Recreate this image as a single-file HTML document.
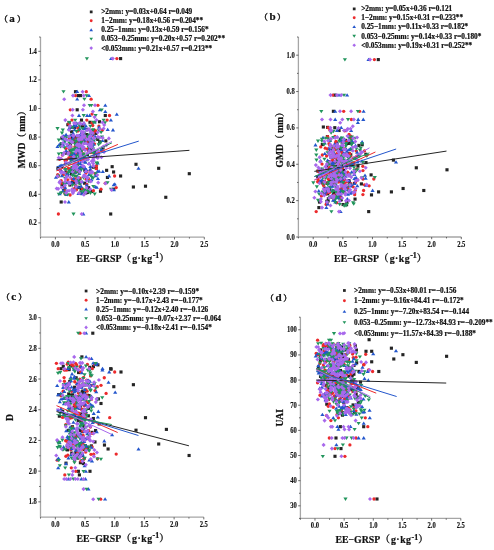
<!DOCTYPE html><html><head><meta charset="utf-8"><style>
html,body{margin:0;padding:0;background:#fff;}
svg{display:block;filter:blur(0.4px);}
text{font-family:'Liberation Serif', 'Noto Serif CJK SC', serif;font-weight:bold;fill:#111;stroke:#111;stroke-width:0.22px;}
.tl{font-size:6.6px;stroke-width:0.12px;}
.lg{font-size:6.4px;}
.pl{font-size:11px;}
.pp{font-size:8.4px;stroke-width:0.35px;}
.xl{font-size:9.8px;}
.sup{font-size:8px;}
.yl{font-size:9.6px;}
</style></head><body><svg width="494" height="550" viewBox="0 0 494 550">
<rect width="494" height="550" fill="#fff"/>
<path d="M40.50 37.00V237.20H204.30" fill="none" stroke="#a6a6a6" stroke-width="1.3"/>
<line x1="40.50" y1="237.20" x2="40.50" y2="238.60" stroke="#444" stroke-width="0.8"/>
<line x1="55.39" y1="237.20" x2="55.39" y2="239.40" stroke="#444" stroke-width="0.8"/>
<text transform="translate(55.39 247.00) scale(1 1.2)" class="tl" text-anchor="middle">0.0</text>
<line x1="70.28" y1="237.20" x2="70.28" y2="238.60" stroke="#444" stroke-width="0.8"/>
<line x1="85.17" y1="237.20" x2="85.17" y2="239.40" stroke="#444" stroke-width="0.8"/>
<text transform="translate(85.17 247.00) scale(1 1.2)" class="tl" text-anchor="middle">0.5</text>
<line x1="100.06" y1="237.20" x2="100.06" y2="238.60" stroke="#444" stroke-width="0.8"/>
<line x1="114.95" y1="237.20" x2="114.95" y2="239.40" stroke="#444" stroke-width="0.8"/>
<text transform="translate(114.95 247.00) scale(1 1.2)" class="tl" text-anchor="middle">1.0</text>
<line x1="129.85" y1="237.20" x2="129.85" y2="238.60" stroke="#444" stroke-width="0.8"/>
<line x1="144.74" y1="237.20" x2="144.74" y2="239.40" stroke="#444" stroke-width="0.8"/>
<text transform="translate(144.74 247.00) scale(1 1.2)" class="tl" text-anchor="middle">1.5</text>
<line x1="159.63" y1="237.20" x2="159.63" y2="238.60" stroke="#444" stroke-width="0.8"/>
<line x1="174.52" y1="237.20" x2="174.52" y2="239.40" stroke="#444" stroke-width="0.8"/>
<text transform="translate(174.52 247.00) scale(1 1.2)" class="tl" text-anchor="middle">2.0</text>
<line x1="189.41" y1="237.20" x2="189.41" y2="238.60" stroke="#444" stroke-width="0.8"/>
<line x1="204.30" y1="237.20" x2="204.30" y2="239.40" stroke="#444" stroke-width="0.8"/>
<text transform="translate(204.30 247.00) scale(1 1.2)" class="tl" text-anchor="middle">2.5</text>
<line x1="38.30" y1="222.90" x2="40.50" y2="222.90" stroke="#444" stroke-width="0.8"/>
<text transform="translate(36.90 225.45) scale(1 1.2)" class="tl" text-anchor="end">0.2</text>
<line x1="38.30" y1="194.30" x2="40.50" y2="194.30" stroke="#444" stroke-width="0.8"/>
<text transform="translate(36.90 196.85) scale(1 1.2)" class="tl" text-anchor="end">0.4</text>
<line x1="38.30" y1="165.70" x2="40.50" y2="165.70" stroke="#444" stroke-width="0.8"/>
<text transform="translate(36.90 168.25) scale(1 1.2)" class="tl" text-anchor="end">0.6</text>
<line x1="38.30" y1="137.10" x2="40.50" y2="137.10" stroke="#444" stroke-width="0.8"/>
<text transform="translate(36.90 139.65) scale(1 1.2)" class="tl" text-anchor="end">0.8</text>
<line x1="38.30" y1="108.50" x2="40.50" y2="108.50" stroke="#444" stroke-width="0.8"/>
<text transform="translate(36.90 111.05) scale(1 1.2)" class="tl" text-anchor="end">1.0</text>
<line x1="38.30" y1="79.90" x2="40.50" y2="79.90" stroke="#444" stroke-width="0.8"/>
<text transform="translate(36.90 82.45) scale(1 1.2)" class="tl" text-anchor="end">1.2</text>
<line x1="38.30" y1="51.30" x2="40.50" y2="51.30" stroke="#444" stroke-width="0.8"/>
<text transform="translate(36.90 53.85) scale(1 1.2)" class="tl" text-anchor="end">1.4</text>
<line x1="39.10" y1="208.60" x2="40.50" y2="208.60" stroke="#444" stroke-width="0.8"/>
<line x1="39.10" y1="180.00" x2="40.50" y2="180.00" stroke="#444" stroke-width="0.8"/>
<line x1="39.10" y1="151.40" x2="40.50" y2="151.40" stroke="#444" stroke-width="0.8"/>
<line x1="39.10" y1="122.80" x2="40.50" y2="122.80" stroke="#444" stroke-width="0.8"/>
<line x1="39.10" y1="94.20" x2="40.50" y2="94.20" stroke="#444" stroke-width="0.8"/>
<line x1="39.10" y1="65.60" x2="40.50" y2="65.60" stroke="#444" stroke-width="0.8"/>
<line x1="39.10" y1="37.00" x2="40.50" y2="37.00" stroke="#444" stroke-width="0.8"/>
<rect x="67.49" y="120.90" width="3.13" height="3.13" fill="#242424"/>
<rect x="94.26" y="131.82" width="3.13" height="3.13" fill="#242424"/>
<rect x="81.37" y="125.27" width="3.13" height="3.13" fill="#242424"/>
<rect x="85.25" y="133.01" width="3.13" height="3.13" fill="#242424"/>
<rect x="70.06" y="130.22" width="3.13" height="3.13" fill="#242424"/>
<rect x="92.13" y="128.60" width="3.13" height="3.13" fill="#242424"/>
<rect x="66.27" y="123.20" width="3.13" height="3.13" fill="#242424"/>
<rect x="73.16" y="125.78" width="3.13" height="3.13" fill="#242424"/>
<rect x="88.36" y="120.70" width="3.13" height="3.13" fill="#242424"/>
<rect x="85.64" y="128.11" width="3.13" height="3.13" fill="#242424"/>
<rect x="68.74" y="149.96" width="3.13" height="3.13" fill="#242424"/>
<rect x="64.86" y="151.62" width="3.13" height="3.13" fill="#242424"/>
<rect x="70.96" y="135.73" width="3.13" height="3.13" fill="#242424"/>
<rect x="96.20" y="137.85" width="3.13" height="3.13" fill="#242424"/>
<rect x="76.59" y="145.27" width="3.13" height="3.13" fill="#242424"/>
<rect x="80.05" y="157.92" width="3.13" height="3.13" fill="#242424"/>
<rect x="75.35" y="141.32" width="3.13" height="3.13" fill="#242424"/>
<rect x="104.27" y="139.35" width="3.13" height="3.13" fill="#242424"/>
<rect x="81.81" y="157.57" width="3.13" height="3.13" fill="#242424"/>
<rect x="76.18" y="151.63" width="3.13" height="3.13" fill="#242424"/>
<rect x="90.25" y="147.50" width="3.13" height="3.13" fill="#242424"/>
<rect x="59.56" y="143.18" width="3.13" height="3.13" fill="#242424"/>
<rect x="78.30" y="151.54" width="3.13" height="3.13" fill="#242424"/>
<rect x="85.82" y="153.11" width="3.13" height="3.13" fill="#242424"/>
<rect x="78.06" y="147.18" width="3.13" height="3.13" fill="#242424"/>
<rect x="98.14" y="140.29" width="3.13" height="3.13" fill="#242424"/>
<rect x="84.86" y="138.92" width="3.13" height="3.13" fill="#242424"/>
<rect x="80.23" y="136.55" width="3.13" height="3.13" fill="#242424"/>
<rect x="101.42" y="146.48" width="3.13" height="3.13" fill="#242424"/>
<rect x="87.20" y="141.71" width="3.13" height="3.13" fill="#242424"/>
<rect x="73.71" y="135.75" width="3.13" height="3.13" fill="#242424"/>
<rect x="66.11" y="150.86" width="3.13" height="3.13" fill="#242424"/>
<rect x="74.89" y="146.46" width="3.13" height="3.13" fill="#242424"/>
<rect x="85.55" y="134.31" width="3.13" height="3.13" fill="#242424"/>
<rect x="86.38" y="138.49" width="3.13" height="3.13" fill="#242424"/>
<rect x="70.61" y="134.20" width="3.13" height="3.13" fill="#242424"/>
<rect x="72.82" y="139.56" width="3.13" height="3.13" fill="#242424"/>
<rect x="60.28" y="136.59" width="3.13" height="3.13" fill="#242424"/>
<rect x="80.64" y="137.33" width="3.13" height="3.13" fill="#242424"/>
<rect x="79.83" y="134.58" width="3.13" height="3.13" fill="#242424"/>
<rect x="89.33" y="146.21" width="3.13" height="3.13" fill="#242424"/>
<rect x="71.66" y="137.23" width="3.13" height="3.13" fill="#242424"/>
<rect x="93.29" y="150.89" width="3.13" height="3.13" fill="#242424"/>
<rect x="74.73" y="144.15" width="3.13" height="3.13" fill="#242424"/>
<rect x="72.34" y="139.75" width="3.13" height="3.13" fill="#242424"/>
<rect x="68.77" y="153.61" width="3.13" height="3.13" fill="#242424"/>
<rect x="79.63" y="153.46" width="3.13" height="3.13" fill="#242424"/>
<rect x="68.95" y="142.74" width="3.13" height="3.13" fill="#242424"/>
<rect x="95.61" y="155.18" width="3.13" height="3.13" fill="#242424"/>
<rect x="82.75" y="155.27" width="3.13" height="3.13" fill="#242424"/>
<rect x="68.40" y="183.48" width="3.13" height="3.13" fill="#242424"/>
<rect x="65.70" y="173.84" width="3.13" height="3.13" fill="#242424"/>
<rect x="79.57" y="187.50" width="3.13" height="3.13" fill="#242424"/>
<rect x="77.24" y="185.95" width="3.13" height="3.13" fill="#242424"/>
<rect x="63.12" y="189.43" width="3.13" height="3.13" fill="#242424"/>
<rect x="105.87" y="175.88" width="3.13" height="3.13" fill="#242424"/>
<rect x="60.46" y="183.35" width="3.13" height="3.13" fill="#242424"/>
<rect x="56.48" y="166.72" width="3.13" height="3.13" fill="#242424"/>
<rect x="78.38" y="177.10" width="3.13" height="3.13" fill="#242424"/>
<rect x="87.05" y="186.12" width="3.13" height="3.13" fill="#242424"/>
<rect x="82.98" y="181.62" width="3.13" height="3.13" fill="#242424"/>
<rect x="74.10" y="185.45" width="3.13" height="3.13" fill="#242424"/>
<rect x="78.30" y="181.42" width="3.13" height="3.13" fill="#242424"/>
<rect x="98.92" y="189.64" width="3.13" height="3.13" fill="#242424"/>
<rect x="79.22" y="191.47" width="3.13" height="3.13" fill="#242424"/>
<rect x="78.33" y="168.11" width="3.13" height="3.13" fill="#242424"/>
<rect x="70.91" y="168.85" width="3.13" height="3.13" fill="#242424"/>
<rect x="69.88" y="172.48" width="3.13" height="3.13" fill="#242424"/>
<rect x="110.60" y="165.11" width="3.13" height="3.13" fill="#242424"/>
<rect x="85.10" y="189.50" width="3.13" height="3.13" fill="#242424"/>
<rect x="94.68" y="166.48" width="3.13" height="3.13" fill="#242424"/>
<rect x="73.13" y="181.43" width="3.13" height="3.13" fill="#242424"/>
<rect x="70.69" y="180.87" width="3.13" height="3.13" fill="#242424"/>
<rect x="60.26" y="165.20" width="3.13" height="3.13" fill="#242424"/>
<rect x="90.22" y="189.96" width="3.13" height="3.13" fill="#242424"/>
<rect x="56.67" y="167.83" width="3.13" height="3.13" fill="#242424"/>
<rect x="74.67" y="178.95" width="3.13" height="3.13" fill="#242424"/>
<rect x="81.87" y="165.62" width="3.13" height="3.13" fill="#242424"/>
<rect x="91.53" y="165.61" width="3.13" height="3.13" fill="#242424"/>
<rect x="62.14" y="188.81" width="3.13" height="3.13" fill="#242424"/>
<rect x="64.15" y="170.42" width="3.13" height="3.13" fill="#242424"/>
<rect x="105.07" y="168.76" width="3.13" height="3.13" fill="#242424"/>
<rect x="85.81" y="190.92" width="3.13" height="3.13" fill="#242424"/>
<rect x="84.24" y="191.41" width="3.13" height="3.13" fill="#242424"/>
<rect x="83.22" y="168.62" width="3.13" height="3.13" fill="#242424"/>
<rect x="97.97" y="120.19" width="3.13" height="3.13" fill="#242424"/>
<rect x="119.03" y="57.03" width="3.13" height="3.13" fill="#242424"/>
<rect x="73.93" y="90.13" width="3.13" height="3.13" fill="#242424"/>
<rect x="76.73" y="94.03" width="3.13" height="3.13" fill="#242424"/>
<rect x="78.93" y="94.03" width="3.13" height="3.13" fill="#242424"/>
<rect x="75.63" y="108.23" width="3.13" height="3.13" fill="#242424"/>
<rect x="103.73" y="113.93" width="3.13" height="3.13" fill="#242424"/>
<rect x="79.93" y="118.53" width="3.13" height="3.13" fill="#242424"/>
<rect x="80.53" y="124.53" width="3.13" height="3.13" fill="#242424"/>
<rect x="59.63" y="200.43" width="3.13" height="3.13" fill="#242424"/>
<rect x="109.13" y="212.43" width="3.13" height="3.13" fill="#242424"/>
<rect x="134.43" y="162.73" width="3.13" height="3.13" fill="#242424"/>
<rect x="157.13" y="166.73" width="3.13" height="3.13" fill="#242424"/>
<rect x="187.73" y="172.13" width="3.13" height="3.13" fill="#242424"/>
<rect x="112.03" y="170.43" width="3.13" height="3.13" fill="#242424"/>
<rect x="119.03" y="174.43" width="3.13" height="3.13" fill="#242424"/>
<rect x="131.83" y="185.43" width="3.13" height="3.13" fill="#242424"/>
<rect x="143.93" y="184.63" width="3.13" height="3.13" fill="#242424"/>
<rect x="164.23" y="195.73" width="3.13" height="3.13" fill="#242424"/>
<rect x="112.23" y="187.63" width="3.13" height="3.13" fill="#242424"/>
<circle cx="68.82" cy="124.08" r="1.65" fill="#ec2a2c"/>
<circle cx="77.74" cy="131.00" r="1.65" fill="#ec2a2c"/>
<circle cx="92.73" cy="125.48" r="1.65" fill="#ec2a2c"/>
<circle cx="77.90" cy="127.72" r="1.65" fill="#ec2a2c"/>
<circle cx="95.60" cy="130.73" r="1.65" fill="#ec2a2c"/>
<circle cx="71.40" cy="127.45" r="1.65" fill="#ec2a2c"/>
<circle cx="70.55" cy="126.72" r="1.65" fill="#ec2a2c"/>
<circle cx="93.63" cy="132.48" r="1.65" fill="#ec2a2c"/>
<circle cx="83.24" cy="124.44" r="1.65" fill="#ec2a2c"/>
<circle cx="83.15" cy="135.67" r="1.65" fill="#ec2a2c"/>
<circle cx="84.74" cy="149.09" r="1.65" fill="#ec2a2c"/>
<circle cx="80.09" cy="151.56" r="1.65" fill="#ec2a2c"/>
<circle cx="73.39" cy="141.19" r="1.65" fill="#ec2a2c"/>
<circle cx="80.41" cy="137.03" r="1.65" fill="#ec2a2c"/>
<circle cx="87.08" cy="142.66" r="1.65" fill="#ec2a2c"/>
<circle cx="69.15" cy="148.40" r="1.65" fill="#ec2a2c"/>
<circle cx="83.37" cy="153.99" r="1.65" fill="#ec2a2c"/>
<circle cx="83.36" cy="147.90" r="1.65" fill="#ec2a2c"/>
<circle cx="59.59" cy="159.25" r="1.65" fill="#ec2a2c"/>
<circle cx="75.79" cy="153.91" r="1.65" fill="#ec2a2c"/>
<circle cx="87.58" cy="148.79" r="1.65" fill="#ec2a2c"/>
<circle cx="72.12" cy="142.32" r="1.65" fill="#ec2a2c"/>
<circle cx="80.66" cy="157.11" r="1.65" fill="#ec2a2c"/>
<circle cx="69.87" cy="145.51" r="1.65" fill="#ec2a2c"/>
<circle cx="86.79" cy="142.91" r="1.65" fill="#ec2a2c"/>
<circle cx="80.57" cy="159.05" r="1.65" fill="#ec2a2c"/>
<circle cx="69.52" cy="138.42" r="1.65" fill="#ec2a2c"/>
<circle cx="82.66" cy="139.34" r="1.65" fill="#ec2a2c"/>
<circle cx="74.92" cy="146.86" r="1.65" fill="#ec2a2c"/>
<circle cx="84.12" cy="158.10" r="1.65" fill="#ec2a2c"/>
<circle cx="80.38" cy="142.60" r="1.65" fill="#ec2a2c"/>
<circle cx="62.33" cy="154.99" r="1.65" fill="#ec2a2c"/>
<circle cx="71.49" cy="141.69" r="1.65" fill="#ec2a2c"/>
<circle cx="90.87" cy="152.56" r="1.65" fill="#ec2a2c"/>
<circle cx="70.93" cy="146.73" r="1.65" fill="#ec2a2c"/>
<circle cx="78.36" cy="136.58" r="1.65" fill="#ec2a2c"/>
<circle cx="71.60" cy="153.47" r="1.65" fill="#ec2a2c"/>
<circle cx="88.43" cy="149.31" r="1.65" fill="#ec2a2c"/>
<circle cx="94.39" cy="143.84" r="1.65" fill="#ec2a2c"/>
<circle cx="77.55" cy="142.11" r="1.65" fill="#ec2a2c"/>
<circle cx="74.26" cy="138.25" r="1.65" fill="#ec2a2c"/>
<circle cx="80.38" cy="145.11" r="1.65" fill="#ec2a2c"/>
<circle cx="80.23" cy="145.95" r="1.65" fill="#ec2a2c"/>
<circle cx="84.93" cy="136.53" r="1.65" fill="#ec2a2c"/>
<circle cx="85.31" cy="140.84" r="1.65" fill="#ec2a2c"/>
<circle cx="80.01" cy="150.90" r="1.65" fill="#ec2a2c"/>
<circle cx="69.92" cy="152.66" r="1.65" fill="#ec2a2c"/>
<circle cx="80.67" cy="159.79" r="1.65" fill="#ec2a2c"/>
<circle cx="98.03" cy="152.81" r="1.65" fill="#ec2a2c"/>
<circle cx="73.60" cy="158.48" r="1.65" fill="#ec2a2c"/>
<circle cx="81.33" cy="151.42" r="1.65" fill="#ec2a2c"/>
<circle cx="88.18" cy="150.58" r="1.65" fill="#ec2a2c"/>
<circle cx="70.98" cy="156.73" r="1.65" fill="#ec2a2c"/>
<circle cx="92.64" cy="135.33" r="1.65" fill="#ec2a2c"/>
<circle cx="79.23" cy="139.72" r="1.65" fill="#ec2a2c"/>
<circle cx="84.00" cy="137.16" r="1.65" fill="#ec2a2c"/>
<circle cx="65.91" cy="148.55" r="1.65" fill="#ec2a2c"/>
<circle cx="68.80" cy="157.98" r="1.65" fill="#ec2a2c"/>
<circle cx="78.03" cy="154.45" r="1.65" fill="#ec2a2c"/>
<circle cx="83.43" cy="148.73" r="1.65" fill="#ec2a2c"/>
<circle cx="86.68" cy="171.37" r="1.65" fill="#ec2a2c"/>
<circle cx="74.65" cy="172.67" r="1.65" fill="#ec2a2c"/>
<circle cx="72.15" cy="179.46" r="1.65" fill="#ec2a2c"/>
<circle cx="66.49" cy="160.02" r="1.65" fill="#ec2a2c"/>
<circle cx="95.07" cy="173.45" r="1.65" fill="#ec2a2c"/>
<circle cx="70.10" cy="194.98" r="1.65" fill="#ec2a2c"/>
<circle cx="68.22" cy="168.47" r="1.65" fill="#ec2a2c"/>
<circle cx="65.00" cy="193.79" r="1.65" fill="#ec2a2c"/>
<circle cx="74.26" cy="180.30" r="1.65" fill="#ec2a2c"/>
<circle cx="82.41" cy="188.76" r="1.65" fill="#ec2a2c"/>
<circle cx="60.24" cy="170.23" r="1.65" fill="#ec2a2c"/>
<circle cx="61.97" cy="183.09" r="1.65" fill="#ec2a2c"/>
<circle cx="73.32" cy="188.81" r="1.65" fill="#ec2a2c"/>
<circle cx="76.42" cy="170.76" r="1.65" fill="#ec2a2c"/>
<circle cx="65.33" cy="163.72" r="1.65" fill="#ec2a2c"/>
<circle cx="86.16" cy="179.37" r="1.65" fill="#ec2a2c"/>
<circle cx="69.47" cy="163.56" r="1.65" fill="#ec2a2c"/>
<circle cx="64.55" cy="187.32" r="1.65" fill="#ec2a2c"/>
<circle cx="96.49" cy="168.68" r="1.65" fill="#ec2a2c"/>
<circle cx="57.72" cy="174.75" r="1.65" fill="#ec2a2c"/>
<circle cx="60.71" cy="170.81" r="1.65" fill="#ec2a2c"/>
<circle cx="76.55" cy="189.79" r="1.65" fill="#ec2a2c"/>
<circle cx="75.10" cy="178.98" r="1.65" fill="#ec2a2c"/>
<circle cx="96.53" cy="165.75" r="1.65" fill="#ec2a2c"/>
<circle cx="85.94" cy="173.04" r="1.65" fill="#ec2a2c"/>
<circle cx="93.43" cy="190.63" r="1.65" fill="#ec2a2c"/>
<circle cx="86.79" cy="184.47" r="1.65" fill="#ec2a2c"/>
<circle cx="77.98" cy="164.20" r="1.65" fill="#ec2a2c"/>
<circle cx="67.28" cy="172.73" r="1.65" fill="#ec2a2c"/>
<circle cx="65.10" cy="160.43" r="1.65" fill="#ec2a2c"/>
<circle cx="88.47" cy="178.81" r="1.65" fill="#ec2a2c"/>
<circle cx="63.40" cy="174.63" r="1.65" fill="#ec2a2c"/>
<circle cx="105.29" cy="183.16" r="1.65" fill="#ec2a2c"/>
<circle cx="79.46" cy="178.01" r="1.65" fill="#ec2a2c"/>
<circle cx="64.90" cy="190.86" r="1.65" fill="#ec2a2c"/>
<circle cx="70.30" cy="168.69" r="1.65" fill="#ec2a2c"/>
<circle cx="67.85" cy="179.84" r="1.65" fill="#ec2a2c"/>
<circle cx="58.56" cy="176.03" r="1.65" fill="#ec2a2c"/>
<circle cx="61.18" cy="180.73" r="1.65" fill="#ec2a2c"/>
<circle cx="78.82" cy="170.22" r="1.65" fill="#ec2a2c"/>
<circle cx="100.98" cy="189.13" r="1.65" fill="#ec2a2c"/>
<circle cx="77.83" cy="171.60" r="1.65" fill="#ec2a2c"/>
<circle cx="90.27" cy="172.61" r="1.65" fill="#ec2a2c"/>
<circle cx="76.75" cy="176.36" r="1.65" fill="#ec2a2c"/>
<circle cx="90.22" cy="170.61" r="1.65" fill="#ec2a2c"/>
<circle cx="75.89" cy="186.10" r="1.65" fill="#ec2a2c"/>
<circle cx="99.58" cy="129.11" r="1.65" fill="#ec2a2c"/>
<circle cx="102.58" cy="130.01" r="1.65" fill="#ec2a2c"/>
<circle cx="91.99" cy="114.05" r="1.65" fill="#ec2a2c"/>
<circle cx="116.90" cy="58.60" r="1.65" fill="#ec2a2c"/>
<circle cx="86.30" cy="91.70" r="1.65" fill="#ec2a2c"/>
<circle cx="75.50" cy="95.60" r="1.65" fill="#ec2a2c"/>
<circle cx="91.10" cy="99.20" r="1.65" fill="#ec2a2c"/>
<circle cx="97.90" cy="105.30" r="1.65" fill="#ec2a2c"/>
<circle cx="70.30" cy="109.80" r="1.65" fill="#ec2a2c"/>
<circle cx="109.50" cy="115.50" r="1.65" fill="#ec2a2c"/>
<circle cx="72.00" cy="120.10" r="1.65" fill="#ec2a2c"/>
<circle cx="86.80" cy="120.10" r="1.65" fill="#ec2a2c"/>
<circle cx="107.10" cy="120.10" r="1.65" fill="#ec2a2c"/>
<circle cx="92.00" cy="123.00" r="1.65" fill="#ec2a2c"/>
<circle cx="98.90" cy="126.10" r="1.65" fill="#ec2a2c"/>
<circle cx="58.40" cy="214.00" r="1.65" fill="#ec2a2c"/>
<circle cx="116.20" cy="187.60" r="1.65" fill="#ec2a2c"/>
<circle cx="114.60" cy="176.00" r="1.65" fill="#ec2a2c"/>
<path d="M73.20 131.46L75.29 134.78L71.12 134.78Z" fill="#2356cc"/>
<path d="M76.17 123.72L78.26 127.04L74.09 127.04Z" fill="#2356cc"/>
<path d="M84.16 126.66L86.25 129.98L82.07 129.98Z" fill="#2356cc"/>
<path d="M80.94 132.03L83.03 135.35L78.86 135.35Z" fill="#2356cc"/>
<path d="M94.67 120.15L96.76 123.47L92.58 123.47Z" fill="#2356cc"/>
<path d="M83.82 122.06L85.91 125.38L81.73 125.38Z" fill="#2356cc"/>
<path d="M90.51 132.83L92.60 136.15L88.42 136.15Z" fill="#2356cc"/>
<path d="M76.63 121.36L78.71 124.68L74.54 124.68Z" fill="#2356cc"/>
<path d="M70.75 125.44L72.83 128.77L68.66 128.77Z" fill="#2356cc"/>
<path d="M79.65 126.91L81.74 130.23L77.56 130.23Z" fill="#2356cc"/>
<path d="M107.69 127.78L109.78 131.10L105.61 131.10Z" fill="#2356cc"/>
<path d="M85.26 126.85L87.35 130.17L83.17 130.17Z" fill="#2356cc"/>
<path d="M92.31 132.43L94.40 135.75L90.23 135.75Z" fill="#2356cc"/>
<path d="M73.70 123.63L75.79 126.95L71.61 126.95Z" fill="#2356cc"/>
<path d="M66.09 132.85L68.18 136.17L64.01 136.17Z" fill="#2356cc"/>
<path d="M82.44 132.10L84.52 135.42L80.35 135.42Z" fill="#2356cc"/>
<path d="M68.95 126.86L71.03 130.18L66.86 130.18Z" fill="#2356cc"/>
<path d="M99.03 125.28L101.12 128.60L96.94 128.60Z" fill="#2356cc"/>
<path d="M74.61 127.83L76.70 131.15L72.52 131.15Z" fill="#2356cc"/>
<path d="M80.71 132.60L82.79 135.92L78.62 135.92Z" fill="#2356cc"/>
<path d="M70.40 124.24L72.49 127.56L68.32 127.56Z" fill="#2356cc"/>
<path d="M90.77 139.42L92.85 142.74L88.68 142.74Z" fill="#2356cc"/>
<path d="M93.70 142.40L95.79 145.72L91.61 145.72Z" fill="#2356cc"/>
<path d="M73.46 135.14L75.54 138.46L71.37 138.46Z" fill="#2356cc"/>
<path d="M80.36 133.94L82.44 137.26L78.27 137.26Z" fill="#2356cc"/>
<path d="M74.38 151.86L76.47 155.18L72.30 155.18Z" fill="#2356cc"/>
<path d="M84.51 140.91L86.60 144.23L82.42 144.23Z" fill="#2356cc"/>
<path d="M95.08 134.52L97.16 137.84L92.99 137.84Z" fill="#2356cc"/>
<path d="M102.47 138.78L104.56 142.10L100.39 142.10Z" fill="#2356cc"/>
<path d="M67.65 143.48L69.74 146.80L65.57 146.80Z" fill="#2356cc"/>
<path d="M78.50 147.06L80.59 150.38L76.41 150.38Z" fill="#2356cc"/>
<path d="M72.69 158.08L74.78 161.40L70.60 161.40Z" fill="#2356cc"/>
<path d="M63.21 142.39L65.30 145.71L61.12 145.71Z" fill="#2356cc"/>
<path d="M77.10 142.44L79.18 145.76L75.01 145.76Z" fill="#2356cc"/>
<path d="M76.67 149.03L78.76 152.35L74.58 152.35Z" fill="#2356cc"/>
<path d="M79.97 146.22L82.06 149.54L77.88 149.54Z" fill="#2356cc"/>
<path d="M79.49 139.51L81.58 142.83L77.41 142.83Z" fill="#2356cc"/>
<path d="M74.32 152.40L76.40 155.72L72.23 155.72Z" fill="#2356cc"/>
<path d="M81.74 145.33L83.83 148.65L79.65 148.65Z" fill="#2356cc"/>
<path d="M77.76 149.10L79.85 152.42L75.67 152.42Z" fill="#2356cc"/>
<path d="M83.59 137.18L85.68 140.50L81.50 140.50Z" fill="#2356cc"/>
<path d="M62.69 143.54L64.78 146.86L60.60 146.86Z" fill="#2356cc"/>
<path d="M63.87 133.91L65.95 137.23L61.78 137.23Z" fill="#2356cc"/>
<path d="M73.36 154.39L75.45 157.71L71.27 157.71Z" fill="#2356cc"/>
<path d="M82.21 135.04L84.30 138.36L80.13 138.36Z" fill="#2356cc"/>
<path d="M80.56 154.66L82.65 157.98L78.47 157.98Z" fill="#2356cc"/>
<path d="M95.78 151.23L97.86 154.55L93.69 154.55Z" fill="#2356cc"/>
<path d="M70.37 133.76L72.45 137.08L68.28 137.08Z" fill="#2356cc"/>
<path d="M64.25 140.30L66.34 143.62L62.17 143.62Z" fill="#2356cc"/>
<path d="M83.35 153.22L85.44 156.54L81.26 156.54Z" fill="#2356cc"/>
<path d="M72.66 136.94L74.75 140.26L70.57 140.26Z" fill="#2356cc"/>
<path d="M63.45 137.25L65.54 140.57L61.36 140.57Z" fill="#2356cc"/>
<path d="M76.97 146.64L79.06 149.97L74.88 149.97Z" fill="#2356cc"/>
<path d="M85.77 137.91L87.86 141.24L83.69 141.24Z" fill="#2356cc"/>
<path d="M77.37 146.20L79.46 149.52L75.28 149.52Z" fill="#2356cc"/>
<path d="M71.17 152.64L73.25 155.96L69.08 155.96Z" fill="#2356cc"/>
<path d="M101.30 147.77L103.39 151.09L99.21 151.09Z" fill="#2356cc"/>
<path d="M82.01 155.28L84.10 158.60L79.92 158.60Z" fill="#2356cc"/>
<path d="M69.07 151.50L71.16 154.82L66.98 154.82Z" fill="#2356cc"/>
<path d="M91.10 136.40L93.19 139.72L89.01 139.72Z" fill="#2356cc"/>
<path d="M89.26 147.20L91.34 150.52L87.17 150.52Z" fill="#2356cc"/>
<path d="M78.80 156.67L80.89 159.99L76.72 159.99Z" fill="#2356cc"/>
<path d="M70.89 156.61L72.97 159.93L68.80 159.93Z" fill="#2356cc"/>
<path d="M73.90 152.02L75.99 155.34L71.82 155.34Z" fill="#2356cc"/>
<path d="M59.25 142.76L61.34 146.08L57.16 146.08Z" fill="#2356cc"/>
<path d="M79.19 152.12L81.28 155.44L77.10 155.44Z" fill="#2356cc"/>
<path d="M66.05 149.01L68.14 152.33L63.97 152.33Z" fill="#2356cc"/>
<path d="M73.95 147.55L76.03 150.87L71.86 150.87Z" fill="#2356cc"/>
<path d="M80.58 148.34L82.66 151.66L78.49 151.66Z" fill="#2356cc"/>
<path d="M93.75 138.22L95.84 141.55L91.66 141.55Z" fill="#2356cc"/>
<path d="M84.59 133.80L86.68 137.12L82.50 137.12Z" fill="#2356cc"/>
<path d="M89.94 141.43L92.03 144.75L87.85 144.75Z" fill="#2356cc"/>
<path d="M78.35 137.53L80.44 140.85L76.26 140.85Z" fill="#2356cc"/>
<path d="M81.75 156.88L83.84 160.21L79.67 160.21Z" fill="#2356cc"/>
<path d="M77.05 157.48L79.14 160.80L74.97 160.80Z" fill="#2356cc"/>
<path d="M94.22 154.59L96.31 157.91L92.13 157.91Z" fill="#2356cc"/>
<path d="M101.41 148.17L103.50 151.49L99.33 151.49Z" fill="#2356cc"/>
<path d="M89.10 141.86L91.19 145.18L87.01 145.18Z" fill="#2356cc"/>
<path d="M92.31 143.83L94.40 147.15L90.22 147.15Z" fill="#2356cc"/>
<path d="M76.37 155.71L78.46 159.03L74.29 159.03Z" fill="#2356cc"/>
<path d="M76.80 145.73L78.88 149.05L74.71 149.05Z" fill="#2356cc"/>
<path d="M80.34 154.70L82.43 158.02L78.25 158.02Z" fill="#2356cc"/>
<path d="M77.74 152.59L79.82 155.91L75.65 155.91Z" fill="#2356cc"/>
<path d="M101.55 148.16L103.64 151.48L99.46 151.48Z" fill="#2356cc"/>
<path d="M81.00 136.79L83.09 140.11L78.91 140.11Z" fill="#2356cc"/>
<path d="M62.90 188.91L64.99 192.23L60.82 192.23Z" fill="#2356cc"/>
<path d="M66.84 172.39L68.93 175.71L64.75 175.71Z" fill="#2356cc"/>
<path d="M59.61 191.83L61.70 195.15L57.52 195.15Z" fill="#2356cc"/>
<path d="M65.94 180.51L68.02 183.83L63.85 183.83Z" fill="#2356cc"/>
<path d="M66.32 192.73L68.41 196.06L64.24 196.06Z" fill="#2356cc"/>
<path d="M89.01 161.57L91.10 164.89L86.92 164.89Z" fill="#2356cc"/>
<path d="M69.49 169.56L71.57 172.88L67.40 172.88Z" fill="#2356cc"/>
<path d="M84.88 159.86L86.96 163.18L82.79 163.18Z" fill="#2356cc"/>
<path d="M89.05 172.56L91.13 175.88L86.96 175.88Z" fill="#2356cc"/>
<path d="M79.58 168.37L81.67 171.69L77.50 171.69Z" fill="#2356cc"/>
<path d="M67.83 180.86L69.92 184.18L65.75 184.18Z" fill="#2356cc"/>
<path d="M113.72 182.88L115.80 186.20L111.63 186.20Z" fill="#2356cc"/>
<path d="M97.69 161.18L99.78 164.50L95.60 164.50Z" fill="#2356cc"/>
<path d="M97.92 176.67L100.01 179.99L95.83 179.99Z" fill="#2356cc"/>
<path d="M91.39 177.80L93.48 181.12L89.30 181.12Z" fill="#2356cc"/>
<path d="M79.37 165.80L81.46 169.12L77.28 169.12Z" fill="#2356cc"/>
<path d="M80.35 161.78L82.44 165.10L78.26 165.10Z" fill="#2356cc"/>
<path d="M55.95 175.42L58.04 178.74L53.87 178.74Z" fill="#2356cc"/>
<path d="M86.32 167.74L88.41 171.06L84.24 171.06Z" fill="#2356cc"/>
<path d="M82.30 179.93L84.39 183.25L80.22 183.25Z" fill="#2356cc"/>
<path d="M68.17 171.93L70.25 175.26L66.08 175.26Z" fill="#2356cc"/>
<path d="M80.97 164.70L83.06 168.02L78.88 168.02Z" fill="#2356cc"/>
<path d="M85.09 166.31L87.18 169.63L83.00 169.63Z" fill="#2356cc"/>
<path d="M61.90 163.54L63.99 166.86L59.81 166.86Z" fill="#2356cc"/>
<path d="M113.78 187.91L115.86 191.23L111.69 191.23Z" fill="#2356cc"/>
<path d="M75.58 170.47L77.67 173.79L73.50 173.79Z" fill="#2356cc"/>
<path d="M95.91 172.35L98.00 175.67L93.82 175.67Z" fill="#2356cc"/>
<path d="M71.26 158.51L73.34 161.83L69.17 161.83Z" fill="#2356cc"/>
<path d="M72.46 166.30L74.54 169.62L70.37 169.62Z" fill="#2356cc"/>
<path d="M79.20 171.79L81.28 175.11L77.11 175.11Z" fill="#2356cc"/>
<path d="M65.21 180.27L67.29 183.59L63.12 183.59Z" fill="#2356cc"/>
<path d="M90.37 164.78L92.45 168.10L88.28 168.10Z" fill="#2356cc"/>
<path d="M65.21 185.95L67.30 189.27L63.13 189.27Z" fill="#2356cc"/>
<path d="M99.07 169.36L101.16 172.68L96.99 172.68Z" fill="#2356cc"/>
<path d="M90.26 167.34L92.34 170.66L88.17 170.66Z" fill="#2356cc"/>
<path d="M95.29 184.95L97.38 188.27L93.20 188.27Z" fill="#2356cc"/>
<path d="M78.53 191.57L80.62 194.89L76.45 194.89Z" fill="#2356cc"/>
<path d="M97.56 169.41L99.65 172.73L95.47 172.73Z" fill="#2356cc"/>
<path d="M102.82 169.69L104.90 173.01L100.73 173.01Z" fill="#2356cc"/>
<path d="M61.88 173.81L63.97 177.13L59.79 177.13Z" fill="#2356cc"/>
<path d="M85.57 169.74L87.66 173.06L83.49 173.06Z" fill="#2356cc"/>
<path d="M74.01 164.13L76.10 167.45L71.92 167.45Z" fill="#2356cc"/>
<path d="M70.17 181.03L72.26 184.35L68.09 184.35Z" fill="#2356cc"/>
<path d="M81.29 159.45L83.38 162.78L79.20 162.78Z" fill="#2356cc"/>
<path d="M95.82 173.83L97.90 177.15L93.73 177.15Z" fill="#2356cc"/>
<path d="M71.97 180.84L74.05 184.16L69.88 184.16Z" fill="#2356cc"/>
<path d="M96.80 185.45L98.89 188.77L94.72 188.77Z" fill="#2356cc"/>
<path d="M87.18 175.16L89.27 178.48L85.09 178.48Z" fill="#2356cc"/>
<path d="M60.23 163.73L62.32 167.05L58.15 167.05Z" fill="#2356cc"/>
<path d="M71.63 166.51L73.72 169.83L69.55 169.83Z" fill="#2356cc"/>
<path d="M65.03 166.47L67.12 169.79L62.94 169.79Z" fill="#2356cc"/>
<path d="M90.69 178.97L92.77 182.29L88.60 182.29Z" fill="#2356cc"/>
<path d="M85.45 160.31L87.53 163.63L83.36 163.63Z" fill="#2356cc"/>
<path d="M75.66 165.22L77.75 168.54L73.57 168.54Z" fill="#2356cc"/>
<path d="M78.17 160.76L80.26 164.08L76.09 164.08Z" fill="#2356cc"/>
<path d="M82.29 191.88L84.38 195.20L80.20 195.20Z" fill="#2356cc"/>
<path d="M86.78 183.29L88.87 186.61L84.69 186.61Z" fill="#2356cc"/>
<path d="M81.12 184.35L83.21 187.67L79.03 187.67Z" fill="#2356cc"/>
<path d="M73.64 176.71L75.73 180.04L71.56 180.04Z" fill="#2356cc"/>
<path d="M64.29 183.06L66.38 186.38L62.20 186.38Z" fill="#2356cc"/>
<path d="M61.62 169.79L63.71 173.11L59.53 173.11Z" fill="#2356cc"/>
<path d="M77.14 178.98L79.23 182.30L75.06 182.30Z" fill="#2356cc"/>
<path d="M78.61 185.26L80.70 188.58L76.52 188.58Z" fill="#2356cc"/>
<path d="M81.44 190.17L83.52 193.49L79.35 193.49Z" fill="#2356cc"/>
<path d="M116.79 112.51L118.88 115.83L114.71 115.83Z" fill="#2356cc"/>
<path d="M111.10 56.70L113.19 60.02L109.01 60.02Z" fill="#2356cc"/>
<path d="M77.20 89.80L79.29 93.12L75.11 93.12Z" fill="#2356cc"/>
<path d="M89.00 93.70L91.09 97.02L86.91 97.02Z" fill="#2356cc"/>
<path d="M77.20 97.30L79.29 100.62L75.11 100.62Z" fill="#2356cc"/>
<path d="M105.30 103.40L107.39 106.72L103.21 106.72Z" fill="#2356cc"/>
<path d="M99.90 107.90L101.99 111.22L97.81 111.22Z" fill="#2356cc"/>
<path d="M105.30 109.70L107.39 113.02L103.21 113.02Z" fill="#2356cc"/>
<path d="M79.00 113.60L81.09 116.92L76.91 116.92Z" fill="#2356cc"/>
<path d="M87.10 113.60L89.19 116.92L85.01 116.92Z" fill="#2356cc"/>
<path d="M89.70 113.60L91.79 116.92L87.61 116.92Z" fill="#2356cc"/>
<path d="M110.90 118.20L112.99 121.52L108.81 121.52Z" fill="#2356cc"/>
<path d="M84.00 121.10L86.09 124.42L81.91 124.42Z" fill="#2356cc"/>
<path d="M74.80 124.20L76.89 127.52L72.71 127.52Z" fill="#2356cc"/>
<path d="M86.00 124.20L88.09 127.52L83.91 127.52Z" fill="#2356cc"/>
<path d="M113.00 128.10L115.09 131.42L110.91 131.42Z" fill="#2356cc"/>
<path d="M68.80 200.10L70.89 203.42L66.71 203.42Z" fill="#2356cc"/>
<path d="M83.30 212.10L85.39 215.42L81.21 215.42Z" fill="#2356cc"/>
<path d="M138.50 166.40L140.59 169.72L136.41 169.72Z" fill="#2356cc"/>
<path d="M114.80 182.20L116.89 185.52L112.71 185.52Z" fill="#2356cc"/>
<path d="M109.10 174.10L111.19 177.42L107.01 177.42Z" fill="#2356cc"/>
<path d="M57.50 144.70L59.59 148.02L55.41 148.02Z" fill="#2356cc"/>
<path d="M82.47 130.36L84.55 127.04L80.38 127.04Z" fill="#22955c"/>
<path d="M84.22 134.91L86.30 131.59L82.13 131.59Z" fill="#22955c"/>
<path d="M92.45 135.22L94.54 131.90L90.37 131.90Z" fill="#22955c"/>
<path d="M105.00 124.67L107.09 121.35L102.92 121.35Z" fill="#22955c"/>
<path d="M98.82 132.19L100.91 128.87L96.74 128.87Z" fill="#22955c"/>
<path d="M79.40 125.79L81.49 122.47L77.31 122.47Z" fill="#22955c"/>
<path d="M90.35 128.09L92.44 124.76L88.26 124.76Z" fill="#22955c"/>
<path d="M76.50 133.33L78.59 130.01L74.41 130.01Z" fill="#22955c"/>
<path d="M82.28 135.55L84.36 132.23L80.19 132.23Z" fill="#22955c"/>
<path d="M72.27 129.44L74.36 126.12L70.19 126.12Z" fill="#22955c"/>
<path d="M79.41 132.08L81.49 128.76L77.32 128.76Z" fill="#22955c"/>
<path d="M91.08 132.16L93.17 128.83L89.00 128.83Z" fill="#22955c"/>
<path d="M82.63 135.80L84.72 132.48L80.54 132.48Z" fill="#22955c"/>
<path d="M93.44 124.17L95.53 120.85L91.36 120.85Z" fill="#22955c"/>
<path d="M93.14 131.84L95.22 128.52L91.05 128.52Z" fill="#22955c"/>
<path d="M69.29 124.41L71.37 121.09L67.20 121.09Z" fill="#22955c"/>
<path d="M69.83 156.83L71.92 153.51L67.75 153.51Z" fill="#22955c"/>
<path d="M71.53 152.87L73.62 149.55L69.45 149.55Z" fill="#22955c"/>
<path d="M65.05 139.42L67.14 136.10L62.96 136.10Z" fill="#22955c"/>
<path d="M81.52 144.39L83.61 141.07L79.43 141.07Z" fill="#22955c"/>
<path d="M86.62 141.58L88.71 138.26L84.53 138.26Z" fill="#22955c"/>
<path d="M83.75 155.83L85.84 152.51L81.67 152.51Z" fill="#22955c"/>
<path d="M98.63 146.59L100.72 143.26L96.54 143.26Z" fill="#22955c"/>
<path d="M78.41 157.53L80.50 154.21L76.32 154.21Z" fill="#22955c"/>
<path d="M66.11 139.98L68.20 136.66L64.03 136.66Z" fill="#22955c"/>
<path d="M75.45 143.54L77.54 140.22L73.37 140.22Z" fill="#22955c"/>
<path d="M80.56 146.79L82.65 143.47L78.47 143.47Z" fill="#22955c"/>
<path d="M88.77 149.33L90.86 146.01L86.68 146.01Z" fill="#22955c"/>
<path d="M93.23 155.29L95.32 151.97L91.15 151.97Z" fill="#22955c"/>
<path d="M76.85 152.99L78.94 149.67L74.76 149.67Z" fill="#22955c"/>
<path d="M75.95 150.67L78.04 147.35L73.86 147.35Z" fill="#22955c"/>
<path d="M71.90 142.45L73.99 139.13L69.81 139.13Z" fill="#22955c"/>
<path d="M93.16 150.84L95.25 147.52L91.08 147.52Z" fill="#22955c"/>
<path d="M72.82 151.49L74.91 148.17L70.74 148.17Z" fill="#22955c"/>
<path d="M101.99 138.73L104.08 135.41L99.90 135.41Z" fill="#22955c"/>
<path d="M76.58 143.05L78.67 139.73L74.49 139.73Z" fill="#22955c"/>
<path d="M70.57 152.42L72.66 149.10L68.49 149.10Z" fill="#22955c"/>
<path d="M78.15 138.13L80.23 134.81L76.06 134.81Z" fill="#22955c"/>
<path d="M83.27 156.20L85.36 152.88L81.19 152.88Z" fill="#22955c"/>
<path d="M74.02 151.15L76.10 147.83L71.93 147.83Z" fill="#22955c"/>
<path d="M83.98 145.29L86.07 141.97L81.89 141.97Z" fill="#22955c"/>
<path d="M84.98 158.23L87.07 154.91L82.90 154.91Z" fill="#22955c"/>
<path d="M84.32 144.72L86.41 141.40L82.23 141.40Z" fill="#22955c"/>
<path d="M89.65 142.02L91.74 138.70L87.56 138.70Z" fill="#22955c"/>
<path d="M76.17 158.53L78.26 155.21L74.08 155.21Z" fill="#22955c"/>
<path d="M87.81 160.74L89.90 157.42L85.72 157.42Z" fill="#22955c"/>
<path d="M71.21 144.99L73.30 141.67L69.12 141.67Z" fill="#22955c"/>
<path d="M77.12 141.85L79.21 138.53L75.04 138.53Z" fill="#22955c"/>
<path d="M88.38 139.57L90.47 136.25L86.30 136.25Z" fill="#22955c"/>
<path d="M64.39 149.59L66.47 146.27L62.30 146.27Z" fill="#22955c"/>
<path d="M98.09 140.12L100.18 136.80L96.01 136.80Z" fill="#22955c"/>
<path d="M87.67 138.57L89.76 135.25L85.58 135.25Z" fill="#22955c"/>
<path d="M86.94 161.83L89.02 158.51L84.85 158.51Z" fill="#22955c"/>
<path d="M81.42 153.69L83.51 150.37L79.33 150.37Z" fill="#22955c"/>
<path d="M75.77 161.66L77.86 158.34L73.68 158.34Z" fill="#22955c"/>
<path d="M61.49 145.30L63.57 141.97L59.40 141.97Z" fill="#22955c"/>
<path d="M82.69 139.41L84.78 136.09L80.61 136.09Z" fill="#22955c"/>
<path d="M79.78 160.70L81.87 157.38L77.69 157.38Z" fill="#22955c"/>
<path d="M76.19 149.87L78.28 146.55L74.10 146.55Z" fill="#22955c"/>
<path d="M80.77 157.20L82.86 153.88L78.68 153.88Z" fill="#22955c"/>
<path d="M89.14 137.10L91.23 133.78L87.05 133.78Z" fill="#22955c"/>
<path d="M94.11 142.15L96.20 138.83L92.02 138.83Z" fill="#22955c"/>
<path d="M75.10 146.43L77.19 143.11L73.02 143.11Z" fill="#22955c"/>
<path d="M80.71 149.93L82.79 146.61L78.62 146.61Z" fill="#22955c"/>
<path d="M92.25 144.16L94.34 140.84L90.17 140.84Z" fill="#22955c"/>
<path d="M71.92 144.14L74.01 140.81L69.83 140.81Z" fill="#22955c"/>
<path d="M100.55 144.63L102.63 141.31L98.46 141.31Z" fill="#22955c"/>
<path d="M81.54 139.26L83.63 135.94L79.46 135.94Z" fill="#22955c"/>
<path d="M69.27 144.86L71.36 141.53L67.19 141.53Z" fill="#22955c"/>
<path d="M83.14 139.75L85.23 136.43L81.05 136.43Z" fill="#22955c"/>
<path d="M72.29 154.87L74.37 151.55L70.20 151.55Z" fill="#22955c"/>
<path d="M92.05 147.13L94.14 143.81L89.96 143.81Z" fill="#22955c"/>
<path d="M68.70 138.74L70.79 135.42L66.62 135.42Z" fill="#22955c"/>
<path d="M89.25 141.53L91.34 138.21L87.16 138.21Z" fill="#22955c"/>
<path d="M61.37 194.50L63.46 191.18L59.28 191.18Z" fill="#22955c"/>
<path d="M83.56 179.82L85.65 176.50L81.47 176.50Z" fill="#22955c"/>
<path d="M75.34 172.04L77.43 168.72L73.26 168.72Z" fill="#22955c"/>
<path d="M79.08 182.45L81.17 179.13L77.00 179.13Z" fill="#22955c"/>
<path d="M76.48 178.38L78.57 175.06L74.39 175.06Z" fill="#22955c"/>
<path d="M83.97 193.90L86.06 190.58L81.89 190.58Z" fill="#22955c"/>
<path d="M65.88 193.99L67.97 190.67L63.80 190.67Z" fill="#22955c"/>
<path d="M85.33 192.10L87.42 188.78L83.24 188.78Z" fill="#22955c"/>
<path d="M87.73 180.16L89.81 176.84L85.64 176.84Z" fill="#22955c"/>
<path d="M72.61 187.05L74.70 183.73L70.53 183.73Z" fill="#22955c"/>
<path d="M94.70 195.94L96.79 192.61L92.62 192.61Z" fill="#22955c"/>
<path d="M88.85 183.40L90.93 180.08L86.76 180.08Z" fill="#22955c"/>
<path d="M95.78 175.63L97.86 172.31L93.69 172.31Z" fill="#22955c"/>
<path d="M76.32 185.75L78.41 182.43L74.23 182.43Z" fill="#22955c"/>
<path d="M69.19 173.15L71.28 169.83L67.11 169.83Z" fill="#22955c"/>
<path d="M90.78 177.54L92.87 174.22L88.69 174.22Z" fill="#22955c"/>
<path d="M84.61 194.16L86.70 190.84L82.53 190.84Z" fill="#22955c"/>
<path d="M79.28 175.18L81.37 171.86L77.19 171.86Z" fill="#22955c"/>
<path d="M65.21 185.64L67.30 182.32L63.12 182.32Z" fill="#22955c"/>
<path d="M76.25 173.99L78.34 170.67L74.16 170.67Z" fill="#22955c"/>
<path d="M72.75 177.42L74.84 174.10L70.66 174.10Z" fill="#22955c"/>
<path d="M110.97 190.95L113.06 187.63L108.89 187.63Z" fill="#22955c"/>
<path d="M93.04 180.00L95.13 176.68L90.96 176.68Z" fill="#22955c"/>
<path d="M65.15 196.34L67.24 193.02L63.06 193.02Z" fill="#22955c"/>
<path d="M97.21 165.14L99.30 161.82L95.12 161.82Z" fill="#22955c"/>
<path d="M67.69 196.57L69.78 193.25L65.60 193.25Z" fill="#22955c"/>
<path d="M58.54 177.90L60.63 174.58L56.45 174.58Z" fill="#22955c"/>
<path d="M107.54 184.50L109.63 181.18L105.45 181.18Z" fill="#22955c"/>
<path d="M74.43 177.71L76.52 174.39L72.35 174.39Z" fill="#22955c"/>
<path d="M96.37 164.72L98.45 161.40L94.28 161.40Z" fill="#22955c"/>
<path d="M84.30 191.93L86.38 188.61L82.21 188.61Z" fill="#22955c"/>
<path d="M77.65 167.53L79.74 164.21L75.56 164.21Z" fill="#22955c"/>
<path d="M77.32 179.30L79.41 175.98L75.23 175.98Z" fill="#22955c"/>
<path d="M93.28 188.22L95.37 184.90L91.20 184.90Z" fill="#22955c"/>
<path d="M73.03 170.52L75.12 167.20L70.94 167.20Z" fill="#22955c"/>
<path d="M65.59 171.43L67.68 168.11L63.50 168.11Z" fill="#22955c"/>
<path d="M65.14 180.02L67.23 176.70L63.06 176.70Z" fill="#22955c"/>
<path d="M63.92 185.50L66.01 182.18L61.83 182.18Z" fill="#22955c"/>
<path d="M81.41 171.65L83.50 168.33L79.33 168.33Z" fill="#22955c"/>
<path d="M68.39 174.85L70.48 171.53L66.30 171.53Z" fill="#22955c"/>
<path d="M70.59 172.64L72.68 169.32L68.50 169.32Z" fill="#22955c"/>
<path d="M91.96 179.06L94.04 175.74L89.87 175.74Z" fill="#22955c"/>
<path d="M90.39 194.98L92.48 191.66L88.30 191.66Z" fill="#22955c"/>
<path d="M58.83 196.10L60.91 192.78L56.74 192.78Z" fill="#22955c"/>
<path d="M72.31 169.39L74.40 166.07L70.22 166.07Z" fill="#22955c"/>
<path d="M66.39 165.77L68.48 162.45L64.30 162.45Z" fill="#22955c"/>
<path d="M68.84 166.30L70.92 162.98L66.75 162.98Z" fill="#22955c"/>
<path d="M71.37 163.64L73.46 160.32L69.29 160.32Z" fill="#22955c"/>
<path d="M80.99 193.75L83.08 190.43L78.91 190.43Z" fill="#22955c"/>
<path d="M86.31 193.31L88.40 189.98L84.23 189.98Z" fill="#22955c"/>
<path d="M80.03 185.95L82.12 182.63L77.94 182.63Z" fill="#22955c"/>
<path d="M72.88 175.49L74.96 172.16L70.79 172.16Z" fill="#22955c"/>
<path d="M89.15 193.57L91.24 190.25L87.06 190.25Z" fill="#22955c"/>
<path d="M87.56 192.70L89.65 189.38L85.47 189.38Z" fill="#22955c"/>
<path d="M95.11 124.32L97.20 121.00L93.03 121.00Z" fill="#22955c"/>
<path d="M91.10 136.28L93.19 132.96L89.02 132.96Z" fill="#22955c"/>
<path d="M101.10 134.34L103.19 131.02L99.01 131.02Z" fill="#22955c"/>
<path d="M86.90 60.50L88.99 57.18L84.81 57.18Z" fill="#22955c"/>
<path d="M63.50 93.60L65.59 90.28L61.41 90.28Z" fill="#22955c"/>
<path d="M86.60 97.50L88.69 94.18L84.51 94.18Z" fill="#22955c"/>
<path d="M84.40 101.10L86.49 97.78L82.31 97.78Z" fill="#22955c"/>
<path d="M89.70 107.20L91.79 103.88L87.61 103.88Z" fill="#22955c"/>
<path d="M91.30 107.20L93.39 103.88L89.21 103.88Z" fill="#22955c"/>
<path d="M101.70 111.70L103.79 108.38L99.61 108.38Z" fill="#22955c"/>
<path d="M83.70 117.40L85.79 114.08L81.61 114.08Z" fill="#22955c"/>
<path d="M95.60 117.40L97.69 114.08L93.51 114.08Z" fill="#22955c"/>
<path d="M75.20 122.00L77.29 118.68L73.11 118.68Z" fill="#22955c"/>
<path d="M103.60 122.00L105.69 118.68L101.51 118.68Z" fill="#22955c"/>
<path d="M79.70 128.00L81.79 124.68L77.61 124.68Z" fill="#22955c"/>
<path d="M62.80 131.90L64.89 128.58L60.71 128.58Z" fill="#22955c"/>
<path d="M73.50 215.90L75.59 212.58L71.41 212.58Z" fill="#22955c"/>
<path d="M62.00 134.90L64.09 131.58L59.91 131.58Z" fill="#22955c"/>
<path d="M58.80 141.90L60.89 138.58L56.71 138.58Z" fill="#22955c"/>
<path d="M65.00 142.90L67.09 139.58L62.91 139.58Z" fill="#22955c"/>
<path d="M60.50 148.50L62.59 145.18L58.41 145.18Z" fill="#22955c"/>
<path d="M58.80 155.90L60.89 152.58L56.71 152.58Z" fill="#22955c"/>
<path d="M62.00 155.40L64.09 152.08L59.91 152.08Z" fill="#22955c"/>
<path d="M57.50 130.40L59.59 127.08L55.41 127.08Z" fill="#22955c"/>
<path d="M83.01 130.02L85.08 132.08L83.01 134.15L80.95 132.08Z" fill="#a868ec"/>
<path d="M83.66 130.30L85.72 132.36L83.66 134.42L81.60 132.36Z" fill="#a868ec"/>
<path d="M90.65 130.24L92.71 132.30L90.65 134.37L88.59 132.30Z" fill="#a868ec"/>
<path d="M83.84 121.13L85.90 123.19L83.84 125.25L81.78 123.19Z" fill="#a868ec"/>
<path d="M90.12 128.55L92.18 130.61L90.12 132.67L88.05 130.61Z" fill="#a868ec"/>
<path d="M81.93 132.22L83.99 134.28L81.93 136.35L79.87 134.28Z" fill="#a868ec"/>
<path d="M99.76 127.12L101.82 129.18L99.76 131.24L97.70 129.18Z" fill="#a868ec"/>
<path d="M86.88 128.28L88.94 130.34L86.88 132.40L84.82 130.34Z" fill="#a868ec"/>
<path d="M80.73 121.90L82.80 123.96L80.73 126.03L78.67 123.96Z" fill="#a868ec"/>
<path d="M75.62 121.40L77.68 123.46L75.62 125.52L73.55 123.46Z" fill="#a868ec"/>
<path d="M81.43 129.43L83.49 131.49L81.43 133.55L79.37 131.49Z" fill="#a868ec"/>
<path d="M97.69 130.36L99.75 132.43L97.69 134.49L95.63 132.43Z" fill="#a868ec"/>
<path d="M88.96 126.94L91.02 129.00L88.96 131.06L86.90 129.00Z" fill="#a868ec"/>
<path d="M92.61 131.04L94.67 133.10L92.61 135.16L90.55 133.10Z" fill="#a868ec"/>
<path d="M62.92 152.87L64.98 154.93L62.92 156.99L60.86 154.93Z" fill="#a868ec"/>
<path d="M81.49 155.00L83.55 157.07L81.49 159.13L79.43 157.07Z" fill="#a868ec"/>
<path d="M80.32 153.03L82.39 155.09L80.32 157.15L78.26 155.09Z" fill="#a868ec"/>
<path d="M73.76 154.62L75.82 156.68L73.76 158.74L71.70 156.68Z" fill="#a868ec"/>
<path d="M93.44 136.21L95.50 138.28L93.44 140.34L91.37 138.28Z" fill="#a868ec"/>
<path d="M67.02 142.32L69.08 144.38L67.02 146.45L64.96 144.38Z" fill="#a868ec"/>
<path d="M75.90 149.79L77.96 151.86L75.90 153.92L73.84 151.86Z" fill="#a868ec"/>
<path d="M94.07 136.08L96.13 138.14L94.07 140.21L92.01 138.14Z" fill="#a868ec"/>
<path d="M97.82 149.05L99.88 151.11L97.82 153.18L95.76 151.11Z" fill="#a868ec"/>
<path d="M61.02 156.42L63.08 158.48L61.02 160.54L58.95 158.48Z" fill="#a868ec"/>
<path d="M91.09 142.81L93.15 144.88L91.09 146.94L89.02 144.88Z" fill="#a868ec"/>
<path d="M81.60 144.06L83.66 146.12L81.60 148.18L79.53 146.12Z" fill="#a868ec"/>
<path d="M77.19 142.47L79.25 144.54L77.19 146.60L75.13 144.54Z" fill="#a868ec"/>
<path d="M90.61 142.62L92.67 144.69L90.61 146.75L88.55 144.69Z" fill="#a868ec"/>
<path d="M78.57 157.76L80.63 159.82L78.57 161.89L76.51 159.82Z" fill="#a868ec"/>
<path d="M70.07 138.37L72.13 140.43L70.07 142.49L68.01 140.43Z" fill="#a868ec"/>
<path d="M97.77 155.85L99.83 157.91L97.77 159.97L95.71 157.91Z" fill="#a868ec"/>
<path d="M91.56 145.04L93.62 147.11L91.56 149.17L89.49 147.11Z" fill="#a868ec"/>
<path d="M86.54 137.42L88.60 139.48L86.54 141.55L84.48 139.48Z" fill="#a868ec"/>
<path d="M68.12 151.96L70.19 154.02L68.12 156.09L66.06 154.02Z" fill="#a868ec"/>
<path d="M68.33 150.63L70.40 152.69L68.33 154.76L66.27 152.69Z" fill="#a868ec"/>
<path d="M76.72 147.85L78.79 149.92L76.72 151.98L74.66 149.92Z" fill="#a868ec"/>
<path d="M65.12 136.82L67.18 138.88L65.12 140.94L63.05 138.88Z" fill="#a868ec"/>
<path d="M72.37 139.99L74.44 142.05L72.37 144.11L70.31 142.05Z" fill="#a868ec"/>
<path d="M86.10 141.31L88.16 143.38L86.10 145.44L84.04 143.38Z" fill="#a868ec"/>
<path d="M79.07 144.65L81.13 146.72L79.07 148.78L77.01 146.72Z" fill="#a868ec"/>
<path d="M82.80 146.02L84.86 148.08L82.80 150.14L80.74 148.08Z" fill="#a868ec"/>
<path d="M84.71 133.93L86.77 135.99L84.71 138.05L82.65 135.99Z" fill="#a868ec"/>
<path d="M66.82 137.88L68.88 139.95L66.82 142.01L64.75 139.95Z" fill="#a868ec"/>
<path d="M64.18 150.62L66.24 152.68L64.18 154.75L62.11 152.68Z" fill="#a868ec"/>
<path d="M70.25 144.58L72.31 146.65L70.25 148.71L68.19 146.65Z" fill="#a868ec"/>
<path d="M97.48 149.89L99.54 151.95L97.48 154.01L95.42 151.95Z" fill="#a868ec"/>
<path d="M79.30 142.45L81.36 144.51L79.30 146.57L77.23 144.51Z" fill="#a868ec"/>
<path d="M69.06 145.53L71.12 147.59L69.06 149.65L66.99 147.59Z" fill="#a868ec"/>
<path d="M91.54 142.46L93.61 144.52L91.54 146.59L89.48 144.52Z" fill="#a868ec"/>
<path d="M62.06 144.12L64.12 146.18L62.06 148.24L60.00 146.18Z" fill="#a868ec"/>
<path d="M101.47 155.16L103.54 157.23L101.47 159.29L99.41 157.23Z" fill="#a868ec"/>
<path d="M90.02 144.78L92.09 146.84L90.02 148.90L87.96 146.84Z" fill="#a868ec"/>
<path d="M69.14 134.36L71.21 136.42L69.14 138.48L67.08 136.42Z" fill="#a868ec"/>
<path d="M70.25 144.07L72.31 146.13L70.25 148.19L68.19 146.13Z" fill="#a868ec"/>
<path d="M83.75 145.14L85.81 147.20L83.75 149.26L81.69 147.20Z" fill="#a868ec"/>
<path d="M83.57 141.53L85.64 143.60L83.57 145.66L81.51 143.60Z" fill="#a868ec"/>
<path d="M76.89 133.58L78.95 135.64L76.89 137.71L74.83 135.64Z" fill="#a868ec"/>
<path d="M79.44 137.54L81.51 139.60L79.44 141.66L77.38 139.60Z" fill="#a868ec"/>
<path d="M93.86 155.09L95.93 157.15L93.86 159.22L91.80 157.15Z" fill="#a868ec"/>
<path d="M85.15 148.24L87.21 150.30L85.15 152.36L83.09 150.30Z" fill="#a868ec"/>
<path d="M92.78 139.90L94.84 141.96L92.78 144.02L90.72 141.96Z" fill="#a868ec"/>
<path d="M80.84 135.88L82.90 137.94L80.84 140.00L78.77 137.94Z" fill="#a868ec"/>
<path d="M79.25 148.83L81.31 150.89L79.25 152.95L77.19 150.89Z" fill="#a868ec"/>
<path d="M97.87 134.77L99.93 136.83L97.87 138.89L95.81 136.83Z" fill="#a868ec"/>
<path d="M82.29 144.68L84.35 146.74L82.29 148.80L80.22 146.74Z" fill="#a868ec"/>
<path d="M62.89 140.93L64.95 143.00L62.89 145.06L60.83 143.00Z" fill="#a868ec"/>
<path d="M93.45 147.67L95.51 149.73L93.45 151.79L91.39 149.73Z" fill="#a868ec"/>
<path d="M108.86 136.31L110.92 138.38L108.86 140.44L106.79 138.38Z" fill="#a868ec"/>
<path d="M88.83 143.01L90.89 145.08L88.83 147.14L86.77 145.08Z" fill="#a868ec"/>
<path d="M99.81 135.47L101.87 137.53L99.81 139.59L97.74 137.53Z" fill="#a868ec"/>
<path d="M58.70 155.69L60.76 157.76L58.70 159.82L56.64 157.76Z" fill="#a868ec"/>
<path d="M62.40 134.69L64.47 136.75L62.40 138.82L60.34 136.75Z" fill="#a868ec"/>
<path d="M102.78 135.85L104.84 137.91L102.78 139.97L100.72 137.91Z" fill="#a868ec"/>
<path d="M81.88 137.00L83.94 139.06L81.88 141.12L79.81 139.06Z" fill="#a868ec"/>
<path d="M88.79 136.59L90.85 138.65L88.79 140.71L86.73 138.65Z" fill="#a868ec"/>
<path d="M73.63 133.76L75.69 135.83L73.63 137.89L71.57 135.83Z" fill="#a868ec"/>
<path d="M76.93 143.21L78.99 145.28L76.93 147.34L74.87 145.28Z" fill="#a868ec"/>
<path d="M85.09 157.74L87.15 159.80L85.09 161.86L83.02 159.80Z" fill="#a868ec"/>
<path d="M89.63 138.00L91.69 140.06L89.63 142.12L87.57 140.06Z" fill="#a868ec"/>
<path d="M89.44 148.84L91.50 150.90L89.44 152.96L87.38 150.90Z" fill="#a868ec"/>
<path d="M104.06 149.85L106.12 151.91L104.06 153.97L102.00 151.91Z" fill="#a868ec"/>
<path d="M82.33 134.61L84.39 136.67L82.33 138.73L80.26 136.67Z" fill="#a868ec"/>
<path d="M83.01 157.38L85.07 159.44L83.01 161.50L80.95 159.44Z" fill="#a868ec"/>
<path d="M106.44 143.00L108.50 145.06L106.44 147.13L104.38 145.06Z" fill="#a868ec"/>
<path d="M80.46 155.35L82.52 157.42L80.46 159.48L78.40 157.42Z" fill="#a868ec"/>
<path d="M78.93 148.53L80.99 150.59L78.93 152.66L76.86 150.59Z" fill="#a868ec"/>
<path d="M93.25 156.94L95.31 159.00L93.25 161.06L91.18 159.00Z" fill="#a868ec"/>
<path d="M71.92 140.12L73.98 142.18L71.92 144.25L69.86 142.18Z" fill="#a868ec"/>
<path d="M87.97 157.46L90.03 159.52L87.97 161.58L85.91 159.52Z" fill="#a868ec"/>
<path d="M78.48 137.39L80.55 139.45L78.48 141.51L76.42 139.45Z" fill="#a868ec"/>
<path d="M78.52 133.67L80.58 135.73L78.52 137.79L76.46 135.73Z" fill="#a868ec"/>
<path d="M73.01 133.32L75.08 135.38L73.01 137.44L70.95 135.38Z" fill="#a868ec"/>
<path d="M98.50 153.05L100.56 155.11L98.50 157.17L96.44 155.11Z" fill="#a868ec"/>
<path d="M87.42 151.22L89.48 153.28L87.42 155.34L85.35 153.28Z" fill="#a868ec"/>
<path d="M80.52 150.94L82.58 153.00L80.52 155.06L78.46 153.00Z" fill="#a868ec"/>
<path d="M82.31 144.65L84.37 146.72L82.31 148.78L80.25 146.72Z" fill="#a868ec"/>
<path d="M90.73 133.69L92.79 135.75L90.73 137.81L88.67 135.75Z" fill="#a868ec"/>
<path d="M90.56 141.16L92.62 143.22L90.56 145.28L88.50 143.22Z" fill="#a868ec"/>
<path d="M83.99 135.01L86.05 137.07L83.99 139.13L81.92 137.07Z" fill="#a868ec"/>
<path d="M89.72 134.41L91.78 136.48L89.72 138.54L87.66 136.48Z" fill="#a868ec"/>
<path d="M103.44 144.43L105.50 146.49L103.44 148.56L101.38 146.49Z" fill="#a868ec"/>
<path d="M61.58 185.49L63.64 187.55L61.58 189.61L59.52 187.55Z" fill="#a868ec"/>
<path d="M90.73 179.27L92.79 181.33L90.73 183.39L88.67 181.33Z" fill="#a868ec"/>
<path d="M69.03 188.63L71.10 190.69L69.03 192.76L66.97 190.69Z" fill="#a868ec"/>
<path d="M82.69 163.57L84.75 165.64L82.69 167.70L80.62 165.64Z" fill="#a868ec"/>
<path d="M69.29 160.91L71.35 162.97L69.29 165.03L67.22 162.97Z" fill="#a868ec"/>
<path d="M72.61 189.21L74.67 191.28L72.61 193.34L70.55 191.28Z" fill="#a868ec"/>
<path d="M75.93 184.67L77.99 186.73L75.93 188.79L73.87 186.73Z" fill="#a868ec"/>
<path d="M76.73 164.44L78.80 166.50L76.73 168.57L74.67 166.50Z" fill="#a868ec"/>
<path d="M75.96 178.87L78.02 180.93L75.96 183.00L73.89 180.93Z" fill="#a868ec"/>
<path d="M82.23 159.43L84.29 161.49L82.23 163.56L80.17 161.49Z" fill="#a868ec"/>
<path d="M76.58 180.95L78.64 183.01L76.58 185.07L74.52 183.01Z" fill="#a868ec"/>
<path d="M93.38 163.94L95.45 166.00L93.38 168.07L91.32 166.00Z" fill="#a868ec"/>
<path d="M92.37 170.10L94.43 172.16L92.37 174.22L90.31 172.16Z" fill="#a868ec"/>
<path d="M75.30 164.10L77.36 166.16L75.30 168.23L73.23 166.16Z" fill="#a868ec"/>
<path d="M62.25 169.97L64.31 172.04L62.25 174.10L60.18 172.04Z" fill="#a868ec"/>
<path d="M60.97 170.51L63.03 172.57L60.97 174.63L58.91 172.57Z" fill="#a868ec"/>
<path d="M68.76 180.17L70.82 182.23L68.76 184.29L66.70 182.23Z" fill="#a868ec"/>
<path d="M57.69 174.18L59.75 176.24L57.69 178.31L55.63 176.24Z" fill="#a868ec"/>
<path d="M64.19 170.64L66.26 172.70L64.19 174.76L62.13 172.70Z" fill="#a868ec"/>
<path d="M60.00 179.34L62.06 181.40L60.00 183.47L57.94 181.40Z" fill="#a868ec"/>
<path d="M59.48 180.50L61.55 182.57L59.48 184.63L57.42 182.57Z" fill="#a868ec"/>
<path d="M83.95 164.56L86.01 166.62L83.95 168.68L81.89 166.62Z" fill="#a868ec"/>
<path d="M72.94 191.02L75.01 193.08L72.94 195.15L70.88 193.08Z" fill="#a868ec"/>
<path d="M74.69 160.94L76.76 163.01L74.69 165.07L72.63 163.01Z" fill="#a868ec"/>
<path d="M78.20 175.75L80.26 177.81L78.20 179.88L76.13 177.81Z" fill="#a868ec"/>
<path d="M72.62 169.67L74.68 171.73L72.62 173.79L70.56 171.73Z" fill="#a868ec"/>
<path d="M73.37 162.79L75.44 164.85L73.37 166.91L71.31 164.85Z" fill="#a868ec"/>
<path d="M98.22 180.58L100.29 182.65L98.22 184.71L96.16 182.65Z" fill="#a868ec"/>
<path d="M86.70 185.86L88.77 187.93L86.70 189.99L84.64 187.93Z" fill="#a868ec"/>
<path d="M111.46 187.79L113.52 189.85L111.46 191.92L109.40 189.85Z" fill="#a868ec"/>
<path d="M83.90 192.70L85.96 194.77L83.90 196.83L81.84 194.77Z" fill="#a868ec"/>
<path d="M86.80 178.76L88.86 180.82L86.80 182.88L84.73 180.82Z" fill="#a868ec"/>
<path d="M83.59 174.27L85.65 176.33L83.59 178.39L81.53 176.33Z" fill="#a868ec"/>
<path d="M93.64 158.69L95.70 160.75L93.64 162.81L91.57 160.75Z" fill="#a868ec"/>
<path d="M65.46 176.63L67.52 178.69L65.46 180.75L63.39 178.69Z" fill="#a868ec"/>
<path d="M58.14 186.78L60.20 188.84L58.14 190.90L56.08 188.84Z" fill="#a868ec"/>
<path d="M86.87 175.06L88.93 177.12L86.87 179.18L84.81 177.12Z" fill="#a868ec"/>
<path d="M64.89 183.48L66.95 185.54L64.89 187.60L62.82 185.54Z" fill="#a868ec"/>
<path d="M76.92 167.60L78.98 169.66L76.92 171.73L74.86 169.66Z" fill="#a868ec"/>
<path d="M81.32 179.95L83.39 182.02L81.32 184.08L79.26 182.02Z" fill="#a868ec"/>
<path d="M87.68 175.90L89.74 177.96L87.68 180.02L85.62 177.96Z" fill="#a868ec"/>
<path d="M105.44 181.35L107.51 183.42L105.44 185.48L103.38 183.42Z" fill="#a868ec"/>
<path d="M65.93 160.33L68.00 162.40L65.93 164.46L63.87 162.40Z" fill="#a868ec"/>
<path d="M69.68 181.57L71.74 183.63L69.68 185.70L67.62 183.63Z" fill="#a868ec"/>
<path d="M73.84 165.90L75.90 167.96L73.84 170.03L71.78 167.96Z" fill="#a868ec"/>
<path d="M74.03 164.81L76.10 166.88L74.03 168.94L71.97 166.88Z" fill="#a868ec"/>
<path d="M72.10 187.29L74.17 189.35L72.10 191.42L70.04 189.35Z" fill="#a868ec"/>
<path d="M84.34 172.99L86.40 175.05L84.34 177.11L82.27 175.05Z" fill="#a868ec"/>
<path d="M93.19 161.54L95.25 163.61L93.19 165.67L91.12 163.61Z" fill="#a868ec"/>
<path d="M79.14 191.01L81.20 193.07L79.14 195.14L77.08 193.07Z" fill="#a868ec"/>
<path d="M73.25 166.10L75.31 168.17L73.25 170.23L71.18 168.17Z" fill="#a868ec"/>
<path d="M86.00 169.36L88.06 171.43L86.00 173.49L83.94 171.43Z" fill="#a868ec"/>
<path d="M64.97 179.63L67.03 181.70L64.97 183.76L62.90 181.70Z" fill="#a868ec"/>
<path d="M66.21 190.94L68.27 193.00L66.21 195.06L64.15 193.00Z" fill="#a868ec"/>
<path d="M91.41 169.91L93.47 171.97L91.41 174.04L89.35 171.97Z" fill="#a868ec"/>
<path d="M67.18 189.00L69.24 191.06L67.18 193.12L65.11 191.06Z" fill="#a868ec"/>
<path d="M89.09 161.93L91.15 163.99L89.09 166.06L87.03 163.99Z" fill="#a868ec"/>
<path d="M90.33 187.25L92.39 189.31L90.33 191.37L88.27 189.31Z" fill="#a868ec"/>
<path d="M79.60 169.59L81.66 171.65L79.60 173.71L77.54 171.65Z" fill="#a868ec"/>
<path d="M90.11 170.44L92.17 172.51L90.11 174.57L88.04 172.51Z" fill="#a868ec"/>
<path d="M67.08 174.34L69.14 176.40L67.08 178.47L65.02 176.40Z" fill="#a868ec"/>
<path d="M91.67 159.25L93.73 161.31L91.67 163.37L89.61 161.31Z" fill="#a868ec"/>
<path d="M74.66 188.50L76.72 190.56L74.66 192.62L72.60 190.56Z" fill="#a868ec"/>
<path d="M97.29 172.88L99.35 174.94L97.29 177.01L95.22 174.94Z" fill="#a868ec"/>
<path d="M70.34 175.39L72.41 177.46L70.34 179.52L68.28 177.46Z" fill="#a868ec"/>
<path d="M56.67 186.48L58.73 188.55L56.67 190.61L54.61 188.55Z" fill="#a868ec"/>
<path d="M75.83 161.05L77.89 163.11L75.83 165.17L73.76 163.11Z" fill="#a868ec"/>
<path d="M72.98 190.03L75.04 192.09L72.98 194.15L70.92 192.09Z" fill="#a868ec"/>
<path d="M85.73 190.27L87.79 192.33L85.73 194.39L83.67 192.33Z" fill="#a868ec"/>
<path d="M84.85 174.16L86.91 176.23L84.85 178.29L82.78 176.23Z" fill="#a868ec"/>
<path d="M59.60 167.39L61.66 169.45L59.60 171.51L57.54 169.45Z" fill="#a868ec"/>
<path d="M103.60 126.47L105.66 128.54L103.60 130.60L101.54 128.54Z" fill="#a868ec"/>
<path d="M102.45 120.48L104.51 122.55L102.45 124.61L100.39 122.55Z" fill="#a868ec"/>
<path d="M94.52 115.05L96.59 117.11L94.52 119.17L92.46 117.11Z" fill="#a868ec"/>
<path d="M104.23 122.91L106.29 124.97L104.23 127.03L102.17 124.97Z" fill="#a868ec"/>
<path d="M112.80 56.54L114.86 58.60L112.80 60.66L110.74 58.60Z" fill="#a868ec"/>
<path d="M82.60 89.64L84.66 91.70L82.60 93.76L80.54 91.70Z" fill="#a868ec"/>
<path d="M73.00 93.54L75.06 95.60L73.00 97.66L70.94 95.60Z" fill="#a868ec"/>
<path d="M83.70 93.54L85.76 95.60L83.70 97.66L81.64 95.60Z" fill="#a868ec"/>
<path d="M64.20 97.14L66.26 99.20L64.20 101.26L62.14 99.20Z" fill="#a868ec"/>
<path d="M84.00 103.24L86.06 105.30L84.00 107.36L81.94 105.30Z" fill="#a868ec"/>
<path d="M95.00 103.24L97.06 105.30L95.00 107.36L92.94 105.30Z" fill="#a868ec"/>
<path d="M72.70 107.74L74.76 109.80L72.70 111.86L70.64 109.80Z" fill="#a868ec"/>
<path d="M82.90 107.74L84.96 109.80L82.90 111.86L80.84 109.80Z" fill="#a868ec"/>
<path d="M92.90 109.54L94.96 111.60L92.90 113.66L90.84 111.60Z" fill="#a868ec"/>
<path d="M72.40 113.44L74.46 115.50L72.40 117.56L70.34 115.50Z" fill="#a868ec"/>
<path d="M65.30 118.04L67.36 120.10L65.30 122.16L63.24 120.10Z" fill="#a868ec"/>
<path d="M96.50 118.04L98.56 120.10L96.50 122.16L94.44 120.10Z" fill="#a868ec"/>
<path d="M74.10 120.94L76.16 123.00L74.10 125.06L72.04 123.00Z" fill="#a868ec"/>
<path d="M79.50 120.94L81.56 123.00L79.50 125.06L77.44 123.00Z" fill="#a868ec"/>
<path d="M69.90 124.04L71.96 126.10L69.90 128.16L67.84 126.10Z" fill="#a868ec"/>
<path d="M69.10 127.94L71.16 130.00L69.10 132.06L67.04 130.00Z" fill="#a868ec"/>
<path d="M65.00 199.94L67.06 202.00L65.00 204.06L62.94 202.00Z" fill="#a868ec"/>
<path d="M81.70 211.94L83.76 214.00L81.70 216.06L79.64 214.00Z" fill="#a868ec"/>
<line x1="56.58" y1="159.89" x2="189.41" y2="150.33" stroke="#242424" stroke-width="1.0"/>
<line x1="56.58" y1="170.91" x2="117.93" y2="144.39" stroke="#ec2a2c" stroke-width="1.0"/>
<line x1="56.58" y1="166.76" x2="138.78" y2="141.10" stroke="#2356cc" stroke-width="1.0"/>
<line x1="56.58" y1="169.42" x2="111.98" y2="142.82" stroke="#22955c" stroke-width="1.0"/>
<line x1="56.58" y1="169.39" x2="111.98" y2="141.46" stroke="#a868ec" stroke-width="1.0"/>
<path d="M298.40 37.00V237.00H461.30" fill="none" stroke="#a6a6a6" stroke-width="1.3"/>
<line x1="298.40" y1="237.00" x2="298.40" y2="238.40" stroke="#444" stroke-width="0.8"/>
<line x1="313.21" y1="237.00" x2="313.21" y2="239.20" stroke="#444" stroke-width="0.8"/>
<text transform="translate(313.21 246.80) scale(1 1.2)" class="tl" text-anchor="middle">0.0</text>
<line x1="328.02" y1="237.00" x2="328.02" y2="238.40" stroke="#444" stroke-width="0.8"/>
<line x1="342.83" y1="237.00" x2="342.83" y2="239.20" stroke="#444" stroke-width="0.8"/>
<text transform="translate(342.83 246.80) scale(1 1.2)" class="tl" text-anchor="middle">0.5</text>
<line x1="357.64" y1="237.00" x2="357.64" y2="238.40" stroke="#444" stroke-width="0.8"/>
<line x1="372.45" y1="237.00" x2="372.45" y2="239.20" stroke="#444" stroke-width="0.8"/>
<text transform="translate(372.45 246.80) scale(1 1.2)" class="tl" text-anchor="middle">1.0</text>
<line x1="387.25" y1="237.00" x2="387.25" y2="238.40" stroke="#444" stroke-width="0.8"/>
<line x1="402.06" y1="237.00" x2="402.06" y2="239.20" stroke="#444" stroke-width="0.8"/>
<text transform="translate(402.06 246.80) scale(1 1.2)" class="tl" text-anchor="middle">1.5</text>
<line x1="416.87" y1="237.00" x2="416.87" y2="238.40" stroke="#444" stroke-width="0.8"/>
<line x1="431.68" y1="237.00" x2="431.68" y2="239.20" stroke="#444" stroke-width="0.8"/>
<text transform="translate(431.68 246.80) scale(1 1.2)" class="tl" text-anchor="middle">2.0</text>
<line x1="446.49" y1="237.00" x2="446.49" y2="238.40" stroke="#444" stroke-width="0.8"/>
<line x1="461.30" y1="237.00" x2="461.30" y2="239.20" stroke="#444" stroke-width="0.8"/>
<text transform="translate(461.30 246.80) scale(1 1.2)" class="tl" text-anchor="middle">2.5</text>
<line x1="296.20" y1="237.00" x2="298.40" y2="237.00" stroke="#444" stroke-width="0.8"/>
<text transform="translate(294.80 239.55) scale(1 1.2)" class="tl" text-anchor="end">0.0</text>
<line x1="296.20" y1="200.64" x2="298.40" y2="200.64" stroke="#444" stroke-width="0.8"/>
<text transform="translate(294.80 203.19) scale(1 1.2)" class="tl" text-anchor="end">0.2</text>
<line x1="296.20" y1="164.27" x2="298.40" y2="164.27" stroke="#444" stroke-width="0.8"/>
<text transform="translate(294.80 166.82) scale(1 1.2)" class="tl" text-anchor="end">0.4</text>
<line x1="296.20" y1="127.91" x2="298.40" y2="127.91" stroke="#444" stroke-width="0.8"/>
<text transform="translate(294.80 130.46) scale(1 1.2)" class="tl" text-anchor="end">0.6</text>
<line x1="296.20" y1="91.55" x2="298.40" y2="91.55" stroke="#444" stroke-width="0.8"/>
<text transform="translate(294.80 94.10) scale(1 1.2)" class="tl" text-anchor="end">0.8</text>
<line x1="296.20" y1="55.18" x2="298.40" y2="55.18" stroke="#444" stroke-width="0.8"/>
<text transform="translate(294.80 57.73) scale(1 1.2)" class="tl" text-anchor="end">1.0</text>
<line x1="297.00" y1="218.82" x2="298.40" y2="218.82" stroke="#444" stroke-width="0.8"/>
<line x1="297.00" y1="182.45" x2="298.40" y2="182.45" stroke="#444" stroke-width="0.8"/>
<line x1="297.00" y1="146.09" x2="298.40" y2="146.09" stroke="#444" stroke-width="0.8"/>
<line x1="297.00" y1="109.73" x2="298.40" y2="109.73" stroke="#444" stroke-width="0.8"/>
<line x1="297.00" y1="73.36" x2="298.40" y2="73.36" stroke="#444" stroke-width="0.8"/>
<line x1="297.00" y1="37.00" x2="298.40" y2="37.00" stroke="#444" stroke-width="0.8"/>
<rect x="326.06" y="125.82" width="3.13" height="3.13" fill="#242424"/>
<rect x="321.79" y="125.44" width="3.13" height="3.13" fill="#242424"/>
<rect x="349.20" y="153.16" width="3.13" height="3.13" fill="#242424"/>
<rect x="339.24" y="148.35" width="3.13" height="3.13" fill="#242424"/>
<rect x="349.95" y="137.00" width="3.13" height="3.13" fill="#242424"/>
<rect x="364.32" y="152.69" width="3.13" height="3.13" fill="#242424"/>
<rect x="357.36" y="143.85" width="3.13" height="3.13" fill="#242424"/>
<rect x="336.82" y="148.43" width="3.13" height="3.13" fill="#242424"/>
<rect x="320.75" y="142.96" width="3.13" height="3.13" fill="#242424"/>
<rect x="346.69" y="141.83" width="3.13" height="3.13" fill="#242424"/>
<rect x="333.21" y="155.53" width="3.13" height="3.13" fill="#242424"/>
<rect x="337.85" y="149.90" width="3.13" height="3.13" fill="#242424"/>
<rect x="328.93" y="148.76" width="3.13" height="3.13" fill="#242424"/>
<rect x="329.56" y="155.88" width="3.13" height="3.13" fill="#242424"/>
<rect x="340.40" y="147.98" width="3.13" height="3.13" fill="#242424"/>
<rect x="343.30" y="161.10" width="3.13" height="3.13" fill="#242424"/>
<rect x="347.26" y="155.18" width="3.13" height="3.13" fill="#242424"/>
<rect x="335.51" y="158.60" width="3.13" height="3.13" fill="#242424"/>
<rect x="336.41" y="157.11" width="3.13" height="3.13" fill="#242424"/>
<rect x="341.10" y="159.95" width="3.13" height="3.13" fill="#242424"/>
<rect x="338.72" y="137.70" width="3.13" height="3.13" fill="#242424"/>
<rect x="333.57" y="160.29" width="3.13" height="3.13" fill="#242424"/>
<rect x="348.89" y="141.58" width="3.13" height="3.13" fill="#242424"/>
<rect x="345.45" y="153.94" width="3.13" height="3.13" fill="#242424"/>
<rect x="331.76" y="145.57" width="3.13" height="3.13" fill="#242424"/>
<rect x="333.50" y="160.40" width="3.13" height="3.13" fill="#242424"/>
<rect x="335.31" y="141.57" width="3.13" height="3.13" fill="#242424"/>
<rect x="327.18" y="160.00" width="3.13" height="3.13" fill="#242424"/>
<rect x="347.43" y="151.73" width="3.13" height="3.13" fill="#242424"/>
<rect x="360.63" y="143.17" width="3.13" height="3.13" fill="#242424"/>
<rect x="343.97" y="161.46" width="3.13" height="3.13" fill="#242424"/>
<rect x="325.82" y="135.08" width="3.13" height="3.13" fill="#242424"/>
<rect x="344.05" y="138.80" width="3.13" height="3.13" fill="#242424"/>
<rect x="335.92" y="179.39" width="3.13" height="3.13" fill="#242424"/>
<rect x="316.36" y="169.54" width="3.13" height="3.13" fill="#242424"/>
<rect x="329.80" y="176.16" width="3.13" height="3.13" fill="#242424"/>
<rect x="333.67" y="171.65" width="3.13" height="3.13" fill="#242424"/>
<rect x="323.47" y="189.33" width="3.13" height="3.13" fill="#242424"/>
<rect x="337.91" y="187.94" width="3.13" height="3.13" fill="#242424"/>
<rect x="342.11" y="176.60" width="3.13" height="3.13" fill="#242424"/>
<rect x="334.28" y="179.04" width="3.13" height="3.13" fill="#242424"/>
<rect x="339.52" y="190.04" width="3.13" height="3.13" fill="#242424"/>
<rect x="320.92" y="181.33" width="3.13" height="3.13" fill="#242424"/>
<rect x="338.46" y="175.34" width="3.13" height="3.13" fill="#242424"/>
<rect x="316.20" y="174.99" width="3.13" height="3.13" fill="#242424"/>
<rect x="328.87" y="171.61" width="3.13" height="3.13" fill="#242424"/>
<rect x="342.15" y="168.98" width="3.13" height="3.13" fill="#242424"/>
<rect x="330.37" y="165.05" width="3.13" height="3.13" fill="#242424"/>
<rect x="341.53" y="181.23" width="3.13" height="3.13" fill="#242424"/>
<rect x="359.83" y="182.34" width="3.13" height="3.13" fill="#242424"/>
<rect x="340.65" y="173.90" width="3.13" height="3.13" fill="#242424"/>
<rect x="335.73" y="169.20" width="3.13" height="3.13" fill="#242424"/>
<rect x="332.40" y="192.41" width="3.13" height="3.13" fill="#242424"/>
<rect x="318.49" y="180.42" width="3.13" height="3.13" fill="#242424"/>
<rect x="328.13" y="167.39" width="3.13" height="3.13" fill="#242424"/>
<rect x="340.45" y="189.53" width="3.13" height="3.13" fill="#242424"/>
<rect x="344.26" y="163.80" width="3.13" height="3.13" fill="#242424"/>
<rect x="340.23" y="163.60" width="3.13" height="3.13" fill="#242424"/>
<rect x="322.87" y="186.59" width="3.13" height="3.13" fill="#242424"/>
<rect x="327.80" y="177.99" width="3.13" height="3.13" fill="#242424"/>
<rect x="347.80" y="180.68" width="3.13" height="3.13" fill="#242424"/>
<rect x="334.43" y="164.59" width="3.13" height="3.13" fill="#242424"/>
<rect x="347.42" y="179.14" width="3.13" height="3.13" fill="#242424"/>
<rect x="328.19" y="187.72" width="3.13" height="3.13" fill="#242424"/>
<rect x="334.26" y="166.19" width="3.13" height="3.13" fill="#242424"/>
<rect x="324.72" y="191.42" width="3.13" height="3.13" fill="#242424"/>
<rect x="336.36" y="175.24" width="3.13" height="3.13" fill="#242424"/>
<rect x="336.29" y="193.25" width="3.13" height="3.13" fill="#242424"/>
<rect x="331.09" y="179.49" width="3.13" height="3.13" fill="#242424"/>
<rect x="339.56" y="179.34" width="3.13" height="3.13" fill="#242424"/>
<rect x="334.26" y="189.42" width="3.13" height="3.13" fill="#242424"/>
<rect x="331.96" y="191.60" width="3.13" height="3.13" fill="#242424"/>
<rect x="336.10" y="191.41" width="3.13" height="3.13" fill="#242424"/>
<rect x="331.48" y="182.52" width="3.13" height="3.13" fill="#242424"/>
<rect x="352.95" y="181.85" width="3.13" height="3.13" fill="#242424"/>
<rect x="326.19" y="192.23" width="3.13" height="3.13" fill="#242424"/>
<rect x="334.99" y="178.53" width="3.13" height="3.13" fill="#242424"/>
<rect x="336.92" y="179.71" width="3.13" height="3.13" fill="#242424"/>
<rect x="325.30" y="165.38" width="3.13" height="3.13" fill="#242424"/>
<rect x="339.44" y="176.68" width="3.13" height="3.13" fill="#242424"/>
<rect x="332.14" y="165.16" width="3.13" height="3.13" fill="#242424"/>
<rect x="336.04" y="191.22" width="3.13" height="3.13" fill="#242424"/>
<rect x="325.46" y="181.85" width="3.13" height="3.13" fill="#242424"/>
<rect x="356.37" y="164.56" width="3.13" height="3.13" fill="#242424"/>
<rect x="341.55" y="202.99" width="3.13" height="3.13" fill="#242424"/>
<rect x="326.82" y="197.04" width="3.13" height="3.13" fill="#242424"/>
<rect x="326.54" y="199.36" width="3.13" height="3.13" fill="#242424"/>
<rect x="317.94" y="200.50" width="3.13" height="3.13" fill="#242424"/>
<rect x="330.75" y="195.43" width="3.13" height="3.13" fill="#242424"/>
<rect x="338.90" y="198.48" width="3.13" height="3.13" fill="#242424"/>
<rect x="339.17" y="195.60" width="3.13" height="3.13" fill="#242424"/>
<rect x="334.02" y="194.13" width="3.13" height="3.13" fill="#242424"/>
<rect x="325.30" y="199.78" width="3.13" height="3.13" fill="#242424"/>
<rect x="339.67" y="198.15" width="3.13" height="3.13" fill="#242424"/>
<rect x="345.02" y="203.16" width="3.13" height="3.13" fill="#242424"/>
<rect x="345.33" y="200.64" width="3.13" height="3.13" fill="#242424"/>
<rect x="353.47" y="197.53" width="3.13" height="3.13" fill="#242424"/>
<rect x="376.73" y="58.03" width="3.13" height="3.13" fill="#242424"/>
<rect x="333.23" y="93.53" width="3.13" height="3.13" fill="#242424"/>
<rect x="331.83" y="109.73" width="3.13" height="3.13" fill="#242424"/>
<rect x="333.23" y="126.13" width="3.13" height="3.13" fill="#242424"/>
<rect x="337.53" y="128.93" width="3.13" height="3.13" fill="#242424"/>
<rect x="317.33" y="206.03" width="3.13" height="3.13" fill="#242424"/>
<rect x="367.13" y="210.03" width="3.13" height="3.13" fill="#242424"/>
<rect x="391.83" y="158.53" width="3.13" height="3.13" fill="#242424"/>
<rect x="414.73" y="166.23" width="3.13" height="3.13" fill="#242424"/>
<rect x="445.43" y="168.23" width="3.13" height="3.13" fill="#242424"/>
<rect x="401.53" y="186.93" width="3.13" height="3.13" fill="#242424"/>
<rect x="422.23" y="188.93" width="3.13" height="3.13" fill="#242424"/>
<rect x="389.83" y="190.33" width="3.13" height="3.13" fill="#242424"/>
<rect x="377.03" y="190.33" width="3.13" height="3.13" fill="#242424"/>
<rect x="369.93" y="193.33" width="3.13" height="3.13" fill="#242424"/>
<rect x="369.53" y="173.33" width="3.13" height="3.13" fill="#242424"/>
<rect x="364.43" y="161.03" width="3.13" height="3.13" fill="#242424"/>
<circle cx="349.06" cy="134.46" r="1.65" fill="#ec2a2c"/>
<circle cx="344.81" cy="130.74" r="1.65" fill="#ec2a2c"/>
<circle cx="329.85" cy="129.93" r="1.65" fill="#ec2a2c"/>
<circle cx="335.61" cy="149.91" r="1.65" fill="#ec2a2c"/>
<circle cx="342.12" cy="142.06" r="1.65" fill="#ec2a2c"/>
<circle cx="336.01" cy="141.31" r="1.65" fill="#ec2a2c"/>
<circle cx="353.47" cy="158.22" r="1.65" fill="#ec2a2c"/>
<circle cx="350.41" cy="156.26" r="1.65" fill="#ec2a2c"/>
<circle cx="327.45" cy="149.00" r="1.65" fill="#ec2a2c"/>
<circle cx="346.29" cy="154.06" r="1.65" fill="#ec2a2c"/>
<circle cx="356.86" cy="156.18" r="1.65" fill="#ec2a2c"/>
<circle cx="335.43" cy="143.04" r="1.65" fill="#ec2a2c"/>
<circle cx="353.87" cy="163.26" r="1.65" fill="#ec2a2c"/>
<circle cx="331.68" cy="160.96" r="1.65" fill="#ec2a2c"/>
<circle cx="346.58" cy="141.33" r="1.65" fill="#ec2a2c"/>
<circle cx="338.67" cy="164.49" r="1.65" fill="#ec2a2c"/>
<circle cx="342.53" cy="160.66" r="1.65" fill="#ec2a2c"/>
<circle cx="347.46" cy="164.55" r="1.65" fill="#ec2a2c"/>
<circle cx="342.72" cy="153.89" r="1.65" fill="#ec2a2c"/>
<circle cx="333.34" cy="147.28" r="1.65" fill="#ec2a2c"/>
<circle cx="341.36" cy="161.33" r="1.65" fill="#ec2a2c"/>
<circle cx="336.15" cy="158.05" r="1.65" fill="#ec2a2c"/>
<circle cx="322.04" cy="164.06" r="1.65" fill="#ec2a2c"/>
<circle cx="350.56" cy="139.77" r="1.65" fill="#ec2a2c"/>
<circle cx="339.30" cy="160.95" r="1.65" fill="#ec2a2c"/>
<circle cx="327.65" cy="136.55" r="1.65" fill="#ec2a2c"/>
<circle cx="337.72" cy="153.29" r="1.65" fill="#ec2a2c"/>
<circle cx="343.14" cy="142.97" r="1.65" fill="#ec2a2c"/>
<circle cx="329.01" cy="143.73" r="1.65" fill="#ec2a2c"/>
<circle cx="337.05" cy="148.88" r="1.65" fill="#ec2a2c"/>
<circle cx="338.07" cy="147.87" r="1.65" fill="#ec2a2c"/>
<circle cx="332.79" cy="160.15" r="1.65" fill="#ec2a2c"/>
<circle cx="342.24" cy="153.60" r="1.65" fill="#ec2a2c"/>
<circle cx="342.79" cy="154.39" r="1.65" fill="#ec2a2c"/>
<circle cx="320.74" cy="146.91" r="1.65" fill="#ec2a2c"/>
<circle cx="345.18" cy="148.88" r="1.65" fill="#ec2a2c"/>
<circle cx="335.08" cy="156.73" r="1.65" fill="#ec2a2c"/>
<circle cx="336.28" cy="155.36" r="1.65" fill="#ec2a2c"/>
<circle cx="341.42" cy="160.18" r="1.65" fill="#ec2a2c"/>
<circle cx="329.29" cy="163.72" r="1.65" fill="#ec2a2c"/>
<circle cx="325.31" cy="148.20" r="1.65" fill="#ec2a2c"/>
<circle cx="364.49" cy="150.88" r="1.65" fill="#ec2a2c"/>
<circle cx="356.30" cy="151.04" r="1.65" fill="#ec2a2c"/>
<circle cx="349.84" cy="153.56" r="1.65" fill="#ec2a2c"/>
<circle cx="350.78" cy="136.07" r="1.65" fill="#ec2a2c"/>
<circle cx="344.61" cy="163.90" r="1.65" fill="#ec2a2c"/>
<circle cx="334.91" cy="136.48" r="1.65" fill="#ec2a2c"/>
<circle cx="341.35" cy="151.23" r="1.65" fill="#ec2a2c"/>
<circle cx="343.26" cy="148.51" r="1.65" fill="#ec2a2c"/>
<circle cx="326.59" cy="156.00" r="1.65" fill="#ec2a2c"/>
<circle cx="322.30" cy="154.99" r="1.65" fill="#ec2a2c"/>
<circle cx="330.06" cy="145.35" r="1.65" fill="#ec2a2c"/>
<circle cx="336.74" cy="153.69" r="1.65" fill="#ec2a2c"/>
<circle cx="339.68" cy="172.15" r="1.65" fill="#ec2a2c"/>
<circle cx="350.99" cy="183.69" r="1.65" fill="#ec2a2c"/>
<circle cx="328.01" cy="183.33" r="1.65" fill="#ec2a2c"/>
<circle cx="323.18" cy="183.69" r="1.65" fill="#ec2a2c"/>
<circle cx="324.85" cy="181.78" r="1.65" fill="#ec2a2c"/>
<circle cx="369.16" cy="185.85" r="1.65" fill="#ec2a2c"/>
<circle cx="328.23" cy="192.47" r="1.65" fill="#ec2a2c"/>
<circle cx="341.11" cy="177.51" r="1.65" fill="#ec2a2c"/>
<circle cx="357.59" cy="180.02" r="1.65" fill="#ec2a2c"/>
<circle cx="340.20" cy="189.43" r="1.65" fill="#ec2a2c"/>
<circle cx="328.48" cy="192.46" r="1.65" fill="#ec2a2c"/>
<circle cx="348.78" cy="174.80" r="1.65" fill="#ec2a2c"/>
<circle cx="348.33" cy="189.42" r="1.65" fill="#ec2a2c"/>
<circle cx="343.17" cy="178.04" r="1.65" fill="#ec2a2c"/>
<circle cx="329.70" cy="192.32" r="1.65" fill="#ec2a2c"/>
<circle cx="344.49" cy="179.38" r="1.65" fill="#ec2a2c"/>
<circle cx="318.11" cy="179.72" r="1.65" fill="#ec2a2c"/>
<circle cx="347.61" cy="187.72" r="1.65" fill="#ec2a2c"/>
<circle cx="339.05" cy="191.36" r="1.65" fill="#ec2a2c"/>
<circle cx="362.91" cy="194.58" r="1.65" fill="#ec2a2c"/>
<circle cx="344.62" cy="192.44" r="1.65" fill="#ec2a2c"/>
<circle cx="338.74" cy="182.10" r="1.65" fill="#ec2a2c"/>
<circle cx="338.67" cy="174.92" r="1.65" fill="#ec2a2c"/>
<circle cx="320.38" cy="172.31" r="1.65" fill="#ec2a2c"/>
<circle cx="362.97" cy="170.57" r="1.65" fill="#ec2a2c"/>
<circle cx="347.60" cy="172.25" r="1.65" fill="#ec2a2c"/>
<circle cx="337.73" cy="188.06" r="1.65" fill="#ec2a2c"/>
<circle cx="347.38" cy="181.64" r="1.65" fill="#ec2a2c"/>
<circle cx="325.17" cy="172.12" r="1.65" fill="#ec2a2c"/>
<circle cx="344.29" cy="180.29" r="1.65" fill="#ec2a2c"/>
<circle cx="328.47" cy="179.21" r="1.65" fill="#ec2a2c"/>
<circle cx="335.96" cy="177.01" r="1.65" fill="#ec2a2c"/>
<circle cx="338.35" cy="191.52" r="1.65" fill="#ec2a2c"/>
<circle cx="342.54" cy="167.77" r="1.65" fill="#ec2a2c"/>
<circle cx="355.15" cy="190.32" r="1.65" fill="#ec2a2c"/>
<circle cx="324.40" cy="181.18" r="1.65" fill="#ec2a2c"/>
<circle cx="324.26" cy="193.39" r="1.65" fill="#ec2a2c"/>
<circle cx="338.29" cy="192.37" r="1.65" fill="#ec2a2c"/>
<circle cx="362.82" cy="166.37" r="1.65" fill="#ec2a2c"/>
<circle cx="343.42" cy="185.65" r="1.65" fill="#ec2a2c"/>
<circle cx="336.80" cy="175.48" r="1.65" fill="#ec2a2c"/>
<circle cx="356.67" cy="169.12" r="1.65" fill="#ec2a2c"/>
<circle cx="344.95" cy="183.10" r="1.65" fill="#ec2a2c"/>
<circle cx="339.33" cy="194.57" r="1.65" fill="#ec2a2c"/>
<circle cx="325.95" cy="194.08" r="1.65" fill="#ec2a2c"/>
<circle cx="354.42" cy="193.26" r="1.65" fill="#ec2a2c"/>
<circle cx="354.68" cy="194.64" r="1.65" fill="#ec2a2c"/>
<circle cx="335.83" cy="177.22" r="1.65" fill="#ec2a2c"/>
<circle cx="330.41" cy="174.96" r="1.65" fill="#ec2a2c"/>
<circle cx="353.14" cy="186.80" r="1.65" fill="#ec2a2c"/>
<circle cx="341.66" cy="188.66" r="1.65" fill="#ec2a2c"/>
<circle cx="329.90" cy="167.34" r="1.65" fill="#ec2a2c"/>
<circle cx="335.45" cy="167.68" r="1.65" fill="#ec2a2c"/>
<circle cx="317.64" cy="181.78" r="1.65" fill="#ec2a2c"/>
<circle cx="337.92" cy="194.39" r="1.65" fill="#ec2a2c"/>
<circle cx="338.71" cy="169.15" r="1.65" fill="#ec2a2c"/>
<circle cx="345.46" cy="174.93" r="1.65" fill="#ec2a2c"/>
<circle cx="334.54" cy="182.36" r="1.65" fill="#ec2a2c"/>
<circle cx="326.71" cy="168.50" r="1.65" fill="#ec2a2c"/>
<circle cx="337.22" cy="170.88" r="1.65" fill="#ec2a2c"/>
<circle cx="318.07" cy="171.10" r="1.65" fill="#ec2a2c"/>
<circle cx="339.15" cy="179.84" r="1.65" fill="#ec2a2c"/>
<circle cx="322.29" cy="172.13" r="1.65" fill="#ec2a2c"/>
<circle cx="323.54" cy="185.46" r="1.65" fill="#ec2a2c"/>
<circle cx="355.41" cy="182.38" r="1.65" fill="#ec2a2c"/>
<circle cx="348.89" cy="173.76" r="1.65" fill="#ec2a2c"/>
<circle cx="333.81" cy="200.29" r="1.65" fill="#ec2a2c"/>
<circle cx="336.70" cy="202.73" r="1.65" fill="#ec2a2c"/>
<circle cx="330.00" cy="197.18" r="1.65" fill="#ec2a2c"/>
<circle cx="326.10" cy="204.41" r="1.65" fill="#ec2a2c"/>
<circle cx="334.12" cy="195.17" r="1.65" fill="#ec2a2c"/>
<circle cx="321.41" cy="196.12" r="1.65" fill="#ec2a2c"/>
<circle cx="327.10" cy="203.42" r="1.65" fill="#ec2a2c"/>
<circle cx="340.56" cy="197.73" r="1.65" fill="#ec2a2c"/>
<circle cx="374.40" cy="59.60" r="1.65" fill="#ec2a2c"/>
<circle cx="332.70" cy="95.10" r="1.65" fill="#ec2a2c"/>
<circle cx="343.70" cy="111.30" r="1.65" fill="#ec2a2c"/>
<circle cx="359.60" cy="111.30" r="1.65" fill="#ec2a2c"/>
<circle cx="351.40" cy="119.50" r="1.65" fill="#ec2a2c"/>
<circle cx="328.10" cy="127.70" r="1.65" fill="#ec2a2c"/>
<circle cx="316.20" cy="211.60" r="1.65" fill="#ec2a2c"/>
<circle cx="373.80" cy="179.00" r="1.65" fill="#ec2a2c"/>
<circle cx="363.00" cy="179.00" r="1.65" fill="#ec2a2c"/>
<circle cx="363.60" cy="190.50" r="1.65" fill="#ec2a2c"/>
<circle cx="364.50" cy="184.80" r="1.65" fill="#ec2a2c"/>
<path d="M362.13 140.12L364.22 143.44L360.05 143.44Z" fill="#2356cc"/>
<path d="M358.30 153.29L360.38 156.61L356.21 156.61Z" fill="#2356cc"/>
<path d="M361.96 159.13L364.05 162.45L359.87 162.45Z" fill="#2356cc"/>
<path d="M341.29 147.98L343.37 151.30L339.20 151.30Z" fill="#2356cc"/>
<path d="M352.62 162.96L354.70 166.28L350.53 166.28Z" fill="#2356cc"/>
<path d="M341.40 144.62L343.49 147.94L339.31 147.94Z" fill="#2356cc"/>
<path d="M333.13 160.87L335.22 164.19L331.04 164.19Z" fill="#2356cc"/>
<path d="M341.06 135.94L343.15 139.26L338.97 139.26Z" fill="#2356cc"/>
<path d="M324.75 141.29L326.84 144.61L322.66 144.61Z" fill="#2356cc"/>
<path d="M334.15 151.36L336.24 154.69L332.06 154.69Z" fill="#2356cc"/>
<path d="M327.12 162.24L329.21 165.57L325.04 165.57Z" fill="#2356cc"/>
<path d="M320.68 158.93L322.77 162.25L318.59 162.25Z" fill="#2356cc"/>
<path d="M355.52 143.63L357.61 146.95L353.44 146.95Z" fill="#2356cc"/>
<path d="M340.95 138.06L343.04 141.38L338.86 141.38Z" fill="#2356cc"/>
<path d="M343.74 138.05L345.83 141.37L341.65 141.37Z" fill="#2356cc"/>
<path d="M357.59 160.18L359.68 163.50L355.50 163.50Z" fill="#2356cc"/>
<path d="M355.65 156.61L357.74 159.93L353.56 159.93Z" fill="#2356cc"/>
<path d="M346.47 147.59L348.56 150.91L344.38 150.91Z" fill="#2356cc"/>
<path d="M352.53 139.93L354.61 143.25L350.44 143.25Z" fill="#2356cc"/>
<path d="M337.17 141.71L339.26 145.03L335.08 145.03Z" fill="#2356cc"/>
<path d="M357.19 150.53L359.27 153.85L355.10 153.85Z" fill="#2356cc"/>
<path d="M346.82 149.42L348.91 152.74L344.73 152.74Z" fill="#2356cc"/>
<path d="M352.84 140.55L354.92 143.87L350.75 143.87Z" fill="#2356cc"/>
<path d="M341.66 139.22L343.75 142.54L339.57 142.54Z" fill="#2356cc"/>
<path d="M348.10 157.81L350.19 161.13L346.01 161.13Z" fill="#2356cc"/>
<path d="M344.39 137.18L346.47 140.50L342.30 140.50Z" fill="#2356cc"/>
<path d="M352.23 139.67L354.31 142.99L350.14 142.99Z" fill="#2356cc"/>
<path d="M331.57 161.22L333.66 164.54L329.49 164.54Z" fill="#2356cc"/>
<path d="M332.88 161.59L334.96 164.91L330.79 164.91Z" fill="#2356cc"/>
<path d="M343.43 151.90L345.52 155.22L341.35 155.22Z" fill="#2356cc"/>
<path d="M351.01 161.55L353.10 164.88L348.92 164.88Z" fill="#2356cc"/>
<path d="M350.38 146.84L352.46 150.16L348.29 150.16Z" fill="#2356cc"/>
<path d="M329.89 144.84L331.98 148.16L327.80 148.16Z" fill="#2356cc"/>
<path d="M349.38 138.01L351.46 141.33L347.29 141.33Z" fill="#2356cc"/>
<path d="M343.84 151.08L345.93 154.41L341.75 154.41Z" fill="#2356cc"/>
<path d="M324.82 151.66L326.91 154.99L322.74 154.99Z" fill="#2356cc"/>
<path d="M349.10 147.71L351.18 151.03L347.01 151.03Z" fill="#2356cc"/>
<path d="M348.77 158.30L350.86 161.62L346.68 161.62Z" fill="#2356cc"/>
<path d="M334.57 142.14L336.66 145.46L332.48 145.46Z" fill="#2356cc"/>
<path d="M330.08 138.79L332.17 142.11L328.00 142.11Z" fill="#2356cc"/>
<path d="M341.75 143.79L343.84 147.11L339.67 147.11Z" fill="#2356cc"/>
<path d="M327.59 158.55L329.68 161.87L325.50 161.87Z" fill="#2356cc"/>
<path d="M323.02 135.76L325.11 139.08L320.93 139.08Z" fill="#2356cc"/>
<path d="M329.68 146.91L331.77 150.23L327.60 150.23Z" fill="#2356cc"/>
<path d="M334.36 175.31L336.45 178.63L332.28 178.63Z" fill="#2356cc"/>
<path d="M330.75 184.49L332.84 187.81L328.66 187.81Z" fill="#2356cc"/>
<path d="M335.80 182.92L337.88 186.24L333.71 186.24Z" fill="#2356cc"/>
<path d="M342.98 176.49L345.07 179.81L340.89 179.81Z" fill="#2356cc"/>
<path d="M340.09 192.97L342.17 196.29L338.00 196.29Z" fill="#2356cc"/>
<path d="M321.52 174.05L323.61 177.37L319.43 177.37Z" fill="#2356cc"/>
<path d="M332.54 184.41L334.63 187.73L330.46 187.73Z" fill="#2356cc"/>
<path d="M351.64 170.26L353.73 173.58L349.56 173.58Z" fill="#2356cc"/>
<path d="M327.03 186.20L329.12 189.52L324.94 189.52Z" fill="#2356cc"/>
<path d="M345.56 187.85L347.65 191.17L343.48 191.17Z" fill="#2356cc"/>
<path d="M341.82 179.20L343.90 182.52L339.73 182.52Z" fill="#2356cc"/>
<path d="M354.24 169.13L356.33 172.45L352.15 172.45Z" fill="#2356cc"/>
<path d="M346.71 187.54L348.80 190.86L344.62 190.86Z" fill="#2356cc"/>
<path d="M338.97 166.75L341.06 170.07L336.88 170.07Z" fill="#2356cc"/>
<path d="M330.50 166.44L332.59 169.76L328.42 169.76Z" fill="#2356cc"/>
<path d="M352.49 163.41L354.57 166.73L350.40 166.73Z" fill="#2356cc"/>
<path d="M345.72 174.44L347.81 177.76L343.64 177.76Z" fill="#2356cc"/>
<path d="M340.69 189.43L342.77 192.75L338.60 192.75Z" fill="#2356cc"/>
<path d="M350.22 184.16L352.30 187.48L348.13 187.48Z" fill="#2356cc"/>
<path d="M322.07 177.93L324.16 181.25L319.98 181.25Z" fill="#2356cc"/>
<path d="M332.65 188.19L334.74 191.51L330.57 191.51Z" fill="#2356cc"/>
<path d="M337.98 166.33L340.07 169.65L335.89 169.65Z" fill="#2356cc"/>
<path d="M320.40 179.36L322.48 182.68L318.31 182.68Z" fill="#2356cc"/>
<path d="M340.97 163.59L343.06 166.91L338.88 166.91Z" fill="#2356cc"/>
<path d="M338.09 193.01L340.18 196.33L336.01 196.33Z" fill="#2356cc"/>
<path d="M338.22 178.19L340.31 181.51L336.14 181.51Z" fill="#2356cc"/>
<path d="M321.38 167.27L323.46 170.59L319.29 170.59Z" fill="#2356cc"/>
<path d="M334.38 175.20L336.47 178.52L332.29 178.52Z" fill="#2356cc"/>
<path d="M339.50 176.32L341.59 179.64L337.42 179.64Z" fill="#2356cc"/>
<path d="M356.10 175.78L358.18 179.10L354.01 179.10Z" fill="#2356cc"/>
<path d="M351.99 190.34L354.08 193.66L349.91 193.66Z" fill="#2356cc"/>
<path d="M340.95 171.73L343.04 175.05L338.87 175.05Z" fill="#2356cc"/>
<path d="M340.23 191.44L342.32 194.77L338.15 194.77Z" fill="#2356cc"/>
<path d="M339.54 192.41L341.63 195.73L337.46 195.73Z" fill="#2356cc"/>
<path d="M331.53 168.13L333.62 171.45L329.44 171.45Z" fill="#2356cc"/>
<path d="M331.92 168.34L334.00 171.66L329.83 171.66Z" fill="#2356cc"/>
<path d="M329.80 181.89L331.89 185.21L327.72 185.21Z" fill="#2356cc"/>
<path d="M351.41 182.65L353.49 185.97L349.32 185.97Z" fill="#2356cc"/>
<path d="M325.49 190.21L327.58 193.53L323.40 193.53Z" fill="#2356cc"/>
<path d="M342.35 184.06L344.43 187.38L340.26 187.38Z" fill="#2356cc"/>
<path d="M325.00 187.32L327.08 190.64L322.91 190.64Z" fill="#2356cc"/>
<path d="M354.57 181.66L356.66 184.98L352.48 184.98Z" fill="#2356cc"/>
<path d="M329.27 185.43L331.35 188.75L327.18 188.75Z" fill="#2356cc"/>
<path d="M341.48 175.15L343.57 178.47L339.39 178.47Z" fill="#2356cc"/>
<path d="M341.87 170.60L343.96 173.92L339.79 173.92Z" fill="#2356cc"/>
<path d="M332.03 175.73L334.11 179.05L329.94 179.05Z" fill="#2356cc"/>
<path d="M341.18 188.01L343.27 191.33L339.09 191.33Z" fill="#2356cc"/>
<path d="M347.97 192.39L350.06 195.71L345.88 195.71Z" fill="#2356cc"/>
<path d="M332.53 179.37L334.62 182.69L330.44 182.69Z" fill="#2356cc"/>
<path d="M318.79 189.08L320.88 192.40L316.70 192.40Z" fill="#2356cc"/>
<path d="M337.62 186.10L339.71 189.42L335.53 189.42Z" fill="#2356cc"/>
<path d="M324.73 192.13L326.82 195.45L322.64 195.45Z" fill="#2356cc"/>
<path d="M338.48 168.45L340.57 171.77L336.39 171.77Z" fill="#2356cc"/>
<path d="M349.06 178.90L351.14 182.22L346.97 182.22Z" fill="#2356cc"/>
<path d="M365.65 176.32L367.73 179.64L363.56 179.64Z" fill="#2356cc"/>
<path d="M336.78 171.60L338.87 174.92L334.70 174.92Z" fill="#2356cc"/>
<path d="M344.36 171.86L346.45 175.18L342.27 175.18Z" fill="#2356cc"/>
<path d="M343.38 175.00L345.47 178.33L341.30 178.33Z" fill="#2356cc"/>
<path d="M332.88 171.68L334.97 175.00L330.79 175.00Z" fill="#2356cc"/>
<path d="M350.53 191.52L352.61 194.84L348.44 194.84Z" fill="#2356cc"/>
<path d="M343.16 172.44L345.25 175.76L341.07 175.76Z" fill="#2356cc"/>
<path d="M350.56 183.58L352.64 186.90L348.47 186.90Z" fill="#2356cc"/>
<path d="M354.42 176.69L356.51 180.02L352.33 180.02Z" fill="#2356cc"/>
<path d="M357.32 184.03L359.41 187.35L355.23 187.35Z" fill="#2356cc"/>
<path d="M346.10 184.52L348.19 187.84L344.02 187.84Z" fill="#2356cc"/>
<path d="M354.24 172.56L356.32 175.88L352.15 175.88Z" fill="#2356cc"/>
<path d="M319.97 168.47L322.06 171.79L317.88 171.79Z" fill="#2356cc"/>
<path d="M333.08 198.39L335.17 201.71L330.99 201.71Z" fill="#2356cc"/>
<path d="M335.25 200.30L337.34 203.62L333.17 203.62Z" fill="#2356cc"/>
<path d="M327.63 202.18L329.72 205.50L325.54 205.50Z" fill="#2356cc"/>
<path d="M334.94 198.79L337.03 202.11L332.85 202.11Z" fill="#2356cc"/>
<path d="M347.31 196.88L349.39 200.20L345.22 200.20Z" fill="#2356cc"/>
<path d="M331.08 194.89L333.16 198.22L328.99 198.22Z" fill="#2356cc"/>
<path d="M338.31 195.35L340.39 198.68L336.22 198.68Z" fill="#2356cc"/>
<path d="M331.47 193.98L333.56 197.31L329.38 197.31Z" fill="#2356cc"/>
<path d="M337.35 195.84L339.43 199.16L335.26 199.16Z" fill="#2356cc"/>
<path d="M368.50 57.70L370.59 61.02L366.41 61.02Z" fill="#2356cc"/>
<path d="M339.00 93.20L341.09 96.52L336.91 96.52Z" fill="#2356cc"/>
<path d="M347.10 93.20L349.19 96.52L345.01 96.52Z" fill="#2356cc"/>
<path d="M335.20 109.40L337.29 112.72L333.11 112.72Z" fill="#2356cc"/>
<path d="M363.60 109.40L365.69 112.72L361.51 112.72Z" fill="#2356cc"/>
<path d="M335.20 117.60L337.29 120.92L333.11 120.92Z" fill="#2356cc"/>
<path d="M358.20 117.60L360.29 120.92L356.11 120.92Z" fill="#2356cc"/>
<path d="M363.30 117.60L365.39 120.92L361.21 120.92Z" fill="#2356cc"/>
<path d="M357.90 120.80L359.99 124.12L355.81 124.12Z" fill="#2356cc"/>
<path d="M341.20 125.80L343.29 129.12L339.11 129.12Z" fill="#2356cc"/>
<path d="M337.00 128.60L339.09 131.92L334.91 131.92Z" fill="#2356cc"/>
<path d="M351.10 128.60L353.19 131.92L349.01 131.92Z" fill="#2356cc"/>
<path d="M326.40 205.70L328.49 209.02L324.31 209.02Z" fill="#2356cc"/>
<path d="M340.60 209.70L342.69 213.02L338.51 213.02Z" fill="#2356cc"/>
<path d="M396.00 160.20L398.09 163.52L393.91 163.52Z" fill="#2356cc"/>
<path d="M365.00 173.40L367.09 176.72L362.91 176.72Z" fill="#2356cc"/>
<path d="M372.60 188.60L374.69 191.92L370.51 191.92Z" fill="#2356cc"/>
<path d="M366.00 183.50L368.09 186.82L363.91 186.82Z" fill="#2356cc"/>
<path d="M315.50 143.10L317.59 146.42L313.41 146.42Z" fill="#2356cc"/>
<path d="M333.52 133.16L335.61 129.84L331.44 129.84Z" fill="#22955c"/>
<path d="M331.12 134.87L333.21 131.55L329.03 131.55Z" fill="#22955c"/>
<path d="M332.75 153.77L334.83 150.45L330.66 150.45Z" fill="#22955c"/>
<path d="M329.97 157.46L332.05 154.14L327.88 154.14Z" fill="#22955c"/>
<path d="M345.79 148.24L347.88 144.92L343.71 144.92Z" fill="#22955c"/>
<path d="M348.18 138.45L350.26 135.13L346.09 135.13Z" fill="#22955c"/>
<path d="M341.01 159.18L343.10 155.86L338.92 155.86Z" fill="#22955c"/>
<path d="M349.09 159.41L351.17 156.09L347.00 156.09Z" fill="#22955c"/>
<path d="M342.01 164.97L344.10 161.65L339.92 161.65Z" fill="#22955c"/>
<path d="M341.05 157.89L343.14 154.57L338.97 154.57Z" fill="#22955c"/>
<path d="M329.11 166.20L331.19 162.88L327.02 162.88Z" fill="#22955c"/>
<path d="M342.11 139.81L344.19 136.49L340.02 136.49Z" fill="#22955c"/>
<path d="M327.58 154.60L329.67 151.28L325.49 151.28Z" fill="#22955c"/>
<path d="M339.74 148.75L341.83 145.43L337.66 145.43Z" fill="#22955c"/>
<path d="M337.61 151.96L339.70 148.64L335.52 148.64Z" fill="#22955c"/>
<path d="M346.18 145.43L348.27 142.11L344.09 142.11Z" fill="#22955c"/>
<path d="M331.84 159.25L333.93 155.93L329.75 155.93Z" fill="#22955c"/>
<path d="M348.43 159.16L350.52 155.84L346.34 155.84Z" fill="#22955c"/>
<path d="M348.13 162.27L350.22 158.95L346.04 158.95Z" fill="#22955c"/>
<path d="M336.38 148.54L338.46 145.22L334.29 145.22Z" fill="#22955c"/>
<path d="M345.88 146.01L347.97 142.69L343.79 142.69Z" fill="#22955c"/>
<path d="M359.65 158.09L361.73 154.77L357.56 154.77Z" fill="#22955c"/>
<path d="M349.75 158.42L351.83 155.10L347.66 155.10Z" fill="#22955c"/>
<path d="M366.69 157.69L368.78 154.37L364.60 154.37Z" fill="#22955c"/>
<path d="M321.94 141.10L324.03 137.78L319.85 137.78Z" fill="#22955c"/>
<path d="M350.81 166.64L352.90 163.32L348.72 163.32Z" fill="#22955c"/>
<path d="M339.82 159.50L341.90 156.18L337.73 156.18Z" fill="#22955c"/>
<path d="M354.94 139.99L357.03 136.67L352.85 136.67Z" fill="#22955c"/>
<path d="M333.32 139.23L335.41 135.91L331.24 135.91Z" fill="#22955c"/>
<path d="M343.83 161.71L345.91 158.39L341.74 158.39Z" fill="#22955c"/>
<path d="M339.28 142.95L341.37 139.63L337.19 139.63Z" fill="#22955c"/>
<path d="M324.07 146.61L326.16 143.29L321.98 143.29Z" fill="#22955c"/>
<path d="M354.35 160.52L356.43 157.20L352.26 157.20Z" fill="#22955c"/>
<path d="M349.31 162.45L351.40 159.13L347.23 159.13Z" fill="#22955c"/>
<path d="M331.76 148.80L333.85 145.48L329.67 145.48Z" fill="#22955c"/>
<path d="M343.40 159.59L345.48 156.27L341.31 156.27Z" fill="#22955c"/>
<path d="M338.60 162.27L340.69 158.95L336.51 158.95Z" fill="#22955c"/>
<path d="M341.81 140.81L343.90 137.49L339.72 137.49Z" fill="#22955c"/>
<path d="M349.14 163.78L351.23 160.46L347.05 160.46Z" fill="#22955c"/>
<path d="M330.42 142.54L332.51 139.22L328.33 139.22Z" fill="#22955c"/>
<path d="M324.44 161.02L326.53 157.70L322.35 157.70Z" fill="#22955c"/>
<path d="M338.60 162.59L340.69 159.27L336.52 159.27Z" fill="#22955c"/>
<path d="M327.46 164.63L329.55 161.31L325.37 161.31Z" fill="#22955c"/>
<path d="M360.69 150.05L362.78 146.73L358.60 146.73Z" fill="#22955c"/>
<path d="M351.83 138.80L353.91 135.48L349.74 135.48Z" fill="#22955c"/>
<path d="M333.18 157.15L335.26 153.83L331.09 153.83Z" fill="#22955c"/>
<path d="M340.01 161.22L342.10 157.90L337.93 157.90Z" fill="#22955c"/>
<path d="M341.17 150.35L343.26 147.03L339.08 147.03Z" fill="#22955c"/>
<path d="M352.22 145.44L354.31 142.12L350.14 142.12Z" fill="#22955c"/>
<path d="M342.18 163.33L344.27 160.01L340.10 160.01Z" fill="#22955c"/>
<path d="M362.00 145.57L364.09 142.25L359.91 142.25Z" fill="#22955c"/>
<path d="M321.91 143.08L324.00 139.76L319.82 139.76Z" fill="#22955c"/>
<path d="M352.05 164.62L354.14 161.30L349.97 161.30Z" fill="#22955c"/>
<path d="M336.00 148.89L338.09 145.57L333.92 145.57Z" fill="#22955c"/>
<path d="M337.91 165.05L340.00 161.73L335.82 161.73Z" fill="#22955c"/>
<path d="M351.57 151.65L353.65 148.33L349.48 148.33Z" fill="#22955c"/>
<path d="M351.03 142.30L353.11 138.98L348.94 138.98Z" fill="#22955c"/>
<path d="M325.92 139.95L328.01 136.63L323.83 136.63Z" fill="#22955c"/>
<path d="M349.06 140.10L351.15 136.78L346.97 136.78Z" fill="#22955c"/>
<path d="M367.09 157.41L369.18 154.09L365.00 154.09Z" fill="#22955c"/>
<path d="M356.39 150.81L358.47 147.49L354.30 147.49Z" fill="#22955c"/>
<path d="M362.87 163.99L364.96 160.67L360.78 160.67Z" fill="#22955c"/>
<path d="M349.92 162.33L352.01 159.01L347.83 159.01Z" fill="#22955c"/>
<path d="M351.44 146.71L353.53 143.39L349.36 143.39Z" fill="#22955c"/>
<path d="M332.53 154.20L334.61 150.88L330.44 150.88Z" fill="#22955c"/>
<path d="M360.02 152.15L362.11 148.83L357.93 148.83Z" fill="#22955c"/>
<path d="M328.26 140.85L330.34 137.53L326.17 137.53Z" fill="#22955c"/>
<path d="M342.31 146.33L344.40 143.01L340.22 143.01Z" fill="#22955c"/>
<path d="M333.95 180.14L336.04 176.82L331.87 176.82Z" fill="#22955c"/>
<path d="M328.33 184.35L330.41 181.03L326.24 181.03Z" fill="#22955c"/>
<path d="M322.88 193.80L324.97 190.47L320.79 190.47Z" fill="#22955c"/>
<path d="M350.61 168.44L352.70 165.12L348.52 165.12Z" fill="#22955c"/>
<path d="M343.43 184.35L345.52 181.03L341.34 181.03Z" fill="#22955c"/>
<path d="M334.34 168.90L336.43 165.58L332.25 165.58Z" fill="#22955c"/>
<path d="M327.70 186.50L329.78 183.18L325.61 183.18Z" fill="#22955c"/>
<path d="M341.66 180.14L343.75 176.81L339.58 176.81Z" fill="#22955c"/>
<path d="M316.85 188.65L318.93 185.33L314.76 185.33Z" fill="#22955c"/>
<path d="M338.71 180.20L340.79 176.87L336.62 176.87Z" fill="#22955c"/>
<path d="M334.01 187.08L336.10 183.76L331.92 183.76Z" fill="#22955c"/>
<path d="M333.39 192.28L335.47 188.96L331.30 188.96Z" fill="#22955c"/>
<path d="M344.16 177.22L346.25 173.90L342.07 173.90Z" fill="#22955c"/>
<path d="M348.98 187.64L351.06 184.32L346.89 184.32Z" fill="#22955c"/>
<path d="M322.74 194.20L324.83 190.88L320.66 190.88Z" fill="#22955c"/>
<path d="M322.93 179.92L325.02 176.60L320.84 176.60Z" fill="#22955c"/>
<path d="M343.43 194.36L345.52 191.04L341.34 191.04Z" fill="#22955c"/>
<path d="M346.80 168.27L348.89 164.95L344.72 164.95Z" fill="#22955c"/>
<path d="M325.53 180.05L327.62 176.73L323.44 176.73Z" fill="#22955c"/>
<path d="M336.08 185.53L338.17 182.21L334.00 182.21Z" fill="#22955c"/>
<path d="M342.96 174.20L345.05 170.88L340.87 170.88Z" fill="#22955c"/>
<path d="M342.36 193.49L344.45 190.17L340.28 190.17Z" fill="#22955c"/>
<path d="M348.42 192.22L350.51 188.90L346.33 188.90Z" fill="#22955c"/>
<path d="M340.60 180.88L342.68 177.55L338.51 177.55Z" fill="#22955c"/>
<path d="M337.25 175.77L339.34 172.45L335.17 172.45Z" fill="#22955c"/>
<path d="M325.58 176.10L327.66 172.78L323.49 172.78Z" fill="#22955c"/>
<path d="M322.29 170.86L324.38 167.54L320.20 167.54Z" fill="#22955c"/>
<path d="M329.48 189.57L331.56 186.25L327.39 186.25Z" fill="#22955c"/>
<path d="M354.45 172.37L356.54 169.05L352.36 169.05Z" fill="#22955c"/>
<path d="M332.20 194.10L334.29 190.78L330.12 190.78Z" fill="#22955c"/>
<path d="M323.60 185.78L325.69 182.46L321.51 182.46Z" fill="#22955c"/>
<path d="M327.38 177.79L329.47 174.47L325.29 174.47Z" fill="#22955c"/>
<path d="M337.00 182.29L339.09 178.97L334.91 178.97Z" fill="#22955c"/>
<path d="M335.74 193.29L337.83 189.97L333.65 189.97Z" fill="#22955c"/>
<path d="M335.78 189.33L337.86 186.01L333.69 186.01Z" fill="#22955c"/>
<path d="M341.89 185.61L343.98 182.28L339.81 182.28Z" fill="#22955c"/>
<path d="M340.88 177.48L342.96 174.16L338.79 174.16Z" fill="#22955c"/>
<path d="M313.33 184.68L315.41 181.35L311.24 181.35Z" fill="#22955c"/>
<path d="M355.28 174.07L357.37 170.75L353.20 170.75Z" fill="#22955c"/>
<path d="M331.53 184.70L333.62 181.38L329.44 181.38Z" fill="#22955c"/>
<path d="M340.78 170.67L342.87 167.35L338.70 167.35Z" fill="#22955c"/>
<path d="M357.56 171.58L359.64 168.26L355.47 168.26Z" fill="#22955c"/>
<path d="M349.84 176.70L351.92 173.38L347.75 173.38Z" fill="#22955c"/>
<path d="M338.97 196.30L341.06 192.98L336.89 192.98Z" fill="#22955c"/>
<path d="M342.49 193.93L344.58 190.61L340.41 190.61Z" fill="#22955c"/>
<path d="M374.80 179.24L376.89 175.92L372.72 175.92Z" fill="#22955c"/>
<path d="M319.21 196.11L321.29 192.79L317.12 192.79Z" fill="#22955c"/>
<path d="M349.96 186.74L352.04 183.42L347.87 183.42Z" fill="#22955c"/>
<path d="M354.01 169.53L356.10 166.21L351.92 166.21Z" fill="#22955c"/>
<path d="M333.62 179.38L335.71 176.05L331.54 176.05Z" fill="#22955c"/>
<path d="M362.15 179.57L364.24 176.25L360.06 176.25Z" fill="#22955c"/>
<path d="M336.27 194.16L338.36 190.84L334.19 190.84Z" fill="#22955c"/>
<path d="M338.14 172.13L340.23 168.81L336.05 168.81Z" fill="#22955c"/>
<path d="M325.99 179.61L328.07 176.29L323.90 176.29Z" fill="#22955c"/>
<path d="M339.88 202.07L341.97 198.75L337.80 198.75Z" fill="#22955c"/>
<path d="M346.67 205.99L348.76 202.67L344.59 202.67Z" fill="#22955c"/>
<path d="M335.46 201.19L337.54 197.87L333.37 197.87Z" fill="#22955c"/>
<path d="M335.78 199.21L337.87 195.89L333.69 195.89Z" fill="#22955c"/>
<path d="M346.00 207.49L348.09 204.17L343.91 204.17Z" fill="#22955c"/>
<path d="M337.38 198.21L339.47 194.89L335.30 194.89Z" fill="#22955c"/>
<path d="M339.68 206.29L341.77 202.96L337.59 202.96Z" fill="#22955c"/>
<path d="M337.49 197.61L339.57 194.29L335.40 194.29Z" fill="#22955c"/>
<path d="M353.13 204.64L355.22 201.32L351.04 201.32Z" fill="#22955c"/>
<path d="M329.17 200.53L331.26 197.21L327.08 197.21Z" fill="#22955c"/>
<path d="M353.73 205.79L355.82 202.47L351.64 202.47Z" fill="#22955c"/>
<path d="M318.05 202.15L320.13 198.83L315.96 198.83Z" fill="#22955c"/>
<path d="M335.46 204.20L337.55 200.88L333.37 200.88Z" fill="#22955c"/>
<path d="M344.20 207.72L346.28 204.40L342.11 204.40Z" fill="#22955c"/>
<path d="M327.25 204.31L329.34 200.99L325.17 200.99Z" fill="#22955c"/>
<path d="M329.86 199.10L331.94 195.78L327.77 195.78Z" fill="#22955c"/>
<path d="M344.90 61.50L346.99 58.18L342.81 58.18Z" fill="#22955c"/>
<path d="M344.00 97.00L346.09 93.68L341.91 93.68Z" fill="#22955c"/>
<path d="M321.30 113.20L323.39 109.88L319.21 109.88Z" fill="#22955c"/>
<path d="M357.90 113.20L359.99 109.88L355.81 109.88Z" fill="#22955c"/>
<path d="M348.00 121.40L350.09 118.08L345.91 118.08Z" fill="#22955c"/>
<path d="M331.40 213.50L333.49 210.18L329.31 210.18Z" fill="#22955c"/>
<path d="M316.30 151.90L318.39 148.58L314.21 148.58Z" fill="#22955c"/>
<path d="M316.30 156.90L318.39 153.58L314.21 153.58Z" fill="#22955c"/>
<path d="M316.50 161.90L318.59 158.58L314.41 158.58Z" fill="#22955c"/>
<path d="M318.00 142.90L320.09 139.58L315.91 139.58Z" fill="#22955c"/>
<path d="M338.49 126.06L340.55 128.12L338.49 130.19L336.43 128.12Z" fill="#a868ec"/>
<path d="M347.74 126.77L349.81 128.83L347.74 130.90L345.68 128.83Z" fill="#a868ec"/>
<path d="M352.80 124.16L354.87 126.22L352.80 128.28L350.74 126.22Z" fill="#a868ec"/>
<path d="M330.40 128.58L332.46 130.64L330.40 132.70L328.34 130.64Z" fill="#a868ec"/>
<path d="M350.57 126.76L352.63 128.82L350.57 130.89L348.51 128.82Z" fill="#a868ec"/>
<path d="M343.49 137.49L345.56 139.55L343.49 141.61L341.43 139.55Z" fill="#a868ec"/>
<path d="M341.98 143.01L344.04 145.08L341.98 147.14L339.91 145.08Z" fill="#a868ec"/>
<path d="M337.34 135.07L339.41 137.13L337.34 139.19L335.28 137.13Z" fill="#a868ec"/>
<path d="M332.11 150.15L334.17 152.22L332.11 154.28L330.05 152.22Z" fill="#a868ec"/>
<path d="M347.52 134.03L349.58 136.09L347.52 138.16L345.46 136.09Z" fill="#a868ec"/>
<path d="M329.83 153.46L331.89 155.52L329.83 157.58L327.77 155.52Z" fill="#a868ec"/>
<path d="M343.35 140.03L345.42 142.09L343.35 144.16L341.29 142.09Z" fill="#a868ec"/>
<path d="M344.86 162.67L346.93 164.73L344.86 166.79L342.80 164.73Z" fill="#a868ec"/>
<path d="M357.69 157.86L359.75 159.92L357.69 161.98L355.63 159.92Z" fill="#a868ec"/>
<path d="M338.45 156.51L340.51 158.58L338.45 160.64L336.39 158.58Z" fill="#a868ec"/>
<path d="M346.18 153.99L348.25 156.06L346.18 158.12L344.12 156.06Z" fill="#a868ec"/>
<path d="M330.89 155.47L332.95 157.54L330.89 159.60L328.83 157.54Z" fill="#a868ec"/>
<path d="M337.36 143.51L339.42 145.58L337.36 147.64L335.30 145.58Z" fill="#a868ec"/>
<path d="M335.30 154.73L337.36 156.79L335.30 158.85L333.24 156.79Z" fill="#a868ec"/>
<path d="M352.71 145.12L354.77 147.19L352.71 149.25L350.65 147.19Z" fill="#a868ec"/>
<path d="M333.35 153.05L335.41 155.11L333.35 157.18L331.28 155.11Z" fill="#a868ec"/>
<path d="M348.64 138.25L350.70 140.32L348.64 142.38L346.57 140.32Z" fill="#a868ec"/>
<path d="M338.49 144.52L340.55 146.58L338.49 148.65L336.43 146.58Z" fill="#a868ec"/>
<path d="M328.08 138.59L330.14 140.66L328.08 142.72L326.02 140.66Z" fill="#a868ec"/>
<path d="M345.94 158.60L348.00 160.66L345.94 162.72L343.88 160.66Z" fill="#a868ec"/>
<path d="M343.72 147.01L345.78 149.08L343.72 151.14L341.66 149.08Z" fill="#a868ec"/>
<path d="M338.34 148.77L340.40 150.83L338.34 152.89L336.28 150.83Z" fill="#a868ec"/>
<path d="M343.51 152.65L345.57 154.71L343.51 156.77L341.45 154.71Z" fill="#a868ec"/>
<path d="M335.20 135.85L337.27 137.92L335.20 139.98L333.14 137.92Z" fill="#a868ec"/>
<path d="M332.96 151.68L335.02 153.74L332.96 155.80L330.90 153.74Z" fill="#a868ec"/>
<path d="M333.80 143.82L335.86 145.88L333.80 147.94L331.74 145.88Z" fill="#a868ec"/>
<path d="M362.02 150.18L364.08 152.24L362.02 154.30L359.95 152.24Z" fill="#a868ec"/>
<path d="M336.72 153.72L338.79 155.78L336.72 157.84L334.66 155.78Z" fill="#a868ec"/>
<path d="M355.53 144.96L357.59 147.02L355.53 149.08L353.47 147.02Z" fill="#a868ec"/>
<path d="M330.49 142.39L332.55 144.45L330.49 146.51L328.42 144.45Z" fill="#a868ec"/>
<path d="M352.86 148.65L354.92 150.72L352.86 152.78L350.80 150.72Z" fill="#a868ec"/>
<path d="M348.49 160.82L350.56 162.89L348.49 164.95L346.43 162.89Z" fill="#a868ec"/>
<path d="M338.82 159.95L340.88 162.01L338.82 164.07L336.76 162.01Z" fill="#a868ec"/>
<path d="M339.67 156.88L341.73 158.94L339.67 161.00L337.61 158.94Z" fill="#a868ec"/>
<path d="M337.01 142.51L339.07 144.58L337.01 146.64L334.94 144.58Z" fill="#a868ec"/>
<path d="M335.07 159.11L337.13 161.17L335.07 163.24L333.01 161.17Z" fill="#a868ec"/>
<path d="M350.68 158.63L352.74 160.69L350.68 162.75L348.62 160.69Z" fill="#a868ec"/>
<path d="M330.35 144.59L332.41 146.65L330.35 148.71L328.29 146.65Z" fill="#a868ec"/>
<path d="M344.05 159.49L346.12 161.56L344.05 163.62L341.99 161.56Z" fill="#a868ec"/>
<path d="M330.13 159.77L332.20 161.84L330.13 163.90L328.07 161.84Z" fill="#a868ec"/>
<path d="M338.42 154.07L340.48 156.13L338.42 158.19L336.35 156.13Z" fill="#a868ec"/>
<path d="M333.31 147.83L335.37 149.90L333.31 151.96L331.24 149.90Z" fill="#a868ec"/>
<path d="M338.46 153.26L340.52 155.32L338.46 157.39L336.40 155.32Z" fill="#a868ec"/>
<path d="M324.24 139.19L326.31 141.25L324.24 143.32L322.18 141.25Z" fill="#a868ec"/>
<path d="M341.96 158.87L344.02 160.93L341.96 162.99L339.90 160.93Z" fill="#a868ec"/>
<path d="M328.94 151.17L331.00 153.23L328.94 155.30L326.88 153.23Z" fill="#a868ec"/>
<path d="M346.78 152.25L348.84 154.31L346.78 156.37L344.71 154.31Z" fill="#a868ec"/>
<path d="M333.16 152.16L335.22 154.22L333.16 156.28L331.10 154.22Z" fill="#a868ec"/>
<path d="M320.25 159.58L322.31 161.64L320.25 163.71L318.19 161.64Z" fill="#a868ec"/>
<path d="M360.17 151.90L362.23 153.96L360.17 156.03L358.11 153.96Z" fill="#a868ec"/>
<path d="M319.59 155.24L321.65 157.30L319.59 159.36L317.53 157.30Z" fill="#a868ec"/>
<path d="M361.32 149.93L363.38 151.99L361.32 154.05L359.25 151.99Z" fill="#a868ec"/>
<path d="M341.17 156.05L343.23 158.11L341.17 160.17L339.10 158.11Z" fill="#a868ec"/>
<path d="M336.58 145.44L338.65 147.50L336.58 149.56L334.52 147.50Z" fill="#a868ec"/>
<path d="M357.10 135.41L359.17 137.47L357.10 139.54L355.04 137.47Z" fill="#a868ec"/>
<path d="M345.34 147.75L347.41 149.81L345.34 151.88L343.28 149.81Z" fill="#a868ec"/>
<path d="M343.23 143.46L345.29 145.52L343.23 147.59L341.17 145.52Z" fill="#a868ec"/>
<path d="M339.41 157.60L341.47 159.66L339.41 161.73L337.35 159.66Z" fill="#a868ec"/>
<path d="M326.81 161.99L328.87 164.05L326.81 166.11L324.75 164.05Z" fill="#a868ec"/>
<path d="M346.64 153.16L348.70 155.22L346.64 157.29L344.57 155.22Z" fill="#a868ec"/>
<path d="M353.18 136.30L355.24 138.36L353.18 140.43L351.11 138.36Z" fill="#a868ec"/>
<path d="M355.27 139.52L357.33 141.58L355.27 143.65L353.20 141.58Z" fill="#a868ec"/>
<path d="M344.76 152.99L346.82 155.05L344.76 157.12L342.70 155.05Z" fill="#a868ec"/>
<path d="M348.45 154.02L350.52 156.08L348.45 158.14L346.39 156.08Z" fill="#a868ec"/>
<path d="M332.75 154.69L334.82 156.75L332.75 158.81L330.69 156.75Z" fill="#a868ec"/>
<path d="M330.99 136.76L333.06 138.83L330.99 140.89L328.93 138.83Z" fill="#a868ec"/>
<path d="M338.85 150.40L340.91 152.47L338.85 154.53L336.79 152.47Z" fill="#a868ec"/>
<path d="M330.61 149.55L332.68 151.61L330.61 153.67L328.55 151.61Z" fill="#a868ec"/>
<path d="M337.69 161.99L339.76 164.05L337.69 166.11L335.63 164.05Z" fill="#a868ec"/>
<path d="M318.37 165.38L320.43 167.44L318.37 169.51L316.31 167.44Z" fill="#a868ec"/>
<path d="M333.71 173.13L335.77 175.19L333.71 177.25L331.64 175.19Z" fill="#a868ec"/>
<path d="M327.13 170.76L329.19 172.82L327.13 174.88L325.07 172.82Z" fill="#a868ec"/>
<path d="M337.61 184.23L339.68 186.29L337.61 188.35L335.55 186.29Z" fill="#a868ec"/>
<path d="M345.44 191.34L347.51 193.40L345.44 195.46L343.38 193.40Z" fill="#a868ec"/>
<path d="M349.98 166.08L352.04 168.14L349.98 170.20L347.91 168.14Z" fill="#a868ec"/>
<path d="M322.02 171.77L324.08 173.83L322.02 175.89L319.96 173.83Z" fill="#a868ec"/>
<path d="M348.87 172.50L350.93 174.56L348.87 176.63L346.80 174.56Z" fill="#a868ec"/>
<path d="M336.30 179.73L338.37 181.79L336.30 183.85L334.24 181.79Z" fill="#a868ec"/>
<path d="M325.46 164.48L327.52 166.54L325.46 168.60L323.40 166.54Z" fill="#a868ec"/>
<path d="M331.88 165.19L333.94 167.25L331.88 169.31L329.82 167.25Z" fill="#a868ec"/>
<path d="M354.73 190.00L356.79 192.06L354.73 194.12L352.66 192.06Z" fill="#a868ec"/>
<path d="M341.30 182.49L343.37 184.55L341.30 186.62L339.24 184.55Z" fill="#a868ec"/>
<path d="M345.97 183.27L348.03 185.33L345.97 187.39L343.91 185.33Z" fill="#a868ec"/>
<path d="M355.63 178.92L357.69 180.99L355.63 183.05L353.57 180.99Z" fill="#a868ec"/>
<path d="M345.25 192.68L347.32 194.74L345.25 196.80L343.19 194.74Z" fill="#a868ec"/>
<path d="M348.95 189.72L351.02 191.79L348.95 193.85L346.89 191.79Z" fill="#a868ec"/>
<path d="M343.94 184.08L346.00 186.14L343.94 188.21L341.87 186.14Z" fill="#a868ec"/>
<path d="M353.41 190.67L355.47 192.74L353.41 194.80L351.34 192.74Z" fill="#a868ec"/>
<path d="M351.24 175.03L353.30 177.10L351.24 179.16L349.17 177.10Z" fill="#a868ec"/>
<path d="M331.47 180.80L333.53 182.86L331.47 184.92L329.40 182.86Z" fill="#a868ec"/>
<path d="M361.52 175.76L363.58 177.82L361.52 179.88L359.46 177.82Z" fill="#a868ec"/>
<path d="M319.54 181.15L321.61 183.21L319.54 185.28L317.48 183.21Z" fill="#a868ec"/>
<path d="M324.35 174.94L326.41 177.00L324.35 179.07L322.28 177.00Z" fill="#a868ec"/>
<path d="M333.38 179.71L335.44 181.77L333.38 183.83L331.32 181.77Z" fill="#a868ec"/>
<path d="M331.56 173.51L333.62 175.58L331.56 177.64L329.50 175.58Z" fill="#a868ec"/>
<path d="M336.77 177.48L338.83 179.54L336.77 181.60L334.71 179.54Z" fill="#a868ec"/>
<path d="M329.03 174.44L331.09 176.50L329.03 178.56L326.97 176.50Z" fill="#a868ec"/>
<path d="M348.94 173.99L351.00 176.05L348.94 178.12L346.88 176.05Z" fill="#a868ec"/>
<path d="M335.14 169.05L337.20 171.11L335.14 173.17L333.08 171.11Z" fill="#a868ec"/>
<path d="M339.14 172.84L341.20 174.90L339.14 176.96L337.08 174.90Z" fill="#a868ec"/>
<path d="M359.87 169.13L361.93 171.19L359.87 173.26L357.81 171.19Z" fill="#a868ec"/>
<path d="M345.34 169.71L347.40 171.77L345.34 173.83L343.27 171.77Z" fill="#a868ec"/>
<path d="M350.21 187.74L352.27 189.80L350.21 191.86L348.15 189.80Z" fill="#a868ec"/>
<path d="M328.29 186.77L330.35 188.83L328.29 190.89L326.23 188.83Z" fill="#a868ec"/>
<path d="M323.71 187.04L325.77 189.10L323.71 191.16L321.64 189.10Z" fill="#a868ec"/>
<path d="M366.72 182.50L368.78 184.57L366.72 186.63L364.65 184.57Z" fill="#a868ec"/>
<path d="M325.61 186.94L327.68 189.01L325.61 191.07L323.55 189.01Z" fill="#a868ec"/>
<path d="M335.86 187.09L337.93 189.15L335.86 191.21L333.80 189.15Z" fill="#a868ec"/>
<path d="M340.87 167.94L342.94 170.00L340.87 172.06L338.81 170.00Z" fill="#a868ec"/>
<path d="M331.23 176.68L333.29 178.74L331.23 180.80L329.17 178.74Z" fill="#a868ec"/>
<path d="M334.56 183.13L336.63 185.19L334.56 187.25L332.50 185.19Z" fill="#a868ec"/>
<path d="M320.03 171.73L322.09 173.79L320.03 175.85L317.97 173.79Z" fill="#a868ec"/>
<path d="M335.92 168.30L337.99 170.36L335.92 172.42L333.86 170.36Z" fill="#a868ec"/>
<path d="M319.62 174.45L321.68 176.51L319.62 178.57L317.55 176.51Z" fill="#a868ec"/>
<path d="M326.34 168.98L328.40 171.05L326.34 173.11L324.27 171.05Z" fill="#a868ec"/>
<path d="M326.25 165.85L328.31 167.91L326.25 169.97L324.19 167.91Z" fill="#a868ec"/>
<path d="M346.55 172.95L348.61 175.02L346.55 177.08L344.49 175.02Z" fill="#a868ec"/>
<path d="M319.59 166.99L321.66 169.05L319.59 171.11L317.53 169.05Z" fill="#a868ec"/>
<path d="M336.07 179.95L338.14 182.01L336.07 184.07L334.01 182.01Z" fill="#a868ec"/>
<path d="M354.06 169.12L356.12 171.18L354.06 173.25L351.99 171.18Z" fill="#a868ec"/>
<path d="M355.65 186.68L357.71 188.74L355.65 190.81L353.59 188.74Z" fill="#a868ec"/>
<path d="M323.68 169.92L325.74 171.98L323.68 174.04L321.61 171.98Z" fill="#a868ec"/>
<path d="M324.59 189.11L326.65 191.17L324.59 193.23L322.53 191.17Z" fill="#a868ec"/>
<path d="M328.61 187.95L330.67 190.01L328.61 192.07L326.55 190.01Z" fill="#a868ec"/>
<path d="M357.79 177.98L359.85 180.04L357.79 182.10L355.72 180.04Z" fill="#a868ec"/>
<path d="M337.50 191.98L339.56 194.04L337.50 196.10L335.43 194.04Z" fill="#a868ec"/>
<path d="M349.05 189.56L351.11 191.62L349.05 193.69L346.99 191.62Z" fill="#a868ec"/>
<path d="M336.38 168.39L338.45 170.45L336.38 172.51L334.32 170.45Z" fill="#a868ec"/>
<path d="M315.87 163.00L317.93 165.07L315.87 167.13L313.81 165.07Z" fill="#a868ec"/>
<path d="M337.97 186.00L340.04 188.06L337.97 190.12L335.91 188.06Z" fill="#a868ec"/>
<path d="M335.39 174.81L337.45 176.87L335.39 178.94L333.33 176.87Z" fill="#a868ec"/>
<path d="M338.17 188.32L340.23 190.38L338.17 192.44L336.11 190.38Z" fill="#a868ec"/>
<path d="M334.19 171.11L336.25 173.17L334.19 175.23L332.13 173.17Z" fill="#a868ec"/>
<path d="M344.31 185.90L346.38 187.96L344.31 190.02L342.25 187.96Z" fill="#a868ec"/>
<path d="M330.57 171.73L332.63 173.79L330.57 175.85L328.51 173.79Z" fill="#a868ec"/>
<path d="M341.34 192.02L343.40 194.09L341.34 196.15L339.27 194.09Z" fill="#a868ec"/>
<path d="M336.48 167.91L338.54 169.97L336.48 172.03L334.42 169.97Z" fill="#a868ec"/>
<path d="M325.76 171.95L327.83 174.01L325.76 176.08L323.70 174.01Z" fill="#a868ec"/>
<path d="M320.67 170.85L322.74 172.92L320.67 174.98L318.61 172.92Z" fill="#a868ec"/>
<path d="M335.87 173.56L337.93 175.62L335.87 177.69L333.80 175.62Z" fill="#a868ec"/>
<path d="M321.55 191.39L323.62 193.45L321.55 195.51L319.49 193.45Z" fill="#a868ec"/>
<path d="M315.37 189.38L317.43 191.44L315.37 193.50L313.31 191.44Z" fill="#a868ec"/>
<path d="M341.15 183.58L343.22 185.65L341.15 187.71L339.09 185.65Z" fill="#a868ec"/>
<path d="M340.46 164.83L342.52 166.89L340.46 168.96L338.40 166.89Z" fill="#a868ec"/>
<path d="M322.91 168.02L324.97 170.08L322.91 172.14L320.84 170.08Z" fill="#a868ec"/>
<path d="M345.44 187.34L347.50 189.40L345.44 191.47L343.38 189.40Z" fill="#a868ec"/>
<path d="M324.53 180.03L326.59 182.09L324.53 184.16L322.46 182.09Z" fill="#a868ec"/>
<path d="M328.70 189.40L330.77 191.46L328.70 193.52L326.64 191.46Z" fill="#a868ec"/>
<path d="M338.97 191.82L341.03 193.89L338.97 195.95L336.90 193.89Z" fill="#a868ec"/>
<path d="M333.28 173.78L335.34 175.84L333.28 177.90L331.22 175.84Z" fill="#a868ec"/>
<path d="M354.22 171.96L356.28 174.02L354.22 176.08L352.16 174.02Z" fill="#a868ec"/>
<path d="M331.12 182.40L333.18 184.47L331.12 186.53L329.06 184.47Z" fill="#a868ec"/>
<path d="M346.26 166.06L348.33 168.13L346.26 170.19L344.20 168.13Z" fill="#a868ec"/>
<path d="M347.16 178.46L349.22 180.52L347.16 182.58L345.10 180.52Z" fill="#a868ec"/>
<path d="M344.61 175.86L346.67 177.92L344.61 179.99L342.54 177.92Z" fill="#a868ec"/>
<path d="M320.31 175.30L322.37 177.36L320.31 179.42L318.24 177.36Z" fill="#a868ec"/>
<path d="M334.15 167.70L336.21 169.77L334.15 171.83L332.09 169.77Z" fill="#a868ec"/>
<path d="M341.59 173.34L343.65 175.40L341.59 177.46L339.52 175.40Z" fill="#a868ec"/>
<path d="M349.93 182.93L351.99 184.99L349.93 187.06L347.86 184.99Z" fill="#a868ec"/>
<path d="M340.73 176.95L342.79 179.01L340.73 181.07L338.67 179.01Z" fill="#a868ec"/>
<path d="M337.23 177.77L339.29 179.83L337.23 181.90L335.16 179.83Z" fill="#a868ec"/>
<path d="M314.34 195.65L316.40 197.71L314.34 199.77L312.28 197.71Z" fill="#a868ec"/>
<path d="M339.75 199.15L341.81 201.22L339.75 203.28L337.69 201.22Z" fill="#a868ec"/>
<path d="M346.04 198.76L348.11 200.82L346.04 202.89L343.98 200.82Z" fill="#a868ec"/>
<path d="M324.21 193.50L326.28 195.56L324.21 197.62L322.15 195.56Z" fill="#a868ec"/>
<path d="M333.50 195.72L335.56 197.78L333.50 199.84L331.44 197.78Z" fill="#a868ec"/>
<path d="M320.85 199.70L322.92 201.76L320.85 203.82L318.79 201.76Z" fill="#a868ec"/>
<path d="M348.94 198.44L351.01 200.50L348.94 202.57L346.88 200.50Z" fill="#a868ec"/>
<path d="M331.70 193.87L333.76 195.93L331.70 197.99L329.64 195.93Z" fill="#a868ec"/>
<path d="M342.21 195.98L344.27 198.04L342.21 200.11L340.14 198.04Z" fill="#a868ec"/>
<path d="M329.32 195.91L331.39 197.98L329.32 200.04L327.26 197.98Z" fill="#a868ec"/>
<path d="M326.91 200.04L328.98 202.10L326.91 204.16L324.85 202.10Z" fill="#a868ec"/>
<path d="M333.97 193.89L336.03 195.95L333.97 198.01L331.91 195.95Z" fill="#a868ec"/>
<path d="M320.90 197.02L322.96 199.08L320.90 201.14L318.84 199.08Z" fill="#a868ec"/>
<path d="M330.44 203.44L332.50 205.50L330.44 207.56L328.38 205.50Z" fill="#a868ec"/>
<path d="M370.00 57.54L372.06 59.60L370.00 61.66L367.94 59.60Z" fill="#a868ec"/>
<path d="M330.50 93.04L332.56 95.10L330.50 97.16L328.44 95.10Z" fill="#a868ec"/>
<path d="M336.90 93.04L338.96 95.10L336.90 97.16L334.84 95.10Z" fill="#a868ec"/>
<path d="M341.20 93.04L343.26 95.10L341.20 97.16L339.14 95.10Z" fill="#a868ec"/>
<path d="M340.00 109.24L342.06 111.30L340.00 113.36L337.94 111.30Z" fill="#a868ec"/>
<path d="M351.10 109.24L353.16 111.30L351.10 113.36L349.04 111.30Z" fill="#a868ec"/>
<path d="M322.00 117.44L324.06 119.50L322.00 121.56L319.94 119.50Z" fill="#a868ec"/>
<path d="M330.50 117.44L332.56 119.50L330.50 121.56L328.44 119.50Z" fill="#a868ec"/>
<path d="M342.30 117.44L344.36 119.50L342.30 121.56L340.24 119.50Z" fill="#a868ec"/>
<path d="M353.90 117.44L355.96 119.50L353.90 121.56L351.84 119.50Z" fill="#a868ec"/>
<path d="M340.20 120.64L342.26 122.70L340.20 124.76L338.14 122.70Z" fill="#a868ec"/>
<path d="M330.50 125.64L332.56 127.70L330.50 129.76L328.44 127.70Z" fill="#a868ec"/>
<path d="M331.30 128.44L333.36 130.50L331.30 132.56L329.24 130.50Z" fill="#a868ec"/>
<path d="M344.00 128.44L346.06 130.50L344.00 132.56L341.94 130.50Z" fill="#a868ec"/>
<path d="M346.60 128.44L348.66 130.50L346.60 132.56L344.54 130.50Z" fill="#a868ec"/>
<path d="M322.00 205.54L324.06 207.60L322.00 209.66L319.94 207.60Z" fill="#a868ec"/>
<path d="M339.00 209.54L341.06 211.60L339.00 213.66L336.94 211.60Z" fill="#a868ec"/>
<path d="M365.70 165.74L367.76 167.80L365.70 169.86L363.64 167.80Z" fill="#a868ec"/>
<line x1="314.39" y1="171.36" x2="446.49" y2="151.09" stroke="#242424" stroke-width="1.0"/>
<line x1="314.39" y1="180.09" x2="375.41" y2="152.00" stroke="#ec2a2c" stroke-width="1.0"/>
<line x1="314.39" y1="176.60" x2="396.14" y2="149.00" stroke="#2356cc" stroke-width="1.0"/>
<line x1="314.39" y1="176.49" x2="369.48" y2="152.82" stroke="#22955c" stroke-width="1.0"/>
<line x1="314.39" y1="179.95" x2="369.48" y2="147.82" stroke="#a868ec" stroke-width="1.0"/>
<path d="M40.50 317.60V517.20H203.80" fill="none" stroke="#a6a6a6" stroke-width="1.3"/>
<line x1="40.50" y1="517.20" x2="40.50" y2="518.60" stroke="#444" stroke-width="0.8"/>
<line x1="55.35" y1="517.20" x2="55.35" y2="519.40" stroke="#444" stroke-width="0.8"/>
<text transform="translate(55.35 527.00) scale(1 1.2)" class="tl" text-anchor="middle">0.0</text>
<line x1="70.19" y1="517.20" x2="70.19" y2="518.60" stroke="#444" stroke-width="0.8"/>
<line x1="85.04" y1="517.20" x2="85.04" y2="519.40" stroke="#444" stroke-width="0.8"/>
<text transform="translate(85.04 527.00) scale(1 1.2)" class="tl" text-anchor="middle">0.5</text>
<line x1="99.88" y1="517.20" x2="99.88" y2="518.60" stroke="#444" stroke-width="0.8"/>
<line x1="114.73" y1="517.20" x2="114.73" y2="519.40" stroke="#444" stroke-width="0.8"/>
<text transform="translate(114.73 527.00) scale(1 1.2)" class="tl" text-anchor="middle">1.0</text>
<line x1="129.57" y1="517.20" x2="129.57" y2="518.60" stroke="#444" stroke-width="0.8"/>
<line x1="144.42" y1="517.20" x2="144.42" y2="519.40" stroke="#444" stroke-width="0.8"/>
<text transform="translate(144.42 527.00) scale(1 1.2)" class="tl" text-anchor="middle">1.5</text>
<line x1="159.26" y1="517.20" x2="159.26" y2="518.60" stroke="#444" stroke-width="0.8"/>
<line x1="174.11" y1="517.20" x2="174.11" y2="519.40" stroke="#444" stroke-width="0.8"/>
<text transform="translate(174.11 527.00) scale(1 1.2)" class="tl" text-anchor="middle">2.0</text>
<line x1="188.95" y1="517.20" x2="188.95" y2="518.60" stroke="#444" stroke-width="0.8"/>
<line x1="203.80" y1="517.20" x2="203.80" y2="519.40" stroke="#444" stroke-width="0.8"/>
<text transform="translate(203.80 527.00) scale(1 1.2)" class="tl" text-anchor="middle">2.5</text>
<line x1="38.30" y1="501.85" x2="40.50" y2="501.85" stroke="#444" stroke-width="0.8"/>
<text transform="translate(36.90 504.40) scale(1 1.2)" class="tl" text-anchor="end">1.8</text>
<line x1="38.30" y1="471.14" x2="40.50" y2="471.14" stroke="#444" stroke-width="0.8"/>
<text transform="translate(36.90 473.69) scale(1 1.2)" class="tl" text-anchor="end">2.0</text>
<line x1="38.30" y1="440.43" x2="40.50" y2="440.43" stroke="#444" stroke-width="0.8"/>
<text transform="translate(36.90 442.98) scale(1 1.2)" class="tl" text-anchor="end">2.2</text>
<line x1="38.30" y1="409.72" x2="40.50" y2="409.72" stroke="#444" stroke-width="0.8"/>
<text transform="translate(36.90 412.27) scale(1 1.2)" class="tl" text-anchor="end">2.4</text>
<line x1="38.30" y1="379.02" x2="40.50" y2="379.02" stroke="#444" stroke-width="0.8"/>
<text transform="translate(36.90 381.57) scale(1 1.2)" class="tl" text-anchor="end">2.6</text>
<line x1="38.30" y1="348.31" x2="40.50" y2="348.31" stroke="#444" stroke-width="0.8"/>
<text transform="translate(36.90 350.86) scale(1 1.2)" class="tl" text-anchor="end">2.8</text>
<line x1="38.30" y1="317.60" x2="40.50" y2="317.60" stroke="#444" stroke-width="0.8"/>
<text transform="translate(36.90 320.15) scale(1 1.2)" class="tl" text-anchor="end">3.0</text>
<line x1="39.10" y1="486.49" x2="40.50" y2="486.49" stroke="#444" stroke-width="0.8"/>
<line x1="39.10" y1="455.78" x2="40.50" y2="455.78" stroke="#444" stroke-width="0.8"/>
<line x1="39.10" y1="425.08" x2="40.50" y2="425.08" stroke="#444" stroke-width="0.8"/>
<line x1="39.10" y1="394.37" x2="40.50" y2="394.37" stroke="#444" stroke-width="0.8"/>
<line x1="39.10" y1="363.66" x2="40.50" y2="363.66" stroke="#444" stroke-width="0.8"/>
<line x1="39.10" y1="332.95" x2="40.50" y2="332.95" stroke="#444" stroke-width="0.8"/>
<rect x="68.98" y="364.40" width="3.13" height="3.13" fill="#242424"/>
<rect x="74.59" y="376.24" width="3.13" height="3.13" fill="#242424"/>
<rect x="91.90" y="365.04" width="3.13" height="3.13" fill="#242424"/>
<rect x="96.37" y="363.32" width="3.13" height="3.13" fill="#242424"/>
<rect x="77.01" y="370.99" width="3.13" height="3.13" fill="#242424"/>
<rect x="67.54" y="368.07" width="3.13" height="3.13" fill="#242424"/>
<rect x="67.15" y="367.17" width="3.13" height="3.13" fill="#242424"/>
<rect x="88.25" y="365.76" width="3.13" height="3.13" fill="#242424"/>
<rect x="73.78" y="366.20" width="3.13" height="3.13" fill="#242424"/>
<rect x="61.70" y="364.74" width="3.13" height="3.13" fill="#242424"/>
<rect x="85.07" y="395.28" width="3.13" height="3.13" fill="#242424"/>
<rect x="96.86" y="397.39" width="3.13" height="3.13" fill="#242424"/>
<rect x="82.16" y="382.55" width="3.13" height="3.13" fill="#242424"/>
<rect x="57.04" y="393.08" width="3.13" height="3.13" fill="#242424"/>
<rect x="73.06" y="385.64" width="3.13" height="3.13" fill="#242424"/>
<rect x="73.06" y="387.92" width="3.13" height="3.13" fill="#242424"/>
<rect x="80.79" y="397.33" width="3.13" height="3.13" fill="#242424"/>
<rect x="76.56" y="382.64" width="3.13" height="3.13" fill="#242424"/>
<rect x="72.24" y="395.31" width="3.13" height="3.13" fill="#242424"/>
<rect x="67.14" y="392.37" width="3.13" height="3.13" fill="#242424"/>
<rect x="71.13" y="393.22" width="3.13" height="3.13" fill="#242424"/>
<rect x="69.61" y="394.05" width="3.13" height="3.13" fill="#242424"/>
<rect x="81.94" y="383.54" width="3.13" height="3.13" fill="#242424"/>
<rect x="80.55" y="390.39" width="3.13" height="3.13" fill="#242424"/>
<rect x="79.86" y="379.10" width="3.13" height="3.13" fill="#242424"/>
<rect x="83.05" y="391.37" width="3.13" height="3.13" fill="#242424"/>
<rect x="76.62" y="395.99" width="3.13" height="3.13" fill="#242424"/>
<rect x="67.32" y="382.20" width="3.13" height="3.13" fill="#242424"/>
<rect x="68.17" y="379.82" width="3.13" height="3.13" fill="#242424"/>
<rect x="81.27" y="389.47" width="3.13" height="3.13" fill="#242424"/>
<rect x="78.84" y="397.94" width="3.13" height="3.13" fill="#242424"/>
<rect x="80.31" y="392.28" width="3.13" height="3.13" fill="#242424"/>
<rect x="78.89" y="406.25" width="3.13" height="3.13" fill="#242424"/>
<rect x="68.56" y="407.09" width="3.13" height="3.13" fill="#242424"/>
<rect x="61.10" y="409.76" width="3.13" height="3.13" fill="#242424"/>
<rect x="76.65" y="418.94" width="3.13" height="3.13" fill="#242424"/>
<rect x="82.89" y="447.96" width="3.13" height="3.13" fill="#242424"/>
<rect x="76.38" y="396.70" width="3.13" height="3.13" fill="#242424"/>
<rect x="80.92" y="396.08" width="3.13" height="3.13" fill="#242424"/>
<rect x="66.94" y="400.86" width="3.13" height="3.13" fill="#242424"/>
<rect x="78.97" y="429.07" width="3.13" height="3.13" fill="#242424"/>
<rect x="69.10" y="399.34" width="3.13" height="3.13" fill="#242424"/>
<rect x="69.68" y="408.16" width="3.13" height="3.13" fill="#242424"/>
<rect x="79.58" y="412.40" width="3.13" height="3.13" fill="#242424"/>
<rect x="78.32" y="415.87" width="3.13" height="3.13" fill="#242424"/>
<rect x="87.09" y="406.82" width="3.13" height="3.13" fill="#242424"/>
<rect x="75.00" y="395.24" width="3.13" height="3.13" fill="#242424"/>
<rect x="86.77" y="414.27" width="3.13" height="3.13" fill="#242424"/>
<rect x="66.88" y="428.81" width="3.13" height="3.13" fill="#242424"/>
<rect x="90.54" y="430.81" width="3.13" height="3.13" fill="#242424"/>
<rect x="87.49" y="394.03" width="3.13" height="3.13" fill="#242424"/>
<rect x="67.96" y="438.71" width="3.13" height="3.13" fill="#242424"/>
<rect x="91.79" y="416.94" width="3.13" height="3.13" fill="#242424"/>
<rect x="86.77" y="406.58" width="3.13" height="3.13" fill="#242424"/>
<rect x="89.83" y="444.33" width="3.13" height="3.13" fill="#242424"/>
<rect x="85.87" y="393.73" width="3.13" height="3.13" fill="#242424"/>
<rect x="79.69" y="419.53" width="3.13" height="3.13" fill="#242424"/>
<rect x="69.70" y="394.48" width="3.13" height="3.13" fill="#242424"/>
<rect x="72.43" y="405.62" width="3.13" height="3.13" fill="#242424"/>
<rect x="77.22" y="396.78" width="3.13" height="3.13" fill="#242424"/>
<rect x="81.48" y="413.08" width="3.13" height="3.13" fill="#242424"/>
<rect x="83.85" y="444.48" width="3.13" height="3.13" fill="#242424"/>
<rect x="75.46" y="433.49" width="3.13" height="3.13" fill="#242424"/>
<rect x="74.44" y="406.10" width="3.13" height="3.13" fill="#242424"/>
<rect x="65.87" y="416.38" width="3.13" height="3.13" fill="#242424"/>
<rect x="68.27" y="393.50" width="3.13" height="3.13" fill="#242424"/>
<rect x="70.87" y="425.20" width="3.13" height="3.13" fill="#242424"/>
<rect x="97.59" y="422.38" width="3.13" height="3.13" fill="#242424"/>
<rect x="83.13" y="412.07" width="3.13" height="3.13" fill="#242424"/>
<rect x="64.02" y="401.87" width="3.13" height="3.13" fill="#242424"/>
<rect x="81.10" y="437.05" width="3.13" height="3.13" fill="#242424"/>
<rect x="81.23" y="429.97" width="3.13" height="3.13" fill="#242424"/>
<rect x="94.02" y="428.97" width="3.13" height="3.13" fill="#242424"/>
<rect x="66.45" y="395.12" width="3.13" height="3.13" fill="#242424"/>
<rect x="72.91" y="413.78" width="3.13" height="3.13" fill="#242424"/>
<rect x="68.57" y="408.93" width="3.13" height="3.13" fill="#242424"/>
<rect x="81.53" y="423.22" width="3.13" height="3.13" fill="#242424"/>
<rect x="83.06" y="402.02" width="3.13" height="3.13" fill="#242424"/>
<rect x="83.82" y="447.96" width="3.13" height="3.13" fill="#242424"/>
<rect x="93.40" y="440.42" width="3.13" height="3.13" fill="#242424"/>
<rect x="78.69" y="406.62" width="3.13" height="3.13" fill="#242424"/>
<rect x="57.80" y="414.60" width="3.13" height="3.13" fill="#242424"/>
<rect x="82.04" y="425.93" width="3.13" height="3.13" fill="#242424"/>
<rect x="81.87" y="461.99" width="3.13" height="3.13" fill="#242424"/>
<rect x="65.93" y="448.30" width="3.13" height="3.13" fill="#242424"/>
<rect x="78.84" y="461.14" width="3.13" height="3.13" fill="#242424"/>
<rect x="86.05" y="445.72" width="3.13" height="3.13" fill="#242424"/>
<rect x="76.26" y="456.50" width="3.13" height="3.13" fill="#242424"/>
<rect x="102.91" y="443.48" width="3.13" height="3.13" fill="#242424"/>
<rect x="70.21" y="451.55" width="3.13" height="3.13" fill="#242424"/>
<rect x="73.02" y="458.27" width="3.13" height="3.13" fill="#242424"/>
<rect x="76.64" y="454.02" width="3.13" height="3.13" fill="#242424"/>
<rect x="74.31" y="450.91" width="3.13" height="3.13" fill="#242424"/>
<rect x="64.43" y="461.60" width="3.13" height="3.13" fill="#242424"/>
<rect x="80.67" y="454.05" width="3.13" height="3.13" fill="#242424"/>
<rect x="83.84" y="444.51" width="3.13" height="3.13" fill="#242424"/>
<rect x="83.29" y="446.87" width="3.13" height="3.13" fill="#242424"/>
<rect x="76.98" y="453.53" width="3.13" height="3.13" fill="#242424"/>
<rect x="91.23" y="331.63" width="3.13" height="3.13" fill="#242424"/>
<rect x="80.33" y="355.33" width="3.13" height="3.13" fill="#242424"/>
<rect x="59.43" y="367.13" width="3.13" height="3.13" fill="#242424"/>
<rect x="109.13" y="367.13" width="3.13" height="3.13" fill="#242424"/>
<rect x="119.43" y="370.43" width="3.13" height="3.13" fill="#242424"/>
<rect x="109.53" y="367.53" width="3.13" height="3.13" fill="#242424"/>
<rect x="131.83" y="383.13" width="3.13" height="3.13" fill="#242424"/>
<rect x="112.23" y="385.13" width="3.13" height="3.13" fill="#242424"/>
<rect x="143.93" y="416.13" width="3.13" height="3.13" fill="#242424"/>
<rect x="134.43" y="428.63" width="3.13" height="3.13" fill="#242424"/>
<rect x="164.83" y="427.83" width="3.13" height="3.13" fill="#242424"/>
<rect x="157.13" y="442.43" width="3.13" height="3.13" fill="#242424"/>
<rect x="187.53" y="453.93" width="3.13" height="3.13" fill="#242424"/>
<rect x="106.53" y="447.43" width="3.13" height="3.13" fill="#242424"/>
<rect x="99.43" y="401.93" width="3.13" height="3.13" fill="#242424"/>
<rect x="76.83" y="469.73" width="3.13" height="3.13" fill="#242424"/>
<rect x="88.43" y="469.73" width="3.13" height="3.13" fill="#242424"/>
<rect x="77.83" y="473.33" width="3.13" height="3.13" fill="#242424"/>
<circle cx="94.58" cy="364.67" r="1.65" fill="#ec2a2c"/>
<circle cx="64.09" cy="377.54" r="1.65" fill="#ec2a2c"/>
<circle cx="80.65" cy="372.00" r="1.65" fill="#ec2a2c"/>
<circle cx="104.27" cy="377.77" r="1.65" fill="#ec2a2c"/>
<circle cx="87.39" cy="364.38" r="1.65" fill="#ec2a2c"/>
<circle cx="90.57" cy="375.89" r="1.65" fill="#ec2a2c"/>
<circle cx="68.29" cy="362.23" r="1.65" fill="#ec2a2c"/>
<circle cx="64.64" cy="370.20" r="1.65" fill="#ec2a2c"/>
<circle cx="66.71" cy="370.07" r="1.65" fill="#ec2a2c"/>
<circle cx="80.59" cy="367.32" r="1.65" fill="#ec2a2c"/>
<circle cx="80.04" cy="366.54" r="1.65" fill="#ec2a2c"/>
<circle cx="76.68" cy="364.90" r="1.65" fill="#ec2a2c"/>
<circle cx="79.78" cy="379.12" r="1.65" fill="#ec2a2c"/>
<circle cx="71.65" cy="364.65" r="1.65" fill="#ec2a2c"/>
<circle cx="67.30" cy="364.14" r="1.65" fill="#ec2a2c"/>
<circle cx="83.63" cy="377.38" r="1.65" fill="#ec2a2c"/>
<circle cx="73.21" cy="365.63" r="1.65" fill="#ec2a2c"/>
<circle cx="87.05" cy="391.14" r="1.65" fill="#ec2a2c"/>
<circle cx="85.79" cy="389.68" r="1.65" fill="#ec2a2c"/>
<circle cx="69.46" cy="388.82" r="1.65" fill="#ec2a2c"/>
<circle cx="91.32" cy="399.38" r="1.65" fill="#ec2a2c"/>
<circle cx="95.04" cy="390.62" r="1.65" fill="#ec2a2c"/>
<circle cx="79.02" cy="384.64" r="1.65" fill="#ec2a2c"/>
<circle cx="91.15" cy="385.45" r="1.65" fill="#ec2a2c"/>
<circle cx="74.77" cy="381.74" r="1.65" fill="#ec2a2c"/>
<circle cx="63.16" cy="391.26" r="1.65" fill="#ec2a2c"/>
<circle cx="77.20" cy="397.05" r="1.65" fill="#ec2a2c"/>
<circle cx="78.43" cy="393.11" r="1.65" fill="#ec2a2c"/>
<circle cx="86.96" cy="395.46" r="1.65" fill="#ec2a2c"/>
<circle cx="64.39" cy="381.27" r="1.65" fill="#ec2a2c"/>
<circle cx="97.31" cy="386.72" r="1.65" fill="#ec2a2c"/>
<circle cx="82.03" cy="386.11" r="1.65" fill="#ec2a2c"/>
<circle cx="66.20" cy="385.29" r="1.65" fill="#ec2a2c"/>
<circle cx="76.96" cy="383.88" r="1.65" fill="#ec2a2c"/>
<circle cx="71.66" cy="391.30" r="1.65" fill="#ec2a2c"/>
<circle cx="86.74" cy="380.12" r="1.65" fill="#ec2a2c"/>
<circle cx="84.48" cy="394.73" r="1.65" fill="#ec2a2c"/>
<circle cx="77.29" cy="390.62" r="1.65" fill="#ec2a2c"/>
<circle cx="86.08" cy="401.38" r="1.65" fill="#ec2a2c"/>
<circle cx="74.94" cy="397.78" r="1.65" fill="#ec2a2c"/>
<circle cx="72.32" cy="415.97" r="1.65" fill="#ec2a2c"/>
<circle cx="88.68" cy="430.72" r="1.65" fill="#ec2a2c"/>
<circle cx="85.97" cy="414.62" r="1.65" fill="#ec2a2c"/>
<circle cx="73.23" cy="397.02" r="1.65" fill="#ec2a2c"/>
<circle cx="84.29" cy="405.94" r="1.65" fill="#ec2a2c"/>
<circle cx="65.67" cy="440.74" r="1.65" fill="#ec2a2c"/>
<circle cx="80.02" cy="395.24" r="1.65" fill="#ec2a2c"/>
<circle cx="83.39" cy="448.60" r="1.65" fill="#ec2a2c"/>
<circle cx="67.10" cy="441.00" r="1.65" fill="#ec2a2c"/>
<circle cx="82.55" cy="437.95" r="1.65" fill="#ec2a2c"/>
<circle cx="75.55" cy="398.25" r="1.65" fill="#ec2a2c"/>
<circle cx="81.58" cy="409.39" r="1.65" fill="#ec2a2c"/>
<circle cx="82.77" cy="443.21" r="1.65" fill="#ec2a2c"/>
<circle cx="81.66" cy="404.21" r="1.65" fill="#ec2a2c"/>
<circle cx="75.80" cy="413.40" r="1.65" fill="#ec2a2c"/>
<circle cx="70.60" cy="418.08" r="1.65" fill="#ec2a2c"/>
<circle cx="75.85" cy="437.13" r="1.65" fill="#ec2a2c"/>
<circle cx="81.92" cy="417.41" r="1.65" fill="#ec2a2c"/>
<circle cx="71.96" cy="433.76" r="1.65" fill="#ec2a2c"/>
<circle cx="78.69" cy="413.27" r="1.65" fill="#ec2a2c"/>
<circle cx="83.49" cy="437.41" r="1.65" fill="#ec2a2c"/>
<circle cx="70.90" cy="449.77" r="1.65" fill="#ec2a2c"/>
<circle cx="81.87" cy="409.03" r="1.65" fill="#ec2a2c"/>
<circle cx="75.79" cy="411.25" r="1.65" fill="#ec2a2c"/>
<circle cx="78.81" cy="413.48" r="1.65" fill="#ec2a2c"/>
<circle cx="75.33" cy="406.43" r="1.65" fill="#ec2a2c"/>
<circle cx="73.30" cy="443.66" r="1.65" fill="#ec2a2c"/>
<circle cx="85.85" cy="412.57" r="1.65" fill="#ec2a2c"/>
<circle cx="82.74" cy="396.35" r="1.65" fill="#ec2a2c"/>
<circle cx="90.47" cy="427.01" r="1.65" fill="#ec2a2c"/>
<circle cx="80.73" cy="436.18" r="1.65" fill="#ec2a2c"/>
<circle cx="77.38" cy="417.26" r="1.65" fill="#ec2a2c"/>
<circle cx="68.07" cy="443.06" r="1.65" fill="#ec2a2c"/>
<circle cx="81.79" cy="445.70" r="1.65" fill="#ec2a2c"/>
<circle cx="65.75" cy="424.63" r="1.65" fill="#ec2a2c"/>
<circle cx="78.18" cy="448.40" r="1.65" fill="#ec2a2c"/>
<circle cx="69.42" cy="417.15" r="1.65" fill="#ec2a2c"/>
<circle cx="88.17" cy="402.65" r="1.65" fill="#ec2a2c"/>
<circle cx="76.01" cy="402.44" r="1.65" fill="#ec2a2c"/>
<circle cx="68.35" cy="402.95" r="1.65" fill="#ec2a2c"/>
<circle cx="92.29" cy="433.41" r="1.65" fill="#ec2a2c"/>
<circle cx="72.69" cy="427.67" r="1.65" fill="#ec2a2c"/>
<circle cx="61.17" cy="395.78" r="1.65" fill="#ec2a2c"/>
<circle cx="72.11" cy="447.09" r="1.65" fill="#ec2a2c"/>
<circle cx="74.25" cy="404.43" r="1.65" fill="#ec2a2c"/>
<circle cx="82.99" cy="435.25" r="1.65" fill="#ec2a2c"/>
<circle cx="81.83" cy="420.03" r="1.65" fill="#ec2a2c"/>
<circle cx="70.91" cy="447.81" r="1.65" fill="#ec2a2c"/>
<circle cx="72.29" cy="417.57" r="1.65" fill="#ec2a2c"/>
<circle cx="62.60" cy="417.40" r="1.65" fill="#ec2a2c"/>
<circle cx="74.10" cy="442.74" r="1.65" fill="#ec2a2c"/>
<circle cx="77.06" cy="400.81" r="1.65" fill="#ec2a2c"/>
<circle cx="72.83" cy="408.19" r="1.65" fill="#ec2a2c"/>
<circle cx="69.27" cy="445.42" r="1.65" fill="#ec2a2c"/>
<circle cx="75.21" cy="445.61" r="1.65" fill="#ec2a2c"/>
<circle cx="86.08" cy="448.78" r="1.65" fill="#ec2a2c"/>
<circle cx="82.99" cy="431.22" r="1.65" fill="#ec2a2c"/>
<circle cx="88.64" cy="438.95" r="1.65" fill="#ec2a2c"/>
<circle cx="75.27" cy="436.54" r="1.65" fill="#ec2a2c"/>
<circle cx="80.37" cy="445.56" r="1.65" fill="#ec2a2c"/>
<circle cx="83.19" cy="395.14" r="1.65" fill="#ec2a2c"/>
<circle cx="82.09" cy="418.80" r="1.65" fill="#ec2a2c"/>
<circle cx="57.21" cy="460.15" r="1.65" fill="#ec2a2c"/>
<circle cx="81.85" cy="449.13" r="1.65" fill="#ec2a2c"/>
<circle cx="80.97" cy="460.95" r="1.65" fill="#ec2a2c"/>
<circle cx="85.76" cy="452.02" r="1.65" fill="#ec2a2c"/>
<circle cx="92.14" cy="446.91" r="1.65" fill="#ec2a2c"/>
<circle cx="93.69" cy="454.22" r="1.65" fill="#ec2a2c"/>
<circle cx="84.19" cy="458.87" r="1.65" fill="#ec2a2c"/>
<circle cx="77.65" cy="452.07" r="1.65" fill="#ec2a2c"/>
<circle cx="65.93" cy="456.24" r="1.65" fill="#ec2a2c"/>
<circle cx="97.51" cy="458.73" r="1.65" fill="#ec2a2c"/>
<circle cx="76.59" cy="449.72" r="1.65" fill="#ec2a2c"/>
<circle cx="82.96" cy="460.03" r="1.65" fill="#ec2a2c"/>
<circle cx="91.00" cy="454.32" r="1.65" fill="#ec2a2c"/>
<circle cx="67.86" cy="455.16" r="1.65" fill="#ec2a2c"/>
<circle cx="84.31" cy="458.48" r="1.65" fill="#ec2a2c"/>
<circle cx="80.00" cy="333.20" r="1.65" fill="#ec2a2c"/>
<circle cx="56.40" cy="363.30" r="1.65" fill="#ec2a2c"/>
<circle cx="75.50" cy="363.30" r="1.65" fill="#ec2a2c"/>
<circle cx="58.20" cy="368.70" r="1.65" fill="#ec2a2c"/>
<circle cx="92.30" cy="368.70" r="1.65" fill="#ec2a2c"/>
<circle cx="114.70" cy="372.00" r="1.65" fill="#ec2a2c"/>
<circle cx="106.10" cy="393.40" r="1.65" fill="#ec2a2c"/>
<circle cx="109.70" cy="417.70" r="1.65" fill="#ec2a2c"/>
<circle cx="116.20" cy="454.10" r="1.65" fill="#ec2a2c"/>
<circle cx="101.00" cy="385.30" r="1.65" fill="#ec2a2c"/>
<circle cx="67.30" cy="447.00" r="1.65" fill="#ec2a2c"/>
<circle cx="71.30" cy="467.80" r="1.65" fill="#ec2a2c"/>
<circle cx="75.80" cy="471.30" r="1.65" fill="#ec2a2c"/>
<circle cx="64.80" cy="474.90" r="1.65" fill="#ec2a2c"/>
<circle cx="100.70" cy="499.20" r="1.65" fill="#ec2a2c"/>
<path d="M74.49 374.77L76.57 378.09L72.40 378.09Z" fill="#2356cc"/>
<path d="M70.85 375.53L72.94 378.85L68.76 378.85Z" fill="#2356cc"/>
<path d="M96.01 362.64L98.09 365.96L93.92 365.96Z" fill="#2356cc"/>
<path d="M73.96 376.33L76.05 379.65L71.88 379.65Z" fill="#2356cc"/>
<path d="M72.06 372.08L74.15 375.40L69.98 375.40Z" fill="#2356cc"/>
<path d="M81.85 370.92L83.94 374.24L79.76 374.24Z" fill="#2356cc"/>
<path d="M73.99 367.39L76.08 370.71L71.90 370.71Z" fill="#2356cc"/>
<path d="M81.23 364.77L83.32 368.09L79.14 368.09Z" fill="#2356cc"/>
<path d="M93.12 361.23L95.21 364.55L91.04 364.55Z" fill="#2356cc"/>
<path d="M66.07 382.12L68.16 385.44L63.99 385.44Z" fill="#2356cc"/>
<path d="M83.68 395.45L85.77 398.77L81.60 398.77Z" fill="#2356cc"/>
<path d="M96.28 389.88L98.37 393.20L94.19 393.20Z" fill="#2356cc"/>
<path d="M89.68 385.36L91.77 388.68L87.59 388.68Z" fill="#2356cc"/>
<path d="M88.58 378.42L90.67 381.74L86.49 381.74Z" fill="#2356cc"/>
<path d="M87.53 382.94L89.61 386.26L85.44 386.26Z" fill="#2356cc"/>
<path d="M63.73 385.63L65.82 388.95L61.64 388.95Z" fill="#2356cc"/>
<path d="M63.05 385.54L65.14 388.86L60.97 388.86Z" fill="#2356cc"/>
<path d="M67.56 386.24L69.65 389.56L65.47 389.56Z" fill="#2356cc"/>
<path d="M84.36 391.58L86.45 394.90L82.27 394.90Z" fill="#2356cc"/>
<path d="M77.08 381.78L79.17 385.10L75.00 385.10Z" fill="#2356cc"/>
<path d="M75.12 387.24L77.20 390.56L73.03 390.56Z" fill="#2356cc"/>
<path d="M60.80 391.58L62.89 394.90L58.71 394.90Z" fill="#2356cc"/>
<path d="M91.36 394.40L93.45 397.72L89.28 397.72Z" fill="#2356cc"/>
<path d="M64.33 389.63L66.42 392.95L62.24 392.95Z" fill="#2356cc"/>
<path d="M81.15 385.43L83.24 388.75L79.06 388.75Z" fill="#2356cc"/>
<path d="M93.78 381.73L95.86 385.05L91.69 385.05Z" fill="#2356cc"/>
<path d="M88.35 380.66L90.43 383.98L86.26 383.98Z" fill="#2356cc"/>
<path d="M79.93 394.75L82.01 398.07L77.84 398.07Z" fill="#2356cc"/>
<path d="M71.64 385.19L73.72 388.51L69.55 388.51Z" fill="#2356cc"/>
<path d="M87.76 379.00L89.85 382.33L85.68 382.33Z" fill="#2356cc"/>
<path d="M90.65 383.48L92.73 386.80L88.56 386.80Z" fill="#2356cc"/>
<path d="M67.83 384.31L69.91 387.63L65.74 387.63Z" fill="#2356cc"/>
<path d="M81.40 396.66L83.49 399.99L79.31 399.99Z" fill="#2356cc"/>
<path d="M63.04 396.75L65.12 400.07L60.95 400.07Z" fill="#2356cc"/>
<path d="M76.46 388.98L78.55 392.30L74.38 392.30Z" fill="#2356cc"/>
<path d="M73.27 395.03L75.36 398.35L71.18 398.35Z" fill="#2356cc"/>
<path d="M71.02 378.87L73.11 382.19L68.94 382.19Z" fill="#2356cc"/>
<path d="M78.84 395.82L80.92 399.14L76.75 399.14Z" fill="#2356cc"/>
<path d="M57.18 383.78L59.27 387.10L55.09 387.10Z" fill="#2356cc"/>
<path d="M81.75 385.17L83.83 388.49L79.66 388.49Z" fill="#2356cc"/>
<path d="M67.59 396.70L69.67 400.02L65.50 400.02Z" fill="#2356cc"/>
<path d="M74.34 389.85L76.43 393.17L72.25 393.17Z" fill="#2356cc"/>
<path d="M72.98 387.92L75.07 391.24L70.89 391.24Z" fill="#2356cc"/>
<path d="M89.97 379.44L92.05 382.76L87.88 382.76Z" fill="#2356cc"/>
<path d="M74.26 397.49L76.35 400.81L72.17 400.81Z" fill="#2356cc"/>
<path d="M80.12 395.11L82.21 398.43L78.03 398.43Z" fill="#2356cc"/>
<path d="M58.05 392.98L60.13 396.30L55.96 396.30Z" fill="#2356cc"/>
<path d="M84.77 387.74L86.85 391.06L82.68 391.06Z" fill="#2356cc"/>
<path d="M77.56 387.78L79.64 391.10L75.47 391.10Z" fill="#2356cc"/>
<path d="M70.54 398.18L72.62 401.50L68.45 401.50Z" fill="#2356cc"/>
<path d="M73.67 439.75L75.76 443.07L71.58 443.07Z" fill="#2356cc"/>
<path d="M59.85 400.03L61.94 403.35L57.77 403.35Z" fill="#2356cc"/>
<path d="M80.67 432.11L82.76 435.43L78.59 435.43Z" fill="#2356cc"/>
<path d="M67.95 400.81L70.03 404.13L65.86 404.13Z" fill="#2356cc"/>
<path d="M80.07 424.28L82.16 427.60L77.98 427.60Z" fill="#2356cc"/>
<path d="M71.86 408.72L73.94 412.04L69.77 412.04Z" fill="#2356cc"/>
<path d="M61.09 397.26L63.18 400.58L59.01 400.58Z" fill="#2356cc"/>
<path d="M73.83 426.44L75.92 429.76L71.75 429.76Z" fill="#2356cc"/>
<path d="M73.76 412.32L75.85 415.65L71.67 415.65Z" fill="#2356cc"/>
<path d="M87.22 431.95L89.31 435.27L85.13 435.27Z" fill="#2356cc"/>
<path d="M77.66 406.03L79.75 409.35L75.57 409.35Z" fill="#2356cc"/>
<path d="M93.73 411.59L95.82 414.91L91.64 414.91Z" fill="#2356cc"/>
<path d="M79.55 443.43L81.64 446.75L77.47 446.75Z" fill="#2356cc"/>
<path d="M66.20 428.99L68.28 432.31L64.11 432.31Z" fill="#2356cc"/>
<path d="M67.08 443.06L69.17 446.38L64.99 446.38Z" fill="#2356cc"/>
<path d="M85.71 444.54L87.80 447.87L83.63 447.87Z" fill="#2356cc"/>
<path d="M86.39 444.17L88.48 447.49L84.30 447.49Z" fill="#2356cc"/>
<path d="M98.34 409.58L100.43 412.91L96.25 412.91Z" fill="#2356cc"/>
<path d="M73.16 432.83L75.25 436.15L71.08 436.15Z" fill="#2356cc"/>
<path d="M63.94 401.85L66.02 405.17L61.85 405.17Z" fill="#2356cc"/>
<path d="M87.26 429.50L89.35 432.82L85.18 432.82Z" fill="#2356cc"/>
<path d="M96.80 429.97L98.88 433.29L94.71 433.29Z" fill="#2356cc"/>
<path d="M90.57 402.40L92.65 405.73L88.48 405.73Z" fill="#2356cc"/>
<path d="M70.32 435.93L72.41 439.25L68.24 439.25Z" fill="#2356cc"/>
<path d="M77.82 401.85L79.90 405.17L75.73 405.17Z" fill="#2356cc"/>
<path d="M70.20 425.20L72.29 428.52L68.12 428.52Z" fill="#2356cc"/>
<path d="M73.14 432.13L75.23 435.45L71.05 435.45Z" fill="#2356cc"/>
<path d="M104.28 439.07L106.37 442.39L102.19 442.39Z" fill="#2356cc"/>
<path d="M84.86 429.57L86.95 432.89L82.78 432.89Z" fill="#2356cc"/>
<path d="M69.99 428.60L72.07 431.92L67.90 431.92Z" fill="#2356cc"/>
<path d="M72.49 397.79L74.57 401.11L70.40 401.11Z" fill="#2356cc"/>
<path d="M71.77 446.94L73.86 450.26L69.68 450.26Z" fill="#2356cc"/>
<path d="M70.31 431.12L72.40 434.44L68.22 434.44Z" fill="#2356cc"/>
<path d="M86.06 436.59L88.14 439.91L83.97 439.91Z" fill="#2356cc"/>
<path d="M81.98 421.32L84.06 424.64L79.89 424.64Z" fill="#2356cc"/>
<path d="M63.54 412.57L65.63 415.89L61.45 415.89Z" fill="#2356cc"/>
<path d="M81.58 402.38L83.67 405.70L79.50 405.70Z" fill="#2356cc"/>
<path d="M67.99 436.31L70.08 439.63L65.91 439.63Z" fill="#2356cc"/>
<path d="M73.33 395.36L75.41 398.68L71.24 398.68Z" fill="#2356cc"/>
<path d="M84.06 408.98L86.14 412.31L81.97 412.31Z" fill="#2356cc"/>
<path d="M80.92 436.82L83.01 440.15L78.83 440.15Z" fill="#2356cc"/>
<path d="M84.14 396.95L86.22 400.27L82.05 400.27Z" fill="#2356cc"/>
<path d="M84.26 439.72L86.35 443.04L82.17 443.04Z" fill="#2356cc"/>
<path d="M79.29 446.05L81.37 449.37L77.20 449.37Z" fill="#2356cc"/>
<path d="M76.31 415.17L78.40 418.49L74.23 418.49Z" fill="#2356cc"/>
<path d="M83.11 413.31L85.20 416.63L81.02 416.63Z" fill="#2356cc"/>
<path d="M60.97 406.96L63.06 410.28L58.88 410.28Z" fill="#2356cc"/>
<path d="M73.42 420.38L75.51 423.70L71.33 423.70Z" fill="#2356cc"/>
<path d="M68.58 406.03L70.66 409.35L66.49 409.35Z" fill="#2356cc"/>
<path d="M79.55 406.49L81.64 409.81L77.47 409.81Z" fill="#2356cc"/>
<path d="M71.56 439.78L73.65 443.10L69.47 443.10Z" fill="#2356cc"/>
<path d="M67.36 434.85L69.45 438.17L65.28 438.17Z" fill="#2356cc"/>
<path d="M76.13 395.54L78.21 398.87L74.04 398.87Z" fill="#2356cc"/>
<path d="M75.72 436.35L77.81 439.67L73.64 439.67Z" fill="#2356cc"/>
<path d="M85.83 403.11L87.92 406.43L83.74 406.43Z" fill="#2356cc"/>
<path d="M92.94 404.20L95.02 407.52L90.85 407.52Z" fill="#2356cc"/>
<path d="M84.78 428.85L86.87 432.17L82.69 432.17Z" fill="#2356cc"/>
<path d="M73.10 435.86L75.19 439.18L71.01 439.18Z" fill="#2356cc"/>
<path d="M68.49 397.45L70.57 400.77L66.40 400.77Z" fill="#2356cc"/>
<path d="M72.64 395.97L74.73 399.29L70.56 399.29Z" fill="#2356cc"/>
<path d="M91.82 403.41L93.91 406.74L89.74 406.74Z" fill="#2356cc"/>
<path d="M86.00 410.01L88.08 413.33L83.91 413.33Z" fill="#2356cc"/>
<path d="M69.77 442.97L71.85 446.29L67.68 446.29Z" fill="#2356cc"/>
<path d="M73.18 438.18L75.27 441.50L71.09 441.50Z" fill="#2356cc"/>
<path d="M92.68 420.74L94.77 424.06L90.60 424.06Z" fill="#2356cc"/>
<path d="M85.74 393.58L87.82 396.90L83.65 396.90Z" fill="#2356cc"/>
<path d="M77.41 415.91L79.50 419.23L75.32 419.23Z" fill="#2356cc"/>
<path d="M82.27 417.02L84.36 420.35L80.18 420.35Z" fill="#2356cc"/>
<path d="M84.99 394.10L87.08 397.42L82.91 397.42Z" fill="#2356cc"/>
<path d="M77.47 439.89L79.56 443.21L75.39 443.21Z" fill="#2356cc"/>
<path d="M81.27 440.21L83.36 443.53L79.18 443.53Z" fill="#2356cc"/>
<path d="M97.84 415.24L99.92 418.56L95.75 418.56Z" fill="#2356cc"/>
<path d="M66.04 396.39L68.13 399.71L63.95 399.71Z" fill="#2356cc"/>
<path d="M59.47 440.72L61.55 444.04L57.38 444.04Z" fill="#2356cc"/>
<path d="M66.08 461.84L68.16 465.16L63.99 465.16Z" fill="#2356cc"/>
<path d="M83.02 444.67L85.11 447.99L80.94 447.99Z" fill="#2356cc"/>
<path d="M70.56 443.24L72.65 446.56L68.48 446.56Z" fill="#2356cc"/>
<path d="M68.45 456.27L70.54 459.59L66.36 459.59Z" fill="#2356cc"/>
<path d="M92.03 459.21L94.12 462.53L89.94 462.53Z" fill="#2356cc"/>
<path d="M58.57 456.39L60.65 459.71L56.48 459.71Z" fill="#2356cc"/>
<path d="M89.32 458.21L91.41 461.53L87.23 461.53Z" fill="#2356cc"/>
<path d="M75.80 448.31L77.89 451.63L73.71 451.63Z" fill="#2356cc"/>
<path d="M82.84 453.09L84.92 456.41L80.75 456.41Z" fill="#2356cc"/>
<path d="M70.94 453.27L73.02 456.59L68.85 456.59Z" fill="#2356cc"/>
<path d="M91.61 445.45L93.70 448.77L89.53 448.77Z" fill="#2356cc"/>
<path d="M80.28 451.49L82.37 454.81L78.20 454.81Z" fill="#2356cc"/>
<path d="M57.62 457.39L59.71 460.71L55.53 460.71Z" fill="#2356cc"/>
<path d="M84.63 463.92L86.72 467.24L82.54 467.24Z" fill="#2356cc"/>
<path d="M86.10 331.30L88.19 334.62L84.01 334.62Z" fill="#2356cc"/>
<path d="M86.10 355.00L88.19 358.32L84.01 358.32Z" fill="#2356cc"/>
<path d="M91.50 356.80L93.59 360.12L89.41 360.12Z" fill="#2356cc"/>
<path d="M97.00 361.40L99.09 364.72L94.91 364.72Z" fill="#2356cc"/>
<path d="M68.20 366.80L70.29 370.12L66.11 370.12Z" fill="#2356cc"/>
<path d="M102.50 366.80L104.59 370.12L100.41 370.12Z" fill="#2356cc"/>
<path d="M109.20 370.10L111.29 373.42L107.11 373.42Z" fill="#2356cc"/>
<path d="M102.40 368.20L104.49 371.52L100.31 371.52Z" fill="#2356cc"/>
<path d="M108.50 380.40L110.59 383.72L106.41 383.72Z" fill="#2356cc"/>
<path d="M115.20 390.50L117.29 393.82L113.11 393.82Z" fill="#2356cc"/>
<path d="M138.50 447.20L140.59 450.52L136.41 450.52Z" fill="#2356cc"/>
<path d="M112.10 433.00L114.19 436.32L110.01 436.32Z" fill="#2356cc"/>
<path d="M63.60 445.10L65.69 448.42L61.51 448.42Z" fill="#2356cc"/>
<path d="M58.20 465.90L60.29 469.22L56.11 469.22Z" fill="#2356cc"/>
<path d="M85.90 469.40L87.99 472.72L83.81 472.72Z" fill="#2356cc"/>
<path d="M68.30 477.10L70.39 480.42L66.21 480.42Z" fill="#2356cc"/>
<path d="M81.40 477.10L83.49 480.42L79.31 480.42Z" fill="#2356cc"/>
<path d="M85.50 477.10L87.59 480.42L83.41 480.42Z" fill="#2356cc"/>
<path d="M88.50 487.20L90.59 490.52L86.41 490.52Z" fill="#2356cc"/>
<path d="M105.10 497.30L107.19 500.62L103.01 500.62Z" fill="#2356cc"/>
<path d="M60.18 374.44L62.27 371.12L58.10 371.12Z" fill="#22955c"/>
<path d="M89.66 372.68L91.75 369.36L87.58 369.36Z" fill="#22955c"/>
<path d="M91.74 377.45L93.82 374.13L89.65 374.13Z" fill="#22955c"/>
<path d="M87.87 372.16L89.96 368.84L85.79 368.84Z" fill="#22955c"/>
<path d="M58.02 375.12L60.11 371.80L55.93 371.80Z" fill="#22955c"/>
<path d="M83.22 380.23L85.31 376.91L81.13 376.91Z" fill="#22955c"/>
<path d="M70.59 381.59L72.68 378.27L68.51 378.27Z" fill="#22955c"/>
<path d="M85.90 367.91L87.98 364.58L83.81 364.58Z" fill="#22955c"/>
<path d="M74.86 373.58L76.95 370.26L72.77 370.26Z" fill="#22955c"/>
<path d="M84.58 376.56L86.67 373.24L82.50 373.24Z" fill="#22955c"/>
<path d="M77.58 381.88L79.67 378.56L75.49 378.56Z" fill="#22955c"/>
<path d="M90.27 374.91L92.36 371.59L88.19 371.59Z" fill="#22955c"/>
<path d="M76.51 368.96L78.59 365.64L74.42 365.64Z" fill="#22955c"/>
<path d="M69.14 369.37L71.23 366.05L67.06 366.05Z" fill="#22955c"/>
<path d="M90.57 376.88L92.65 373.56L88.48 373.56Z" fill="#22955c"/>
<path d="M85.57 386.93L87.66 383.61L83.48 383.61Z" fill="#22955c"/>
<path d="M66.43 390.67L68.52 387.35L64.34 387.35Z" fill="#22955c"/>
<path d="M95.72 390.15L97.81 386.83L93.64 386.83Z" fill="#22955c"/>
<path d="M80.37 395.77L82.46 392.45L78.28 392.45Z" fill="#22955c"/>
<path d="M102.24 399.61L104.33 396.29L100.15 396.29Z" fill="#22955c"/>
<path d="M67.19 398.61L69.28 395.29L65.11 395.29Z" fill="#22955c"/>
<path d="M90.46 391.95L92.55 388.63L88.37 388.63Z" fill="#22955c"/>
<path d="M87.75 386.67L89.83 383.34L85.66 383.34Z" fill="#22955c"/>
<path d="M67.39 398.34L69.48 395.02L65.30 395.02Z" fill="#22955c"/>
<path d="M90.69 392.54L92.78 389.22L88.60 389.22Z" fill="#22955c"/>
<path d="M79.12 383.46L81.21 380.14L77.03 380.14Z" fill="#22955c"/>
<path d="M63.75 386.35L65.84 383.02L61.66 383.02Z" fill="#22955c"/>
<path d="M87.27 385.66L89.35 382.34L85.18 382.34Z" fill="#22955c"/>
<path d="M69.47 393.27L71.56 389.95L67.39 389.95Z" fill="#22955c"/>
<path d="M89.85 399.10L91.94 395.78L87.77 395.78Z" fill="#22955c"/>
<path d="M82.93 386.45L85.02 383.13L80.85 383.13Z" fill="#22955c"/>
<path d="M94.59 385.40L96.68 382.07L92.51 382.07Z" fill="#22955c"/>
<path d="M91.52 400.51L93.60 397.19L89.43 397.19Z" fill="#22955c"/>
<path d="M86.57 399.60L88.66 396.28L84.48 396.28Z" fill="#22955c"/>
<path d="M78.77 390.00L80.86 386.68L76.69 386.68Z" fill="#22955c"/>
<path d="M61.62 396.75L63.70 393.42L59.53 393.42Z" fill="#22955c"/>
<path d="M65.36 400.19L67.45 396.87L63.28 396.87Z" fill="#22955c"/>
<path d="M80.52 388.56L82.61 385.24L78.43 385.24Z" fill="#22955c"/>
<path d="M64.79 399.91L66.88 396.59L62.70 396.59Z" fill="#22955c"/>
<path d="M97.14 401.85L99.23 398.53L95.05 398.53Z" fill="#22955c"/>
<path d="M72.74 437.91L74.83 434.58L70.66 434.58Z" fill="#22955c"/>
<path d="M57.62 443.26L59.71 439.94L55.53 439.94Z" fill="#22955c"/>
<path d="M86.15 428.96L88.24 425.64L84.06 425.64Z" fill="#22955c"/>
<path d="M70.23 412.13L72.32 408.81L68.14 408.81Z" fill="#22955c"/>
<path d="M79.32 419.30L81.41 415.98L77.23 415.98Z" fill="#22955c"/>
<path d="M83.67 430.71L85.76 427.39L81.59 427.39Z" fill="#22955c"/>
<path d="M84.02 425.61L86.10 422.29L81.93 422.29Z" fill="#22955c"/>
<path d="M63.69 451.01L65.78 447.69L61.61 447.69Z" fill="#22955c"/>
<path d="M85.23 414.00L87.32 410.68L83.14 410.68Z" fill="#22955c"/>
<path d="M91.48 409.65L93.57 406.33L89.40 406.33Z" fill="#22955c"/>
<path d="M72.53 430.09L74.61 426.77L70.44 426.77Z" fill="#22955c"/>
<path d="M73.40 436.98L75.49 433.66L71.31 433.66Z" fill="#22955c"/>
<path d="M87.13 417.23L89.22 413.91L85.04 413.91Z" fill="#22955c"/>
<path d="M59.30 447.96L61.39 444.64L57.22 444.64Z" fill="#22955c"/>
<path d="M82.29 427.40L84.38 424.07L80.20 424.07Z" fill="#22955c"/>
<path d="M84.78 411.63L86.87 408.31L82.69 408.31Z" fill="#22955c"/>
<path d="M86.16 412.49L88.25 409.17L84.07 409.17Z" fill="#22955c"/>
<path d="M70.16 441.15L72.25 437.83L68.08 437.83Z" fill="#22955c"/>
<path d="M84.15 450.10L86.24 446.78L82.07 446.78Z" fill="#22955c"/>
<path d="M71.05 448.96L73.14 445.64L68.97 445.64Z" fill="#22955c"/>
<path d="M84.90 423.12L86.99 419.80L82.82 419.80Z" fill="#22955c"/>
<path d="M65.34 451.52L67.42 448.20L63.25 448.20Z" fill="#22955c"/>
<path d="M88.96 437.46L91.05 434.14L86.87 434.14Z" fill="#22955c"/>
<path d="M75.93 446.92L78.02 443.60L73.84 443.60Z" fill="#22955c"/>
<path d="M85.60 402.32L87.68 399.00L83.51 399.00Z" fill="#22955c"/>
<path d="M79.61 437.45L81.70 434.13L77.52 434.13Z" fill="#22955c"/>
<path d="M80.28 427.94L82.37 424.62L78.19 424.62Z" fill="#22955c"/>
<path d="M76.78 403.85L78.87 400.52L74.70 400.52Z" fill="#22955c"/>
<path d="M59.50 444.23L61.58 440.91L57.41 440.91Z" fill="#22955c"/>
<path d="M77.21 406.38L79.30 403.06L75.12 403.06Z" fill="#22955c"/>
<path d="M68.17 404.39L70.26 401.07L66.08 401.07Z" fill="#22955c"/>
<path d="M94.11 423.61L96.20 420.28L92.02 420.28Z" fill="#22955c"/>
<path d="M77.96 431.23L80.04 427.91L75.87 427.91Z" fill="#22955c"/>
<path d="M69.45 432.82L71.53 429.49L67.36 429.49Z" fill="#22955c"/>
<path d="M75.48 421.70L77.57 418.38L73.39 418.38Z" fill="#22955c"/>
<path d="M70.91 405.61L73.00 402.29L68.83 402.29Z" fill="#22955c"/>
<path d="M80.62 445.28L82.71 441.95L78.54 441.95Z" fill="#22955c"/>
<path d="M74.59 441.04L76.68 437.72L72.51 437.72Z" fill="#22955c"/>
<path d="M76.01 401.45L78.10 398.13L73.92 398.13Z" fill="#22955c"/>
<path d="M70.41 446.24L72.49 442.92L68.32 442.92Z" fill="#22955c"/>
<path d="M65.62 417.45L67.70 414.12L63.53 414.12Z" fill="#22955c"/>
<path d="M70.44 400.89L72.53 397.57L68.35 397.57Z" fill="#22955c"/>
<path d="M78.83 446.21L80.91 442.88L76.74 442.88Z" fill="#22955c"/>
<path d="M78.90 408.00L80.99 404.68L76.81 404.68Z" fill="#22955c"/>
<path d="M69.50 439.03L71.59 435.71L67.42 435.71Z" fill="#22955c"/>
<path d="M76.24 443.21L78.33 439.89L74.15 439.89Z" fill="#22955c"/>
<path d="M74.49 434.46L76.58 431.14L72.40 431.14Z" fill="#22955c"/>
<path d="M81.69 406.24L83.77 402.92L79.60 402.92Z" fill="#22955c"/>
<path d="M60.13 415.36L62.22 412.04L58.04 412.04Z" fill="#22955c"/>
<path d="M89.14 403.39L91.23 400.07L87.06 400.07Z" fill="#22955c"/>
<path d="M69.86 436.11L71.95 432.79L67.77 432.79Z" fill="#22955c"/>
<path d="M91.27 412.86L93.35 409.54L89.18 409.54Z" fill="#22955c"/>
<path d="M79.31 439.52L81.40 436.20L77.22 436.20Z" fill="#22955c"/>
<path d="M80.60 425.16L82.69 421.84L78.52 421.84Z" fill="#22955c"/>
<path d="M89.18 448.86L91.27 445.54L87.09 445.54Z" fill="#22955c"/>
<path d="M70.10 443.17L72.19 439.85L68.02 439.85Z" fill="#22955c"/>
<path d="M74.70 411.02L76.79 407.70L72.61 407.70Z" fill="#22955c"/>
<path d="M85.64 419.55L87.72 416.23L83.55 416.23Z" fill="#22955c"/>
<path d="M73.77 442.13L75.86 438.81L71.68 438.81Z" fill="#22955c"/>
<path d="M76.63 446.55L78.72 443.23L74.54 443.23Z" fill="#22955c"/>
<path d="M65.84 427.51L67.93 424.19L63.75 424.19Z" fill="#22955c"/>
<path d="M58.18 444.88L60.26 441.56L56.09 441.56Z" fill="#22955c"/>
<path d="M69.76 398.38L71.84 395.06L67.67 395.06Z" fill="#22955c"/>
<path d="M67.76 412.96L69.85 409.64L65.67 409.64Z" fill="#22955c"/>
<path d="M62.37 441.91L64.45 438.59L60.28 438.59Z" fill="#22955c"/>
<path d="M71.52 430.63L73.61 427.31L69.43 427.31Z" fill="#22955c"/>
<path d="M82.92 414.24L85.01 410.92L80.84 410.92Z" fill="#22955c"/>
<path d="M64.04 404.58L66.13 401.26L61.96 401.26Z" fill="#22955c"/>
<path d="M72.67 417.17L74.76 413.85L70.58 413.85Z" fill="#22955c"/>
<path d="M65.55 419.52L67.64 416.20L63.47 416.20Z" fill="#22955c"/>
<path d="M78.08 407.35L80.16 404.03L75.99 404.03Z" fill="#22955c"/>
<path d="M69.55 408.13L71.63 404.81L67.46 404.81Z" fill="#22955c"/>
<path d="M78.00 437.97L80.09 434.65L75.92 434.65Z" fill="#22955c"/>
<path d="M76.83 446.80L78.91 443.48L74.74 443.48Z" fill="#22955c"/>
<path d="M80.14 398.31L82.22 394.99L78.05 394.99Z" fill="#22955c"/>
<path d="M77.78 451.68L79.86 448.36L75.69 448.36Z" fill="#22955c"/>
<path d="M62.94 451.80L65.02 448.48L60.85 448.48Z" fill="#22955c"/>
<path d="M70.92 416.98L73.01 413.66L68.84 413.66Z" fill="#22955c"/>
<path d="M83.03 441.22L85.12 437.90L80.94 437.90Z" fill="#22955c"/>
<path d="M67.85 423.83L69.94 420.51L65.77 420.51Z" fill="#22955c"/>
<path d="M77.42 443.81L79.50 440.49L75.33 440.49Z" fill="#22955c"/>
<path d="M85.40 399.04L87.49 395.72L83.31 395.72Z" fill="#22955c"/>
<path d="M77.22 407.23L79.31 403.91L75.13 403.91Z" fill="#22955c"/>
<path d="M73.94 398.94L76.03 395.62L71.86 395.62Z" fill="#22955c"/>
<path d="M78.63 451.84L80.72 448.52L76.55 448.52Z" fill="#22955c"/>
<path d="M97.37 460.75L99.46 457.43L95.28 457.43Z" fill="#22955c"/>
<path d="M70.90 448.71L72.99 445.39L68.82 445.39Z" fill="#22955c"/>
<path d="M80.36 454.94L82.45 451.62L78.27 451.62Z" fill="#22955c"/>
<path d="M74.83 461.34L76.92 458.02L72.75 458.02Z" fill="#22955c"/>
<path d="M71.60 460.07L73.68 456.75L69.51 456.75Z" fill="#22955c"/>
<path d="M77.75 459.68L79.84 456.36L75.66 456.36Z" fill="#22955c"/>
<path d="M67.90 448.10L69.98 444.78L65.81 444.78Z" fill="#22955c"/>
<path d="M88.37 452.02L90.46 448.70L86.28 448.70Z" fill="#22955c"/>
<path d="M84.34 447.76L86.43 444.44L82.26 444.44Z" fill="#22955c"/>
<path d="M73.44 456.73L75.53 453.41L71.35 453.41Z" fill="#22955c"/>
<path d="M84.74 460.15L86.83 456.83L82.65 456.83Z" fill="#22955c"/>
<path d="M57.65 449.41L59.74 446.09L55.57 446.09Z" fill="#22955c"/>
<path d="M74.15 461.98L76.24 458.66L72.06 458.66Z" fill="#22955c"/>
<path d="M73.95 462.04L76.04 458.72L71.86 458.72Z" fill="#22955c"/>
<path d="M100.96 461.05L103.05 457.73L98.88 457.73Z" fill="#22955c"/>
<path d="M89.33 452.63L91.42 449.31L87.24 449.31Z" fill="#22955c"/>
<path d="M59.86 467.50L61.95 464.17L57.78 464.17Z" fill="#22955c"/>
<path d="M82.42 462.26L84.51 458.94L80.33 458.94Z" fill="#22955c"/>
<path d="M76.86 459.67L78.95 456.35L74.77 456.35Z" fill="#22955c"/>
<path d="M74.45 464.61L76.54 461.29L72.36 461.29Z" fill="#22955c"/>
<path d="M77.85 449.84L79.94 446.52L75.76 446.52Z" fill="#22955c"/>
<path d="M77.41 451.27L79.50 447.95L75.33 447.95Z" fill="#22955c"/>
<path d="M78.67 458.90L80.75 455.58L76.58 455.58Z" fill="#22955c"/>
<path d="M78.20 335.10L80.29 331.78L76.11 331.78Z" fill="#22955c"/>
<path d="M81.00 360.60L83.09 357.28L78.91 357.28Z" fill="#22955c"/>
<path d="M68.20 365.20L70.29 361.88L66.11 361.88Z" fill="#22955c"/>
<path d="M95.50 365.20L97.59 361.88L93.41 361.88Z" fill="#22955c"/>
<path d="M73.30 370.60L75.39 367.28L71.21 367.28Z" fill="#22955c"/>
<path d="M60.20 448.90L62.29 445.58L58.11 445.58Z" fill="#22955c"/>
<path d="M58.80 462.20L60.89 458.88L56.71 458.88Z" fill="#22955c"/>
<path d="M65.20 469.70L67.29 466.38L63.11 466.38Z" fill="#22955c"/>
<path d="M83.50 473.20L85.59 469.88L81.41 469.88Z" fill="#22955c"/>
<path d="M68.90 476.80L70.99 473.48L66.81 473.48Z" fill="#22955c"/>
<path d="M73.30 480.90L75.39 477.58L71.21 477.58Z" fill="#22955c"/>
<path d="M86.50 491.00L88.59 487.68L84.41 487.68Z" fill="#22955c"/>
<path d="M98.60 501.10L100.69 497.78L96.51 497.78Z" fill="#22955c"/>
<path d="M75.17 365.92L77.23 367.98L75.17 370.04L73.10 367.98Z" fill="#a868ec"/>
<path d="M78.25 367.99L80.31 370.05L78.25 372.12L76.19 370.05Z" fill="#a868ec"/>
<path d="M73.46 360.18L75.52 362.24L73.46 364.31L71.40 362.24Z" fill="#a868ec"/>
<path d="M77.80 367.44L79.86 369.51L77.80 371.57L75.73 369.51Z" fill="#a868ec"/>
<path d="M70.64 360.45L72.70 362.52L70.64 364.58L68.58 362.52Z" fill="#a868ec"/>
<path d="M82.10 368.17L84.16 370.24L82.10 372.30L80.04 370.24Z" fill="#a868ec"/>
<path d="M80.05 360.77L82.11 362.83L80.05 364.89L77.98 362.83Z" fill="#a868ec"/>
<path d="M82.29 360.85L84.35 362.91L82.29 364.98L80.23 362.91Z" fill="#a868ec"/>
<path d="M83.22 365.86L85.28 367.93L83.22 369.99L81.16 367.93Z" fill="#a868ec"/>
<path d="M82.84 378.53L84.90 380.59L82.84 382.65L80.77 380.59Z" fill="#a868ec"/>
<path d="M82.74 394.76L84.81 396.82L82.74 398.89L80.68 396.82Z" fill="#a868ec"/>
<path d="M79.10 380.09L81.16 382.15L79.10 384.21L77.03 382.15Z" fill="#a868ec"/>
<path d="M91.82 395.44L93.89 397.50L91.82 399.56L89.76 397.50Z" fill="#a868ec"/>
<path d="M69.11 381.24L71.17 383.31L69.11 385.37L67.04 383.31Z" fill="#a868ec"/>
<path d="M86.54 382.89L88.60 384.96L86.54 387.02L84.48 384.96Z" fill="#a868ec"/>
<path d="M79.55 385.40L81.61 387.47L79.55 389.53L77.48 387.47Z" fill="#a868ec"/>
<path d="M80.88 392.07L82.94 394.13L80.88 396.19L78.82 394.13Z" fill="#a868ec"/>
<path d="M80.44 383.56L82.51 385.63L80.44 387.69L78.38 385.63Z" fill="#a868ec"/>
<path d="M83.36 382.08L85.42 384.15L83.36 386.21L81.29 384.15Z" fill="#a868ec"/>
<path d="M77.43 385.99L79.49 388.05L77.43 390.11L75.36 388.05Z" fill="#a868ec"/>
<path d="M88.37 379.52L90.43 381.58L88.37 383.64L86.30 381.58Z" fill="#a868ec"/>
<path d="M87.08 394.97L89.14 397.03L87.08 399.10L85.02 397.03Z" fill="#a868ec"/>
<path d="M79.38 395.88L81.45 397.94L79.38 400.00L77.32 397.94Z" fill="#a868ec"/>
<path d="M98.92 377.99L100.99 380.05L98.92 382.11L96.86 380.05Z" fill="#a868ec"/>
<path d="M66.84 396.14L68.90 398.20L66.84 400.27L64.78 398.20Z" fill="#a868ec"/>
<path d="M66.93 383.79L68.99 385.85L66.93 387.91L64.86 385.85Z" fill="#a868ec"/>
<path d="M60.02 378.88L62.08 380.95L60.02 383.01L57.96 380.95Z" fill="#a868ec"/>
<path d="M84.98 393.31L87.05 395.37L84.98 397.43L82.92 395.37Z" fill="#a868ec"/>
<path d="M86.57 378.87L88.63 380.94L86.57 383.00L84.51 380.94Z" fill="#a868ec"/>
<path d="M78.35 383.32L80.41 385.38L78.35 387.45L76.29 385.38Z" fill="#a868ec"/>
<path d="M94.16 380.26L96.22 382.32L94.16 384.39L92.09 382.32Z" fill="#a868ec"/>
<path d="M89.39 384.07L91.46 386.13L89.39 388.19L87.33 386.13Z" fill="#a868ec"/>
<path d="M68.97 386.86L71.03 388.93L68.97 390.99L66.90 388.93Z" fill="#a868ec"/>
<path d="M80.81 397.30L82.87 399.36L80.81 401.43L78.75 399.36Z" fill="#a868ec"/>
<path d="M63.43 382.92L65.49 384.98L63.43 387.04L61.37 384.98Z" fill="#a868ec"/>
<path d="M84.14 383.10L86.20 385.16L84.14 387.22L82.07 385.16Z" fill="#a868ec"/>
<path d="M69.02 382.70L71.08 384.76L69.02 386.83L66.96 384.76Z" fill="#a868ec"/>
<path d="M81.55 383.78L83.61 385.84L81.55 387.90L79.49 385.84Z" fill="#a868ec"/>
<path d="M78.26 388.60L80.32 390.66L78.26 392.72L76.20 390.66Z" fill="#a868ec"/>
<path d="M65.34 385.90L67.40 387.97L65.34 390.03L63.27 387.97Z" fill="#a868ec"/>
<path d="M81.23 378.33L83.29 380.39L81.23 382.45L79.17 380.39Z" fill="#a868ec"/>
<path d="M94.26 384.23L96.32 386.29L94.26 388.35L92.20 386.29Z" fill="#a868ec"/>
<path d="M67.34 412.85L69.41 414.92L67.34 416.98L65.28 414.92Z" fill="#a868ec"/>
<path d="M70.89 441.71L72.95 443.77L70.89 445.83L68.82 443.77Z" fill="#a868ec"/>
<path d="M61.72 446.89L63.78 448.96L61.72 451.02L59.66 448.96Z" fill="#a868ec"/>
<path d="M90.98 417.25L93.04 419.31L90.98 421.38L88.91 419.31Z" fill="#a868ec"/>
<path d="M72.03 408.12L74.09 410.19L72.03 412.25L69.97 410.19Z" fill="#a868ec"/>
<path d="M75.31 409.71L77.37 411.77L75.31 413.84L73.24 411.77Z" fill="#a868ec"/>
<path d="M84.82 429.17L86.89 431.23L84.82 433.30L82.76 431.23Z" fill="#a868ec"/>
<path d="M66.27 416.55L68.34 418.61L66.27 420.67L64.21 418.61Z" fill="#a868ec"/>
<path d="M74.91 441.24L76.97 443.30L74.91 445.36L72.84 443.30Z" fill="#a868ec"/>
<path d="M72.90 396.66L74.97 398.72L72.90 400.78L70.84 398.72Z" fill="#a868ec"/>
<path d="M88.09 404.93L90.15 406.99L88.09 409.05L86.03 406.99Z" fill="#a868ec"/>
<path d="M68.34 400.71L70.41 402.77L68.34 404.83L66.28 402.77Z" fill="#a868ec"/>
<path d="M67.11 442.86L69.17 444.93L67.11 446.99L65.05 444.93Z" fill="#a868ec"/>
<path d="M84.51 400.61L86.57 402.68L84.51 404.74L82.45 402.68Z" fill="#a868ec"/>
<path d="M87.35 435.53L89.42 437.59L87.35 439.65L85.29 437.59Z" fill="#a868ec"/>
<path d="M68.44 417.62L70.50 419.68L68.44 421.74L66.38 419.68Z" fill="#a868ec"/>
<path d="M70.34 440.38L72.40 442.44L70.34 444.50L68.27 442.44Z" fill="#a868ec"/>
<path d="M65.68 401.96L67.74 404.02L65.68 406.09L63.62 404.02Z" fill="#a868ec"/>
<path d="M83.21 401.30L85.28 403.36L83.21 405.42L81.15 403.36Z" fill="#a868ec"/>
<path d="M79.70 405.13L81.76 407.19L79.70 409.25L77.64 407.19Z" fill="#a868ec"/>
<path d="M81.47 435.15L83.54 437.21L81.47 439.27L79.41 437.21Z" fill="#a868ec"/>
<path d="M65.90 424.63L67.96 426.69L65.90 428.76L63.83 426.69Z" fill="#a868ec"/>
<path d="M68.74 403.68L70.80 405.75L68.74 407.81L66.68 405.75Z" fill="#a868ec"/>
<path d="M75.44 439.64L77.50 441.70L75.44 443.76L73.37 441.70Z" fill="#a868ec"/>
<path d="M83.53 435.54L85.59 437.60L83.53 439.67L81.46 437.60Z" fill="#a868ec"/>
<path d="M58.21 408.06L60.27 410.12L58.21 412.18L56.15 410.12Z" fill="#a868ec"/>
<path d="M84.81 409.59L86.87 411.65L84.81 413.71L82.75 411.65Z" fill="#a868ec"/>
<path d="M77.06 425.95L79.12 428.01L77.06 430.08L75.00 428.01Z" fill="#a868ec"/>
<path d="M80.19 402.17L82.25 404.24L80.19 406.30L78.13 404.24Z" fill="#a868ec"/>
<path d="M81.92 401.42L83.98 403.48L81.92 405.54L79.85 403.48Z" fill="#a868ec"/>
<path d="M91.22 417.97L93.28 420.03L91.22 422.10L89.16 420.03Z" fill="#a868ec"/>
<path d="M96.62 396.87L98.68 398.93L96.62 400.99L94.56 398.93Z" fill="#a868ec"/>
<path d="M73.06 400.21L75.12 402.28L73.06 404.34L70.99 402.28Z" fill="#a868ec"/>
<path d="M94.40 447.88L96.46 449.94L94.40 452.01L92.34 449.94Z" fill="#a868ec"/>
<path d="M80.23 434.37L82.30 436.43L80.23 438.50L78.17 436.43Z" fill="#a868ec"/>
<path d="M90.49 424.39L92.55 426.46L90.49 428.52L88.43 426.46Z" fill="#a868ec"/>
<path d="M76.87 440.17L78.93 442.23L76.87 444.29L74.81 442.23Z" fill="#a868ec"/>
<path d="M62.47 435.18L64.53 437.24L62.47 439.31L60.41 437.24Z" fill="#a868ec"/>
<path d="M72.74 398.41L74.80 400.47L72.74 402.54L70.68 400.47Z" fill="#a868ec"/>
<path d="M74.22 446.40L76.28 448.47L74.22 450.53L72.16 448.47Z" fill="#a868ec"/>
<path d="M82.13 426.63L84.19 428.70L82.13 430.76L80.07 428.70Z" fill="#a868ec"/>
<path d="M76.49 427.84L78.55 429.90L76.49 431.97L74.43 429.90Z" fill="#a868ec"/>
<path d="M76.86 427.25L78.92 429.31L76.86 431.37L74.79 429.31Z" fill="#a868ec"/>
<path d="M81.11 446.62L83.18 448.68L81.11 450.75L79.05 448.68Z" fill="#a868ec"/>
<path d="M74.51 440.87L76.58 442.93L74.51 445.00L72.45 442.93Z" fill="#a868ec"/>
<path d="M82.23 437.74L84.29 439.81L82.23 441.87L80.16 439.81Z" fill="#a868ec"/>
<path d="M78.23 398.57L80.29 400.64L78.23 402.70L76.16 400.64Z" fill="#a868ec"/>
<path d="M89.71 434.47L91.77 436.53L89.71 438.59L87.65 436.53Z" fill="#a868ec"/>
<path d="M78.59 397.07L80.65 399.14L78.59 401.20L76.52 399.14Z" fill="#a868ec"/>
<path d="M72.15 405.86L74.21 407.93L72.15 409.99L70.09 407.93Z" fill="#a868ec"/>
<path d="M85.60 421.20L87.66 423.26L85.60 425.33L83.54 423.26Z" fill="#a868ec"/>
<path d="M67.57 402.11L69.63 404.17L67.57 406.23L65.51 404.17Z" fill="#a868ec"/>
<path d="M81.85 415.49L83.92 417.55L81.85 419.62L79.79 417.55Z" fill="#a868ec"/>
<path d="M75.77 415.44L77.83 417.51L75.77 419.57L73.71 417.51Z" fill="#a868ec"/>
<path d="M77.62 421.69L79.68 423.75L77.62 425.81L75.55 423.75Z" fill="#a868ec"/>
<path d="M85.66 396.57L87.73 398.63L85.66 400.69L83.60 398.63Z" fill="#a868ec"/>
<path d="M70.39 396.10L72.45 398.17L70.39 400.23L68.32 398.17Z" fill="#a868ec"/>
<path d="M69.72 403.87L71.78 405.94L69.72 408.00L67.66 405.94Z" fill="#a868ec"/>
<path d="M89.93 431.76L91.99 433.82L89.93 435.89L87.87 433.82Z" fill="#a868ec"/>
<path d="M93.62 431.32L95.68 433.38L93.62 435.45L91.56 433.38Z" fill="#a868ec"/>
<path d="M57.10 438.06L59.16 440.12L57.10 442.19L55.04 440.12Z" fill="#a868ec"/>
<path d="M83.88 393.85L85.94 395.91L83.88 397.98L81.82 395.91Z" fill="#a868ec"/>
<path d="M82.58 409.23L84.64 411.30L82.58 413.36L80.52 411.30Z" fill="#a868ec"/>
<path d="M68.14 445.32L70.21 447.38L68.14 449.44L66.08 447.38Z" fill="#a868ec"/>
<path d="M70.66 432.54L72.72 434.61L70.66 436.67L68.59 434.61Z" fill="#a868ec"/>
<path d="M83.07 412.58L85.14 414.65L83.07 416.71L81.01 414.65Z" fill="#a868ec"/>
<path d="M67.66 419.84L69.72 421.90L67.66 423.96L65.59 421.90Z" fill="#a868ec"/>
<path d="M78.20 432.02L80.26 434.08L78.20 436.15L76.14 434.08Z" fill="#a868ec"/>
<path d="M89.53 437.55L91.59 439.61L89.53 441.67L87.46 439.61Z" fill="#a868ec"/>
<path d="M87.53 404.67L89.59 406.74L87.53 408.80L85.47 406.74Z" fill="#a868ec"/>
<path d="M85.03 438.30L87.10 440.36L85.03 442.42L82.97 440.36Z" fill="#a868ec"/>
<path d="M77.34 411.64L79.40 413.70L77.34 415.76L75.28 413.70Z" fill="#a868ec"/>
<path d="M77.50 429.89L79.56 431.95L77.50 434.02L75.44 431.95Z" fill="#a868ec"/>
<path d="M93.18 439.41L95.24 441.47L93.18 443.53L91.12 441.47Z" fill="#a868ec"/>
<path d="M76.89 421.80L78.95 423.87L76.89 425.93L74.82 423.87Z" fill="#a868ec"/>
<path d="M80.80 400.34L82.87 402.40L80.80 404.46L78.74 402.40Z" fill="#a868ec"/>
<path d="M62.63 393.19L64.69 395.25L62.63 397.31L60.57 395.25Z" fill="#a868ec"/>
<path d="M74.46 438.41L76.52 440.47L74.46 442.54L72.39 440.47Z" fill="#a868ec"/>
<path d="M86.01 429.80L88.07 431.86L86.01 433.92L83.95 431.86Z" fill="#a868ec"/>
<path d="M74.37 398.31L76.43 400.37L74.37 402.44L72.30 400.37Z" fill="#a868ec"/>
<path d="M89.48 418.65L91.55 420.71L89.48 422.77L87.42 420.71Z" fill="#a868ec"/>
<path d="M73.83 444.85L75.89 446.91L73.83 448.97L71.76 446.91Z" fill="#a868ec"/>
<path d="M76.61 395.42L78.67 397.48L76.61 399.54L74.55 397.48Z" fill="#a868ec"/>
<path d="M84.37 414.39L86.43 416.46L84.37 418.52L82.31 416.46Z" fill="#a868ec"/>
<path d="M81.94 401.96L84.00 404.02L81.94 406.09L79.88 404.02Z" fill="#a868ec"/>
<path d="M75.81 409.79L77.87 411.85L75.81 413.92L73.74 411.85Z" fill="#a868ec"/>
<path d="M88.90 423.50L90.97 425.56L88.90 427.62L86.84 425.56Z" fill="#a868ec"/>
<path d="M75.70 393.65L77.76 395.71L75.70 397.77L73.64 395.71Z" fill="#a868ec"/>
<path d="M85.68 425.12L87.74 427.19L85.68 429.25L83.62 427.19Z" fill="#a868ec"/>
<path d="M78.27 431.81L80.34 433.87L78.27 435.93L76.21 433.87Z" fill="#a868ec"/>
<path d="M87.56 428.59L89.63 430.66L87.56 432.72L85.50 430.66Z" fill="#a868ec"/>
<path d="M71.59 436.37L73.66 438.44L71.59 440.50L69.53 438.44Z" fill="#a868ec"/>
<path d="M84.49 407.53L86.55 409.59L84.49 411.65L82.42 409.59Z" fill="#a868ec"/>
<path d="M68.85 439.91L70.92 441.97L68.85 444.04L66.79 441.97Z" fill="#a868ec"/>
<path d="M95.85 400.01L97.92 402.07L95.85 404.13L93.79 402.07Z" fill="#a868ec"/>
<path d="M91.40 396.85L93.46 398.91L91.40 400.98L89.33 398.91Z" fill="#a868ec"/>
<path d="M90.11 438.61L92.17 440.67L90.11 442.73L88.04 440.67Z" fill="#a868ec"/>
<path d="M80.98 446.47L83.05 448.53L80.98 450.59L78.92 448.53Z" fill="#a868ec"/>
<path d="M73.97 432.87L76.03 434.93L73.97 437.00L71.91 434.93Z" fill="#a868ec"/>
<path d="M78.03 402.93L80.09 404.99L78.03 407.05L75.97 404.99Z" fill="#a868ec"/>
<path d="M68.99 421.57L71.05 423.64L68.99 425.70L66.93 423.64Z" fill="#a868ec"/>
<path d="M72.37 429.23L74.44 431.30L72.37 433.36L70.31 431.30Z" fill="#a868ec"/>
<path d="M66.97 415.41L69.03 417.48L66.97 419.54L64.90 417.48Z" fill="#a868ec"/>
<path d="M70.71 443.37L72.78 445.43L70.71 447.49L68.65 445.43Z" fill="#a868ec"/>
<path d="M88.50 404.09L90.56 406.16L88.50 408.22L86.43 406.16Z" fill="#a868ec"/>
<path d="M79.15 448.88L81.21 450.94L79.15 453.00L77.09 450.94Z" fill="#a868ec"/>
<path d="M56.24 453.47L58.30 455.54L56.24 457.60L54.17 455.54Z" fill="#a868ec"/>
<path d="M86.09 448.48L88.15 450.54L86.09 452.60L84.03 450.54Z" fill="#a868ec"/>
<path d="M79.72 455.22L81.78 457.29L79.72 459.35L77.66 457.29Z" fill="#a868ec"/>
<path d="M77.23 452.51L79.29 454.58L77.23 456.64L75.16 454.58Z" fill="#a868ec"/>
<path d="M80.72 453.67L82.79 455.74L80.72 457.80L78.66 455.74Z" fill="#a868ec"/>
<path d="M67.69 443.22L69.75 445.29L67.69 447.35L65.62 445.29Z" fill="#a868ec"/>
<path d="M74.94 457.09L77.00 459.16L74.94 461.22L72.87 459.16Z" fill="#a868ec"/>
<path d="M83.01 445.11L85.07 447.17L83.01 449.24L80.94 447.17Z" fill="#a868ec"/>
<path d="M82.59 451.08L84.65 453.14L82.59 455.20L80.53 453.14Z" fill="#a868ec"/>
<path d="M93.96 454.37L96.02 456.43L93.96 458.49L91.89 456.43Z" fill="#a868ec"/>
<path d="M74.22 456.61L76.29 458.68L74.22 460.74L72.16 458.68Z" fill="#a868ec"/>
<path d="M82.54 459.28L84.61 461.34L82.54 463.40L80.48 461.34Z" fill="#a868ec"/>
<path d="M82.73 444.34L84.79 446.40L82.73 448.46L80.66 446.40Z" fill="#a868ec"/>
<path d="M96.93 450.42L98.99 452.48L96.93 454.55L94.87 452.48Z" fill="#a868ec"/>
<path d="M85.85 462.64L87.91 464.70L85.85 466.77L83.79 464.70Z" fill="#a868ec"/>
<path d="M90.73 457.01L92.79 459.07L90.73 461.13L88.67 459.07Z" fill="#a868ec"/>
<path d="M74.36 455.53L76.42 457.59L74.36 459.66L72.29 457.59Z" fill="#a868ec"/>
<path d="M77.93 446.50L79.99 448.57L77.93 450.63L75.87 448.57Z" fill="#a868ec"/>
<path d="M75.89 453.61L77.96 455.67L75.89 457.73L73.83 455.67Z" fill="#a868ec"/>
<path d="M79.70 455.27L81.77 457.34L79.70 459.40L77.64 457.34Z" fill="#a868ec"/>
<path d="M72.79 451.90L74.86 453.96L72.79 456.03L70.73 453.96Z" fill="#a868ec"/>
<path d="M84.20 331.14L86.26 333.20L84.20 335.26L82.14 333.20Z" fill="#a868ec"/>
<path d="M74.20 354.84L76.26 356.90L74.20 358.96L72.14 356.90Z" fill="#a868ec"/>
<path d="M89.20 356.64L91.26 358.70L89.20 360.76L87.14 358.70Z" fill="#a868ec"/>
<path d="M61.00 361.24L63.06 363.30L61.00 365.36L58.94 363.30Z" fill="#a868ec"/>
<path d="M62.80 361.24L64.86 363.30L62.80 365.36L60.74 363.30Z" fill="#a868ec"/>
<path d="M80.60 361.24L82.66 363.30L80.60 365.36L78.54 363.30Z" fill="#a868ec"/>
<path d="M64.60 366.64L66.66 368.70L64.60 370.76L62.54 368.70Z" fill="#a868ec"/>
<path d="M82.40 366.64L84.46 368.70L82.40 370.76L80.34 368.70Z" fill="#a868ec"/>
<path d="M89.20 366.64L91.26 368.70L89.20 370.76L87.14 368.70Z" fill="#a868ec"/>
<path d="M75.30 465.74L77.36 467.80L75.30 469.86L73.24 467.80Z" fill="#a868ec"/>
<path d="M73.00 469.24L75.06 471.30L73.00 473.36L70.94 471.30Z" fill="#a868ec"/>
<path d="M72.30 472.84L74.36 474.90L72.30 476.96L70.24 474.90Z" fill="#a868ec"/>
<path d="M64.20 476.94L66.26 479.00L64.20 481.06L62.14 479.00Z" fill="#a868ec"/>
<path d="M66.30 476.94L68.36 479.00L66.30 481.06L64.24 479.00Z" fill="#a868ec"/>
<path d="M70.30 476.94L72.36 479.00L70.30 481.06L68.24 479.00Z" fill="#a868ec"/>
<path d="M75.40 476.94L77.46 479.00L75.40 481.06L73.34 479.00Z" fill="#a868ec"/>
<path d="M77.80 476.94L79.86 479.00L77.80 481.06L75.74 479.00Z" fill="#a868ec"/>
<path d="M83.50 476.94L85.56 479.00L83.50 481.06L81.44 479.00Z" fill="#a868ec"/>
<path d="M83.50 487.04L85.56 489.10L83.50 491.16L81.44 489.10Z" fill="#a868ec"/>
<path d="M93.20 497.14L95.26 499.20L93.20 501.26L91.14 499.20Z" fill="#a868ec"/>
<line x1="56.53" y1="411.57" x2="188.95" y2="445.80" stroke="#242424" stroke-width="1.0"/>
<line x1="56.53" y1="405.64" x2="117.70" y2="432.52" stroke="#ec2a2c" stroke-width="1.0"/>
<line x1="56.53" y1="410.09" x2="138.48" y2="435.52" stroke="#2356cc" stroke-width="1.0"/>
<line x1="56.53" y1="414.54" x2="111.76" y2="424.54" stroke="#22955c" stroke-width="1.0"/>
<line x1="56.53" y1="408.74" x2="111.76" y2="434.44" stroke="#a868ec" stroke-width="1.0"/>
<path d="M300.40 317.20V518.40H460.80" fill="none" stroke="#a6a6a6" stroke-width="1.3"/>
<line x1="300.40" y1="518.40" x2="300.40" y2="519.80" stroke="#444" stroke-width="0.8"/>
<line x1="314.98" y1="518.40" x2="314.98" y2="520.60" stroke="#444" stroke-width="0.8"/>
<text transform="translate(314.98 528.20) scale(1 1.2)" class="tl" text-anchor="middle">0.0</text>
<line x1="329.56" y1="518.40" x2="329.56" y2="519.80" stroke="#444" stroke-width="0.8"/>
<line x1="344.15" y1="518.40" x2="344.15" y2="520.60" stroke="#444" stroke-width="0.8"/>
<text transform="translate(344.15 528.20) scale(1 1.2)" class="tl" text-anchor="middle">0.5</text>
<line x1="358.73" y1="518.40" x2="358.73" y2="519.80" stroke="#444" stroke-width="0.8"/>
<line x1="373.31" y1="518.40" x2="373.31" y2="520.60" stroke="#444" stroke-width="0.8"/>
<text transform="translate(373.31 528.20) scale(1 1.2)" class="tl" text-anchor="middle">1.0</text>
<line x1="387.89" y1="518.40" x2="387.89" y2="519.80" stroke="#444" stroke-width="0.8"/>
<line x1="402.47" y1="518.40" x2="402.47" y2="520.60" stroke="#444" stroke-width="0.8"/>
<text transform="translate(402.47 528.20) scale(1 1.2)" class="tl" text-anchor="middle">1.5</text>
<line x1="417.05" y1="518.40" x2="417.05" y2="519.80" stroke="#444" stroke-width="0.8"/>
<line x1="431.64" y1="518.40" x2="431.64" y2="520.60" stroke="#444" stroke-width="0.8"/>
<text transform="translate(431.64 528.20) scale(1 1.2)" class="tl" text-anchor="middle">2.0</text>
<line x1="446.22" y1="518.40" x2="446.22" y2="519.80" stroke="#444" stroke-width="0.8"/>
<line x1="460.80" y1="518.40" x2="460.80" y2="520.60" stroke="#444" stroke-width="0.8"/>
<text transform="translate(460.80 528.20) scale(1 1.2)" class="tl" text-anchor="middle">2.5</text>
<line x1="298.20" y1="505.82" x2="300.40" y2="505.82" stroke="#444" stroke-width="0.8"/>
<text transform="translate(296.80 508.38) scale(1 1.2)" class="tl" text-anchor="end">30</text>
<line x1="298.20" y1="480.67" x2="300.40" y2="480.67" stroke="#444" stroke-width="0.8"/>
<text transform="translate(296.80 483.22) scale(1 1.2)" class="tl" text-anchor="end">40</text>
<line x1="298.20" y1="455.52" x2="300.40" y2="455.52" stroke="#444" stroke-width="0.8"/>
<text transform="translate(296.80 458.07) scale(1 1.2)" class="tl" text-anchor="end">50</text>
<line x1="298.20" y1="430.38" x2="300.40" y2="430.38" stroke="#444" stroke-width="0.8"/>
<text transform="translate(296.80 432.93) scale(1 1.2)" class="tl" text-anchor="end">60</text>
<line x1="298.20" y1="405.22" x2="300.40" y2="405.22" stroke="#444" stroke-width="0.8"/>
<text transform="translate(296.80 407.77) scale(1 1.2)" class="tl" text-anchor="end">70</text>
<line x1="298.20" y1="380.07" x2="300.40" y2="380.07" stroke="#444" stroke-width="0.8"/>
<text transform="translate(296.80 382.62) scale(1 1.2)" class="tl" text-anchor="end">80</text>
<line x1="298.20" y1="354.92" x2="300.40" y2="354.92" stroke="#444" stroke-width="0.8"/>
<text transform="translate(296.80 357.47) scale(1 1.2)" class="tl" text-anchor="end">90</text>
<line x1="298.20" y1="329.77" x2="300.40" y2="329.77" stroke="#444" stroke-width="0.8"/>
<text transform="translate(296.80 332.32) scale(1 1.2)" class="tl" text-anchor="end">100</text>
<line x1="299.00" y1="518.40" x2="300.40" y2="518.40" stroke="#444" stroke-width="0.8"/>
<line x1="299.00" y1="493.25" x2="300.40" y2="493.25" stroke="#444" stroke-width="0.8"/>
<line x1="299.00" y1="468.10" x2="300.40" y2="468.10" stroke="#444" stroke-width="0.8"/>
<line x1="299.00" y1="442.95" x2="300.40" y2="442.95" stroke="#444" stroke-width="0.8"/>
<line x1="299.00" y1="417.80" x2="300.40" y2="417.80" stroke="#444" stroke-width="0.8"/>
<line x1="299.00" y1="392.65" x2="300.40" y2="392.65" stroke="#444" stroke-width="0.8"/>
<line x1="299.00" y1="367.50" x2="300.40" y2="367.50" stroke="#444" stroke-width="0.8"/>
<line x1="299.00" y1="342.35" x2="300.40" y2="342.35" stroke="#444" stroke-width="0.8"/>
<line x1="299.00" y1="317.20" x2="300.40" y2="317.20" stroke="#444" stroke-width="0.8"/>
<rect x="336.75" y="354.93" width="3.13" height="3.13" fill="#242424"/>
<rect x="328.47" y="358.21" width="3.13" height="3.13" fill="#242424"/>
<rect x="317.29" y="352.95" width="3.13" height="3.13" fill="#242424"/>
<rect x="326.73" y="346.62" width="3.13" height="3.13" fill="#242424"/>
<rect x="337.21" y="348.56" width="3.13" height="3.13" fill="#242424"/>
<rect x="346.81" y="357.78" width="3.13" height="3.13" fill="#242424"/>
<rect x="339.00" y="350.82" width="3.13" height="3.13" fill="#242424"/>
<rect x="336.52" y="354.11" width="3.13" height="3.13" fill="#242424"/>
<rect x="323.24" y="344.94" width="3.13" height="3.13" fill="#242424"/>
<rect x="354.87" y="348.47" width="3.13" height="3.13" fill="#242424"/>
<rect x="345.94" y="347.93" width="3.13" height="3.13" fill="#242424"/>
<rect x="353.70" y="344.18" width="3.13" height="3.13" fill="#242424"/>
<rect x="326.26" y="343.47" width="3.13" height="3.13" fill="#242424"/>
<rect x="329.91" y="346.13" width="3.13" height="3.13" fill="#242424"/>
<rect x="322.83" y="345.02" width="3.13" height="3.13" fill="#242424"/>
<rect x="322.67" y="351.05" width="3.13" height="3.13" fill="#242424"/>
<rect x="339.84" y="355.67" width="3.13" height="3.13" fill="#242424"/>
<rect x="340.33" y="352.48" width="3.13" height="3.13" fill="#242424"/>
<rect x="343.49" y="348.40" width="3.13" height="3.13" fill="#242424"/>
<rect x="340.11" y="345.42" width="3.13" height="3.13" fill="#242424"/>
<rect x="337.11" y="353.77" width="3.13" height="3.13" fill="#242424"/>
<rect x="319.27" y="348.36" width="3.13" height="3.13" fill="#242424"/>
<rect x="334.37" y="358.01" width="3.13" height="3.13" fill="#242424"/>
<rect x="319.21" y="357.92" width="3.13" height="3.13" fill="#242424"/>
<rect x="342.99" y="355.24" width="3.13" height="3.13" fill="#242424"/>
<rect x="318.98" y="354.67" width="3.13" height="3.13" fill="#242424"/>
<rect x="338.93" y="368.94" width="3.13" height="3.13" fill="#242424"/>
<rect x="328.06" y="371.65" width="3.13" height="3.13" fill="#242424"/>
<rect x="318.95" y="374.84" width="3.13" height="3.13" fill="#242424"/>
<rect x="342.45" y="359.39" width="3.13" height="3.13" fill="#242424"/>
<rect x="319.71" y="370.32" width="3.13" height="3.13" fill="#242424"/>
<rect x="337.43" y="362.52" width="3.13" height="3.13" fill="#242424"/>
<rect x="329.03" y="373.39" width="3.13" height="3.13" fill="#242424"/>
<rect x="355.13" y="361.22" width="3.13" height="3.13" fill="#242424"/>
<rect x="318.89" y="359.09" width="3.13" height="3.13" fill="#242424"/>
<rect x="341.14" y="361.32" width="3.13" height="3.13" fill="#242424"/>
<rect x="336.99" y="364.38" width="3.13" height="3.13" fill="#242424"/>
<rect x="338.27" y="375.70" width="3.13" height="3.13" fill="#242424"/>
<rect x="341.51" y="373.28" width="3.13" height="3.13" fill="#242424"/>
<rect x="342.56" y="374.83" width="3.13" height="3.13" fill="#242424"/>
<rect x="347.26" y="374.68" width="3.13" height="3.13" fill="#242424"/>
<rect x="338.06" y="364.06" width="3.13" height="3.13" fill="#242424"/>
<rect x="331.23" y="374.77" width="3.13" height="3.13" fill="#242424"/>
<rect x="337.89" y="369.31" width="3.13" height="3.13" fill="#242424"/>
<rect x="317.49" y="368.62" width="3.13" height="3.13" fill="#242424"/>
<rect x="352.41" y="363.87" width="3.13" height="3.13" fill="#242424"/>
<rect x="316.92" y="365.41" width="3.13" height="3.13" fill="#242424"/>
<rect x="352.33" y="372.66" width="3.13" height="3.13" fill="#242424"/>
<rect x="334.73" y="369.56" width="3.13" height="3.13" fill="#242424"/>
<rect x="334.67" y="371.60" width="3.13" height="3.13" fill="#242424"/>
<rect x="341.51" y="375.12" width="3.13" height="3.13" fill="#242424"/>
<rect x="331.90" y="361.45" width="3.13" height="3.13" fill="#242424"/>
<rect x="346.73" y="365.66" width="3.13" height="3.13" fill="#242424"/>
<rect x="342.73" y="371.28" width="3.13" height="3.13" fill="#242424"/>
<rect x="322.59" y="378.01" width="3.13" height="3.13" fill="#242424"/>
<rect x="332.10" y="363.94" width="3.13" height="3.13" fill="#242424"/>
<rect x="357.38" y="369.87" width="3.13" height="3.13" fill="#242424"/>
<rect x="335.57" y="359.54" width="3.13" height="3.13" fill="#242424"/>
<rect x="350.59" y="374.32" width="3.13" height="3.13" fill="#242424"/>
<rect x="327.09" y="386.32" width="3.13" height="3.13" fill="#242424"/>
<rect x="338.79" y="389.66" width="3.13" height="3.13" fill="#242424"/>
<rect x="353.95" y="395.61" width="3.13" height="3.13" fill="#242424"/>
<rect x="337.25" y="385.12" width="3.13" height="3.13" fill="#242424"/>
<rect x="324.48" y="384.14" width="3.13" height="3.13" fill="#242424"/>
<rect x="354.07" y="389.21" width="3.13" height="3.13" fill="#242424"/>
<rect x="326.70" y="389.17" width="3.13" height="3.13" fill="#242424"/>
<rect x="351.41" y="381.38" width="3.13" height="3.13" fill="#242424"/>
<rect x="344.77" y="384.79" width="3.13" height="3.13" fill="#242424"/>
<rect x="358.94" y="380.57" width="3.13" height="3.13" fill="#242424"/>
<rect x="334.08" y="389.01" width="3.13" height="3.13" fill="#242424"/>
<rect x="356.25" y="386.40" width="3.13" height="3.13" fill="#242424"/>
<rect x="342.88" y="390.17" width="3.13" height="3.13" fill="#242424"/>
<rect x="343.70" y="390.95" width="3.13" height="3.13" fill="#242424"/>
<rect x="338.28" y="388.23" width="3.13" height="3.13" fill="#242424"/>
<rect x="348.72" y="388.03" width="3.13" height="3.13" fill="#242424"/>
<rect x="340.70" y="394.92" width="3.13" height="3.13" fill="#242424"/>
<rect x="356.83" y="395.54" width="3.13" height="3.13" fill="#242424"/>
<rect x="343.54" y="386.84" width="3.13" height="3.13" fill="#242424"/>
<rect x="335.57" y="380.03" width="3.13" height="3.13" fill="#242424"/>
<rect x="346.70" y="394.10" width="3.13" height="3.13" fill="#242424"/>
<rect x="356.39" y="386.47" width="3.13" height="3.13" fill="#242424"/>
<rect x="350.23" y="379.84" width="3.13" height="3.13" fill="#242424"/>
<rect x="338.49" y="397.82" width="3.13" height="3.13" fill="#242424"/>
<rect x="339.54" y="378.92" width="3.13" height="3.13" fill="#242424"/>
<rect x="334.42" y="382.61" width="3.13" height="3.13" fill="#242424"/>
<rect x="326.24" y="380.50" width="3.13" height="3.13" fill="#242424"/>
<rect x="354.15" y="391.68" width="3.13" height="3.13" fill="#242424"/>
<rect x="351.15" y="387.60" width="3.13" height="3.13" fill="#242424"/>
<rect x="340.65" y="394.35" width="3.13" height="3.13" fill="#242424"/>
<rect x="328.91" y="389.27" width="3.13" height="3.13" fill="#242424"/>
<rect x="332.98" y="394.86" width="3.13" height="3.13" fill="#242424"/>
<rect x="354.48" y="392.77" width="3.13" height="3.13" fill="#242424"/>
<rect x="356.80" y="401.14" width="3.13" height="3.13" fill="#242424"/>
<rect x="352.89" y="411.12" width="3.13" height="3.13" fill="#242424"/>
<rect x="325.20" y="402.64" width="3.13" height="3.13" fill="#242424"/>
<rect x="348.32" y="411.34" width="3.13" height="3.13" fill="#242424"/>
<rect x="345.46" y="406.16" width="3.13" height="3.13" fill="#242424"/>
<rect x="342.33" y="401.02" width="3.13" height="3.13" fill="#242424"/>
<rect x="340.76" y="411.11" width="3.13" height="3.13" fill="#242424"/>
<rect x="340.93" y="413.60" width="3.13" height="3.13" fill="#242424"/>
<rect x="339.15" y="412.01" width="3.13" height="3.13" fill="#242424"/>
<rect x="351.53" y="403.37" width="3.13" height="3.13" fill="#242424"/>
<rect x="367.53" y="338.13" width="3.13" height="3.13" fill="#242424"/>
<rect x="389.83" y="346.63" width="3.13" height="3.13" fill="#242424"/>
<rect x="401.33" y="353.13" width="3.13" height="3.13" fill="#242424"/>
<rect x="392.23" y="357.43" width="3.13" height="3.13" fill="#242424"/>
<rect x="414.73" y="360.83" width="3.13" height="3.13" fill="#242424"/>
<rect x="445.03" y="354.73" width="3.13" height="3.13" fill="#242424"/>
<rect x="370.13" y="349.73" width="3.13" height="3.13" fill="#242424"/>
<rect x="370.13" y="360.23" width="3.13" height="3.13" fill="#242424"/>
<rect x="377.23" y="369.93" width="3.13" height="3.13" fill="#242424"/>
<rect x="364.43" y="349.73" width="3.13" height="3.13" fill="#242424"/>
<rect x="338.83" y="425.13" width="3.13" height="3.13" fill="#242424"/>
<rect x="362.13" y="425.13" width="3.13" height="3.13" fill="#242424"/>
<rect x="334.43" y="436.43" width="3.13" height="3.13" fill="#242424"/>
<rect x="339.43" y="447.03" width="3.13" height="3.13" fill="#242424"/>
<rect x="333.43" y="454.73" width="3.13" height="3.13" fill="#242424"/>
<rect x="375.43" y="497.43" width="3.13" height="3.13" fill="#242424"/>
<circle cx="336.30" cy="347.12" r="1.65" fill="#ec2a2c"/>
<circle cx="349.73" cy="345.15" r="1.65" fill="#ec2a2c"/>
<circle cx="338.95" cy="345.68" r="1.65" fill="#ec2a2c"/>
<circle cx="331.72" cy="349.61" r="1.65" fill="#ec2a2c"/>
<circle cx="356.00" cy="357.16" r="1.65" fill="#ec2a2c"/>
<circle cx="338.11" cy="343.29" r="1.65" fill="#ec2a2c"/>
<circle cx="349.92" cy="347.66" r="1.65" fill="#ec2a2c"/>
<circle cx="352.61" cy="354.07" r="1.65" fill="#ec2a2c"/>
<circle cx="332.33" cy="357.50" r="1.65" fill="#ec2a2c"/>
<circle cx="332.02" cy="349.43" r="1.65" fill="#ec2a2c"/>
<circle cx="331.30" cy="354.02" r="1.65" fill="#ec2a2c"/>
<circle cx="353.25" cy="357.58" r="1.65" fill="#ec2a2c"/>
<circle cx="316.17" cy="353.45" r="1.65" fill="#ec2a2c"/>
<circle cx="323.88" cy="346.01" r="1.65" fill="#ec2a2c"/>
<circle cx="338.18" cy="355.18" r="1.65" fill="#ec2a2c"/>
<circle cx="345.35" cy="354.67" r="1.65" fill="#ec2a2c"/>
<circle cx="322.17" cy="359.87" r="1.65" fill="#ec2a2c"/>
<circle cx="326.74" cy="345.63" r="1.65" fill="#ec2a2c"/>
<circle cx="323.16" cy="346.00" r="1.65" fill="#ec2a2c"/>
<circle cx="339.42" cy="356.90" r="1.65" fill="#ec2a2c"/>
<circle cx="324.42" cy="350.82" r="1.65" fill="#ec2a2c"/>
<circle cx="340.73" cy="358.25" r="1.65" fill="#ec2a2c"/>
<circle cx="337.89" cy="346.52" r="1.65" fill="#ec2a2c"/>
<circle cx="336.67" cy="352.43" r="1.65" fill="#ec2a2c"/>
<circle cx="333.33" cy="344.20" r="1.65" fill="#ec2a2c"/>
<circle cx="349.13" cy="348.66" r="1.65" fill="#ec2a2c"/>
<circle cx="323.72" cy="344.41" r="1.65" fill="#ec2a2c"/>
<circle cx="320.27" cy="354.60" r="1.65" fill="#ec2a2c"/>
<circle cx="334.86" cy="356.28" r="1.65" fill="#ec2a2c"/>
<circle cx="328.29" cy="359.59" r="1.65" fill="#ec2a2c"/>
<circle cx="352.25" cy="353.06" r="1.65" fill="#ec2a2c"/>
<circle cx="324.49" cy="344.60" r="1.65" fill="#ec2a2c"/>
<circle cx="348.41" cy="352.47" r="1.65" fill="#ec2a2c"/>
<circle cx="317.43" cy="354.92" r="1.65" fill="#ec2a2c"/>
<circle cx="326.34" cy="343.62" r="1.65" fill="#ec2a2c"/>
<circle cx="335.27" cy="354.71" r="1.65" fill="#ec2a2c"/>
<circle cx="334.82" cy="352.18" r="1.65" fill="#ec2a2c"/>
<circle cx="342.23" cy="377.68" r="1.65" fill="#ec2a2c"/>
<circle cx="338.12" cy="366.59" r="1.65" fill="#ec2a2c"/>
<circle cx="333.48" cy="362.60" r="1.65" fill="#ec2a2c"/>
<circle cx="324.65" cy="376.20" r="1.65" fill="#ec2a2c"/>
<circle cx="334.11" cy="373.57" r="1.65" fill="#ec2a2c"/>
<circle cx="335.93" cy="376.51" r="1.65" fill="#ec2a2c"/>
<circle cx="331.50" cy="367.03" r="1.65" fill="#ec2a2c"/>
<circle cx="329.84" cy="360.23" r="1.65" fill="#ec2a2c"/>
<circle cx="335.13" cy="377.67" r="1.65" fill="#ec2a2c"/>
<circle cx="319.91" cy="363.42" r="1.65" fill="#ec2a2c"/>
<circle cx="344.06" cy="364.34" r="1.65" fill="#ec2a2c"/>
<circle cx="335.60" cy="373.82" r="1.65" fill="#ec2a2c"/>
<circle cx="323.39" cy="371.14" r="1.65" fill="#ec2a2c"/>
<circle cx="326.33" cy="377.61" r="1.65" fill="#ec2a2c"/>
<circle cx="325.20" cy="370.20" r="1.65" fill="#ec2a2c"/>
<circle cx="327.93" cy="360.60" r="1.65" fill="#ec2a2c"/>
<circle cx="342.69" cy="372.28" r="1.65" fill="#ec2a2c"/>
<circle cx="346.52" cy="374.78" r="1.65" fill="#ec2a2c"/>
<circle cx="368.56" cy="369.90" r="1.65" fill="#ec2a2c"/>
<circle cx="330.25" cy="375.51" r="1.65" fill="#ec2a2c"/>
<circle cx="344.41" cy="375.05" r="1.65" fill="#ec2a2c"/>
<circle cx="325.50" cy="361.98" r="1.65" fill="#ec2a2c"/>
<circle cx="341.52" cy="363.04" r="1.65" fill="#ec2a2c"/>
<circle cx="336.53" cy="368.20" r="1.65" fill="#ec2a2c"/>
<circle cx="348.99" cy="361.36" r="1.65" fill="#ec2a2c"/>
<circle cx="363.64" cy="364.93" r="1.65" fill="#ec2a2c"/>
<circle cx="329.97" cy="364.92" r="1.65" fill="#ec2a2c"/>
<circle cx="323.46" cy="365.08" r="1.65" fill="#ec2a2c"/>
<circle cx="336.56" cy="373.21" r="1.65" fill="#ec2a2c"/>
<circle cx="352.28" cy="371.82" r="1.65" fill="#ec2a2c"/>
<circle cx="339.98" cy="365.64" r="1.65" fill="#ec2a2c"/>
<circle cx="350.86" cy="373.98" r="1.65" fill="#ec2a2c"/>
<circle cx="339.09" cy="360.26" r="1.65" fill="#ec2a2c"/>
<circle cx="328.27" cy="377.98" r="1.65" fill="#ec2a2c"/>
<circle cx="335.71" cy="387.91" r="1.65" fill="#ec2a2c"/>
<circle cx="331.35" cy="393.59" r="1.65" fill="#ec2a2c"/>
<circle cx="328.71" cy="399.70" r="1.65" fill="#ec2a2c"/>
<circle cx="328.02" cy="382.84" r="1.65" fill="#ec2a2c"/>
<circle cx="339.63" cy="382.55" r="1.65" fill="#ec2a2c"/>
<circle cx="346.18" cy="389.08" r="1.65" fill="#ec2a2c"/>
<circle cx="326.96" cy="386.45" r="1.65" fill="#ec2a2c"/>
<circle cx="340.17" cy="399.67" r="1.65" fill="#ec2a2c"/>
<circle cx="337.93" cy="381.86" r="1.65" fill="#ec2a2c"/>
<circle cx="340.24" cy="398.77" r="1.65" fill="#ec2a2c"/>
<circle cx="334.55" cy="395.91" r="1.65" fill="#ec2a2c"/>
<circle cx="320.02" cy="395.25" r="1.65" fill="#ec2a2c"/>
<circle cx="338.43" cy="386.07" r="1.65" fill="#ec2a2c"/>
<circle cx="331.16" cy="394.12" r="1.65" fill="#ec2a2c"/>
<circle cx="331.82" cy="381.21" r="1.65" fill="#ec2a2c"/>
<circle cx="351.41" cy="382.44" r="1.65" fill="#ec2a2c"/>
<circle cx="344.92" cy="385.60" r="1.65" fill="#ec2a2c"/>
<circle cx="332.66" cy="393.08" r="1.65" fill="#ec2a2c"/>
<circle cx="336.58" cy="393.28" r="1.65" fill="#ec2a2c"/>
<circle cx="328.45" cy="390.80" r="1.65" fill="#ec2a2c"/>
<circle cx="346.57" cy="390.25" r="1.65" fill="#ec2a2c"/>
<circle cx="352.88" cy="391.71" r="1.65" fill="#ec2a2c"/>
<circle cx="337.56" cy="390.80" r="1.65" fill="#ec2a2c"/>
<circle cx="330.47" cy="383.46" r="1.65" fill="#ec2a2c"/>
<circle cx="352.86" cy="387.68" r="1.65" fill="#ec2a2c"/>
<circle cx="337.51" cy="392.99" r="1.65" fill="#ec2a2c"/>
<circle cx="326.78" cy="389.48" r="1.65" fill="#ec2a2c"/>
<circle cx="336.01" cy="382.55" r="1.65" fill="#ec2a2c"/>
<circle cx="344.42" cy="398.58" r="1.65" fill="#ec2a2c"/>
<circle cx="340.55" cy="391.63" r="1.65" fill="#ec2a2c"/>
<circle cx="351.40" cy="383.88" r="1.65" fill="#ec2a2c"/>
<circle cx="338.61" cy="394.42" r="1.65" fill="#ec2a2c"/>
<circle cx="347.30" cy="394.04" r="1.65" fill="#ec2a2c"/>
<circle cx="332.86" cy="380.47" r="1.65" fill="#ec2a2c"/>
<circle cx="355.65" cy="391.83" r="1.65" fill="#ec2a2c"/>
<circle cx="327.64" cy="392.82" r="1.65" fill="#ec2a2c"/>
<circle cx="340.36" cy="388.30" r="1.65" fill="#ec2a2c"/>
<circle cx="352.46" cy="380.73" r="1.65" fill="#ec2a2c"/>
<circle cx="335.09" cy="399.60" r="1.65" fill="#ec2a2c"/>
<circle cx="317.56" cy="382.79" r="1.65" fill="#ec2a2c"/>
<circle cx="335.58" cy="396.43" r="1.65" fill="#ec2a2c"/>
<circle cx="325.09" cy="394.13" r="1.65" fill="#ec2a2c"/>
<circle cx="345.88" cy="398.26" r="1.65" fill="#ec2a2c"/>
<circle cx="348.59" cy="397.25" r="1.65" fill="#ec2a2c"/>
<circle cx="334.38" cy="386.75" r="1.65" fill="#ec2a2c"/>
<circle cx="337.18" cy="414.36" r="1.65" fill="#ec2a2c"/>
<circle cx="341.61" cy="409.99" r="1.65" fill="#ec2a2c"/>
<circle cx="333.24" cy="407.27" r="1.65" fill="#ec2a2c"/>
<circle cx="355.94" cy="410.83" r="1.65" fill="#ec2a2c"/>
<circle cx="326.47" cy="415.54" r="1.65" fill="#ec2a2c"/>
<circle cx="349.97" cy="409.99" r="1.65" fill="#ec2a2c"/>
<circle cx="339.53" cy="401.24" r="1.65" fill="#ec2a2c"/>
<circle cx="348.54" cy="408.10" r="1.65" fill="#ec2a2c"/>
<circle cx="328.28" cy="406.25" r="1.65" fill="#ec2a2c"/>
<circle cx="329.42" cy="404.01" r="1.65" fill="#ec2a2c"/>
<circle cx="340.23" cy="400.76" r="1.65" fill="#ec2a2c"/>
<circle cx="354.18" cy="407.71" r="1.65" fill="#ec2a2c"/>
<circle cx="317.60" cy="340.20" r="1.65" fill="#ec2a2c"/>
<circle cx="372.60" cy="371.50" r="1.65" fill="#ec2a2c"/>
<circle cx="365.70" cy="354.30" r="1.65" fill="#ec2a2c"/>
<circle cx="364.00" cy="364.40" r="1.65" fill="#ec2a2c"/>
<circle cx="338.40" cy="417.80" r="1.65" fill="#ec2a2c"/>
<circle cx="365.30" cy="417.80" r="1.65" fill="#ec2a2c"/>
<circle cx="330.90" cy="420.60" r="1.65" fill="#ec2a2c"/>
<circle cx="367.80" cy="426.70" r="1.65" fill="#ec2a2c"/>
<circle cx="329.30" cy="438.00" r="1.65" fill="#ec2a2c"/>
<circle cx="356.00" cy="438.00" r="1.65" fill="#ec2a2c"/>
<circle cx="349.90" cy="444.90" r="1.65" fill="#ec2a2c"/>
<circle cx="335.00" cy="448.60" r="1.65" fill="#ec2a2c"/>
<circle cx="344.90" cy="456.30" r="1.65" fill="#ec2a2c"/>
<circle cx="374.00" cy="499.00" r="1.65" fill="#ec2a2c"/>
<path d="M330.55 343.58L332.64 346.90L328.47 346.90Z" fill="#2356cc"/>
<path d="M331.59 355.73L333.68 359.05L329.51 359.05Z" fill="#2356cc"/>
<path d="M335.42 347.96L337.51 351.28L333.33 351.28Z" fill="#2356cc"/>
<path d="M353.89 356.84L355.98 360.16L351.80 360.16Z" fill="#2356cc"/>
<path d="M337.61 357.92L339.70 361.25L335.52 361.25Z" fill="#2356cc"/>
<path d="M338.66 354.75L340.74 358.07L336.57 358.07Z" fill="#2356cc"/>
<path d="M333.31 356.64L335.40 359.96L331.22 359.96Z" fill="#2356cc"/>
<path d="M332.64 345.39L334.72 348.71L330.55 348.71Z" fill="#2356cc"/>
<path d="M338.60 345.78L340.69 349.10L336.52 349.10Z" fill="#2356cc"/>
<path d="M335.32 347.11L337.41 350.43L333.24 350.43Z" fill="#2356cc"/>
<path d="M315.73 354.22L317.82 357.54L313.64 357.54Z" fill="#2356cc"/>
<path d="M337.83 354.17L339.92 357.49L335.75 357.49Z" fill="#2356cc"/>
<path d="M325.24 358.02L327.33 361.34L323.15 361.34Z" fill="#2356cc"/>
<path d="M317.43 351.99L319.52 355.31L315.34 355.31Z" fill="#2356cc"/>
<path d="M330.55 345.16L332.64 348.48L328.46 348.48Z" fill="#2356cc"/>
<path d="M340.98 344.81L343.06 348.13L338.89 348.13Z" fill="#2356cc"/>
<path d="M325.18 350.68L327.27 354.00L323.10 354.00Z" fill="#2356cc"/>
<path d="M342.55 348.82L344.64 352.14L340.47 352.14Z" fill="#2356cc"/>
<path d="M325.15 351.48L327.23 354.80L323.06 354.80Z" fill="#2356cc"/>
<path d="M326.57 349.72L328.66 353.04L324.49 353.04Z" fill="#2356cc"/>
<path d="M331.39 352.21L333.47 355.53L329.30 355.53Z" fill="#2356cc"/>
<path d="M327.78 350.59L329.87 353.91L325.69 353.91Z" fill="#2356cc"/>
<path d="M328.23 352.87L330.32 356.19L326.14 356.19Z" fill="#2356cc"/>
<path d="M324.03 353.25L326.12 356.57L321.94 356.57Z" fill="#2356cc"/>
<path d="M330.63 343.98L332.71 347.30L328.54 347.30Z" fill="#2356cc"/>
<path d="M344.36 352.70L346.45 356.02L342.27 356.02Z" fill="#2356cc"/>
<path d="M322.08 357.03L324.16 360.35L319.99 360.35Z" fill="#2356cc"/>
<path d="M327.04 351.96L329.13 355.28L324.95 355.28Z" fill="#2356cc"/>
<path d="M338.00 348.34L340.09 351.66L335.91 351.66Z" fill="#2356cc"/>
<path d="M334.09 357.09L336.18 360.41L332.01 360.41Z" fill="#2356cc"/>
<path d="M327.31 377.41L329.40 380.73L325.23 380.73Z" fill="#2356cc"/>
<path d="M332.08 377.26L334.17 380.58L329.99 380.58Z" fill="#2356cc"/>
<path d="M335.44 375.29L337.53 378.61L333.35 378.61Z" fill="#2356cc"/>
<path d="M330.60 373.77L332.68 377.09L328.51 377.09Z" fill="#2356cc"/>
<path d="M330.18 371.49L332.27 374.81L328.09 374.81Z" fill="#2356cc"/>
<path d="M331.00 374.85L333.09 378.17L328.91 378.17Z" fill="#2356cc"/>
<path d="M334.29 376.03L336.38 379.35L332.21 379.35Z" fill="#2356cc"/>
<path d="M321.58 372.63L323.66 375.95L319.49 375.95Z" fill="#2356cc"/>
<path d="M335.14 363.23L337.23 366.55L333.05 366.55Z" fill="#2356cc"/>
<path d="M347.73 370.36L349.82 373.68L345.65 373.68Z" fill="#2356cc"/>
<path d="M352.29 366.38L354.38 369.70L350.21 369.70Z" fill="#2356cc"/>
<path d="M327.17 363.86L329.26 367.18L325.08 367.18Z" fill="#2356cc"/>
<path d="M326.61 373.15L328.70 376.47L324.52 376.47Z" fill="#2356cc"/>
<path d="M346.96 368.72L349.05 372.04L344.87 372.04Z" fill="#2356cc"/>
<path d="M338.20 362.44L340.29 365.76L336.11 365.76Z" fill="#2356cc"/>
<path d="M362.48 365.48L364.57 368.80L360.40 368.80Z" fill="#2356cc"/>
<path d="M328.56 367.78L330.65 371.10L326.48 371.10Z" fill="#2356cc"/>
<path d="M344.30 363.66L346.39 366.98L342.21 366.98Z" fill="#2356cc"/>
<path d="M328.63 377.87L330.71 381.19L326.54 381.19Z" fill="#2356cc"/>
<path d="M336.11 370.71L338.20 374.03L334.02 374.03Z" fill="#2356cc"/>
<path d="M359.69 370.42L361.77 373.74L357.60 373.74Z" fill="#2356cc"/>
<path d="M343.58 363.05L345.67 366.37L341.49 366.37Z" fill="#2356cc"/>
<path d="M319.72 369.22L321.80 372.54L317.63 372.54Z" fill="#2356cc"/>
<path d="M324.33 371.46L326.42 374.78L322.24 374.78Z" fill="#2356cc"/>
<path d="M344.51 375.28L346.60 378.60L342.42 378.60Z" fill="#2356cc"/>
<path d="M340.56 369.69L342.65 373.01L338.47 373.01Z" fill="#2356cc"/>
<path d="M349.54 369.47L351.62 372.79L347.45 372.79Z" fill="#2356cc"/>
<path d="M352.52 359.32L354.61 362.64L350.43 362.64Z" fill="#2356cc"/>
<path d="M333.30 370.63L335.39 373.95L331.21 373.95Z" fill="#2356cc"/>
<path d="M347.57 364.15L349.66 367.47L345.48 367.47Z" fill="#2356cc"/>
<path d="M328.27 373.69L330.36 377.01L326.18 377.01Z" fill="#2356cc"/>
<path d="M327.92 373.05L330.01 376.37L325.83 376.37Z" fill="#2356cc"/>
<path d="M355.63 362.00L357.72 365.33L353.54 365.33Z" fill="#2356cc"/>
<path d="M338.03 370.19L340.11 373.51L335.94 373.51Z" fill="#2356cc"/>
<path d="M341.09 360.16L343.18 363.49L339.00 363.49Z" fill="#2356cc"/>
<path d="M350.21 367.64L352.30 370.96L348.12 370.96Z" fill="#2356cc"/>
<path d="M334.50 364.82L336.59 368.14L332.42 368.14Z" fill="#2356cc"/>
<path d="M337.22 361.27L339.31 364.59L335.13 364.59Z" fill="#2356cc"/>
<path d="M340.30 363.10L342.39 366.42L338.21 366.42Z" fill="#2356cc"/>
<path d="M318.69 371.25L320.78 374.57L316.61 374.57Z" fill="#2356cc"/>
<path d="M318.33 363.82L320.41 367.14L316.24 367.14Z" fill="#2356cc"/>
<path d="M337.61 367.36L339.70 370.68L335.52 370.68Z" fill="#2356cc"/>
<path d="M354.25 389.23L356.34 392.55L352.17 392.55Z" fill="#2356cc"/>
<path d="M334.26 382.81L336.35 386.13L332.18 386.13Z" fill="#2356cc"/>
<path d="M319.81 386.21L321.90 389.53L317.73 389.53Z" fill="#2356cc"/>
<path d="M346.92 383.52L349.00 386.84L344.83 386.84Z" fill="#2356cc"/>
<path d="M340.36 397.89L342.45 401.21L338.27 401.21Z" fill="#2356cc"/>
<path d="M324.67 391.69L326.76 395.01L322.59 395.01Z" fill="#2356cc"/>
<path d="M342.41 378.88L344.49 382.20L340.32 382.20Z" fill="#2356cc"/>
<path d="M350.96 396.17L353.05 399.49L348.87 399.49Z" fill="#2356cc"/>
<path d="M340.86 382.07L342.95 385.39L338.77 385.39Z" fill="#2356cc"/>
<path d="M321.52 381.70L323.61 385.02L319.43 385.02Z" fill="#2356cc"/>
<path d="M345.49 391.79L347.58 395.12L343.40 395.12Z" fill="#2356cc"/>
<path d="M338.32 391.22L340.41 394.54L336.23 394.54Z" fill="#2356cc"/>
<path d="M343.68 388.30L345.77 391.63L341.59 391.63Z" fill="#2356cc"/>
<path d="M336.18 393.51L338.26 396.83L334.09 396.83Z" fill="#2356cc"/>
<path d="M346.80 395.22L348.89 398.54L344.72 398.54Z" fill="#2356cc"/>
<path d="M351.68 378.44L353.77 381.76L349.60 381.76Z" fill="#2356cc"/>
<path d="M333.20 383.24L335.29 386.56L331.11 386.56Z" fill="#2356cc"/>
<path d="M355.80 382.28L357.89 385.61L353.71 385.61Z" fill="#2356cc"/>
<path d="M334.79 378.72L336.87 382.04L332.70 382.04Z" fill="#2356cc"/>
<path d="M330.68 379.05L332.77 382.37L328.60 382.37Z" fill="#2356cc"/>
<path d="M341.93 381.81L344.02 385.13L339.85 385.13Z" fill="#2356cc"/>
<path d="M341.57 378.30L343.66 381.62L339.49 381.62Z" fill="#2356cc"/>
<path d="M322.08 394.24L324.17 397.56L320.00 397.56Z" fill="#2356cc"/>
<path d="M334.65 383.74L336.74 387.06L332.57 387.06Z" fill="#2356cc"/>
<path d="M342.13 389.80L344.22 393.12L340.05 393.12Z" fill="#2356cc"/>
<path d="M355.02 379.40L357.11 382.72L352.93 382.72Z" fill="#2356cc"/>
<path d="M363.46 397.30L365.54 400.62L361.37 400.62Z" fill="#2356cc"/>
<path d="M360.72 387.59L362.80 390.91L358.63 390.91Z" fill="#2356cc"/>
<path d="M337.68 385.17L339.77 388.50L335.59 388.50Z" fill="#2356cc"/>
<path d="M321.32 379.42L323.41 382.74L319.23 382.74Z" fill="#2356cc"/>
<path d="M325.57 398.03L327.65 401.35L323.48 401.35Z" fill="#2356cc"/>
<path d="M351.98 386.27L354.07 389.59L349.89 389.59Z" fill="#2356cc"/>
<path d="M346.02 384.32L348.10 387.64L343.93 387.64Z" fill="#2356cc"/>
<path d="M337.14 385.74L339.22 389.06L335.05 389.06Z" fill="#2356cc"/>
<path d="M321.98 385.49L324.06 388.81L319.89 388.81Z" fill="#2356cc"/>
<path d="M337.74 386.67L339.82 389.99L335.65 389.99Z" fill="#2356cc"/>
<path d="M368.30 378.32L370.39 381.64L366.21 381.64Z" fill="#2356cc"/>
<path d="M357.41 383.68L359.50 387.00L355.33 387.00Z" fill="#2356cc"/>
<path d="M358.32 386.57L360.41 389.89L356.23 389.89Z" fill="#2356cc"/>
<path d="M350.57 384.33L352.66 387.65L348.49 387.65Z" fill="#2356cc"/>
<path d="M326.60 392.57L328.69 395.89L324.52 395.89Z" fill="#2356cc"/>
<path d="M355.30 387.71L357.39 391.03L353.22 391.03Z" fill="#2356cc"/>
<path d="M354.58 393.01L356.67 396.34L352.49 396.34Z" fill="#2356cc"/>
<path d="M346.72 397.63L348.81 400.96L344.63 400.96Z" fill="#2356cc"/>
<path d="M342.66 405.24L344.74 408.56L340.57 408.56Z" fill="#2356cc"/>
<path d="M369.56 408.52L371.65 411.84L367.47 411.84Z" fill="#2356cc"/>
<path d="M356.43 412.55L358.52 415.87L354.34 415.87Z" fill="#2356cc"/>
<path d="M339.30 404.31L341.38 407.63L337.21 407.63Z" fill="#2356cc"/>
<path d="M355.63 402.81L357.72 406.13L353.54 406.13Z" fill="#2356cc"/>
<path d="M344.80 403.99L346.89 407.31L342.71 407.31Z" fill="#2356cc"/>
<path d="M343.64 398.98L345.73 402.30L341.55 402.30Z" fill="#2356cc"/>
<path d="M363.02 410.22L365.11 413.54L360.94 413.54Z" fill="#2356cc"/>
<path d="M336.25 406.53L338.33 409.85L334.16 409.85Z" fill="#2356cc"/>
<path d="M322.41 412.77L324.49 416.09L320.32 416.09Z" fill="#2356cc"/>
<path d="M343.00 399.66L345.09 402.98L340.91 402.98Z" fill="#2356cc"/>
<path d="M362.04 404.67L364.13 407.99L359.96 407.99Z" fill="#2356cc"/>
<path d="M353.74 408.83L355.83 412.15L351.66 412.15Z" fill="#2356cc"/>
<path d="M341.77 405.76L343.86 409.08L339.68 409.08Z" fill="#2356cc"/>
<path d="M364.27 409.97L366.36 413.29L362.18 413.29Z" fill="#2356cc"/>
<path d="M345.78 412.66L347.86 415.98L343.69 415.98Z" fill="#2356cc"/>
<path d="M344.31 406.16L346.40 409.48L342.22 409.48Z" fill="#2356cc"/>
<path d="M336.83 398.25L338.92 401.57L334.74 401.57Z" fill="#2356cc"/>
<path d="M341.01 406.86L343.10 410.18L338.93 410.18Z" fill="#2356cc"/>
<path d="M396.00 349.00L398.09 352.32L393.91 352.32Z" fill="#2356cc"/>
<path d="M373.20 352.00L375.29 355.32L371.11 355.32Z" fill="#2356cc"/>
<path d="M367.70 369.60L369.79 372.92L365.61 372.92Z" fill="#2356cc"/>
<path d="M364.50 376.70L366.59 380.02L362.41 380.02Z" fill="#2356cc"/>
<path d="M333.30 415.90L335.39 419.22L331.21 419.22Z" fill="#2356cc"/>
<path d="M369.80 415.90L371.89 419.22L367.71 419.22Z" fill="#2356cc"/>
<path d="M363.70 421.40L365.79 424.72L361.61 424.72Z" fill="#2356cc"/>
<path d="M337.40 424.80L339.49 428.12L335.31 428.12Z" fill="#2356cc"/>
<path d="M350.50 424.80L352.59 428.12L348.41 428.12Z" fill="#2356cc"/>
<path d="M338.40 427.50L340.49 430.82L336.31 430.82Z" fill="#2356cc"/>
<path d="M358.60 436.10L360.69 439.42L356.51 439.42Z" fill="#2356cc"/>
<path d="M363.70 436.10L365.79 439.42L361.61 439.42Z" fill="#2356cc"/>
<path d="M336.40 443.00L338.49 446.32L334.31 446.32Z" fill="#2356cc"/>
<path d="M319.92 360.15L322.01 356.83L317.83 356.83Z" fill="#22955c"/>
<path d="M333.70 359.13L335.78 355.81L331.61 355.81Z" fill="#22955c"/>
<path d="M336.91 349.04L339.00 345.72L334.82 345.72Z" fill="#22955c"/>
<path d="M347.56 356.08L349.65 352.76L345.47 352.76Z" fill="#22955c"/>
<path d="M319.50 356.09L321.58 352.77L317.41 352.77Z" fill="#22955c"/>
<path d="M356.31 355.58L358.40 352.26L354.23 352.26Z" fill="#22955c"/>
<path d="M346.58 350.91L348.67 347.59L344.49 347.59Z" fill="#22955c"/>
<path d="M329.82 360.63L331.91 357.31L327.73 357.31Z" fill="#22955c"/>
<path d="M321.13 344.99L323.22 341.67L319.04 341.67Z" fill="#22955c"/>
<path d="M323.57 357.36L325.66 354.03L321.48 354.03Z" fill="#22955c"/>
<path d="M330.56 351.13L332.65 347.81L328.47 347.81Z" fill="#22955c"/>
<path d="M349.29 345.85L351.38 342.53L347.21 342.53Z" fill="#22955c"/>
<path d="M334.62 357.06L336.71 353.74L332.54 353.74Z" fill="#22955c"/>
<path d="M340.22 357.11L342.31 353.79L338.14 353.79Z" fill="#22955c"/>
<path d="M334.92 358.78L337.00 355.46L332.83 355.46Z" fill="#22955c"/>
<path d="M323.64 350.44L325.73 347.12L321.55 347.12Z" fill="#22955c"/>
<path d="M344.63 347.98L346.71 344.65L342.54 344.65Z" fill="#22955c"/>
<path d="M333.76 353.52L335.84 350.20L331.67 350.20Z" fill="#22955c"/>
<path d="M338.97 354.80L341.05 351.48L336.88 351.48Z" fill="#22955c"/>
<path d="M338.96 355.80L341.05 352.48L336.87 352.48Z" fill="#22955c"/>
<path d="M338.47 345.34L340.55 342.02L336.38 342.02Z" fill="#22955c"/>
<path d="M336.67 346.96L338.76 343.63L334.59 343.63Z" fill="#22955c"/>
<path d="M335.85 352.76L337.94 349.44L333.76 349.44Z" fill="#22955c"/>
<path d="M344.82 351.61L346.91 348.29L342.74 348.29Z" fill="#22955c"/>
<path d="M339.37 347.22L341.46 343.90L337.28 343.90Z" fill="#22955c"/>
<path d="M331.07 357.71L333.16 354.39L328.99 354.39Z" fill="#22955c"/>
<path d="M331.63 354.99L333.71 351.67L329.54 351.67Z" fill="#22955c"/>
<path d="M330.46 348.96L332.55 345.64L328.37 345.64Z" fill="#22955c"/>
<path d="M332.36 357.20L334.45 353.88L330.27 353.88Z" fill="#22955c"/>
<path d="M318.17 345.60L320.26 342.28L316.09 342.28Z" fill="#22955c"/>
<path d="M359.86 358.73L361.95 355.41L357.78 355.41Z" fill="#22955c"/>
<path d="M329.53 355.06L331.62 351.74L327.44 351.74Z" fill="#22955c"/>
<path d="M348.96 345.38L351.04 342.06L346.87 342.06Z" fill="#22955c"/>
<path d="M327.63 356.51L329.72 353.19L325.54 353.19Z" fill="#22955c"/>
<path d="M328.48 347.40L330.57 344.08L326.40 344.08Z" fill="#22955c"/>
<path d="M340.80 353.81L342.89 350.49L338.71 350.49Z" fill="#22955c"/>
<path d="M333.93 352.31L336.01 348.99L331.84 348.99Z" fill="#22955c"/>
<path d="M338.12 349.63L340.21 346.31L336.03 346.31Z" fill="#22955c"/>
<path d="M332.46 345.47L334.54 342.15L330.37 342.15Z" fill="#22955c"/>
<path d="M343.27 346.17L345.36 342.85L341.18 342.85Z" fill="#22955c"/>
<path d="M327.98 357.33L330.07 354.01L325.89 354.01Z" fill="#22955c"/>
<path d="M347.51 348.56L349.60 345.24L345.42 345.24Z" fill="#22955c"/>
<path d="M345.98 360.59L348.07 357.27L343.89 357.27Z" fill="#22955c"/>
<path d="M323.61 357.68L325.70 354.36L321.52 354.36Z" fill="#22955c"/>
<path d="M342.88 352.35L344.96 349.03L340.79 349.03Z" fill="#22955c"/>
<path d="M332.36 354.27L334.45 350.95L330.27 350.95Z" fill="#22955c"/>
<path d="M326.39 360.97L328.48 357.65L324.30 357.65Z" fill="#22955c"/>
<path d="M332.31 354.36L334.40 351.04L330.22 351.04Z" fill="#22955c"/>
<path d="M340.48 359.54L342.57 356.22L338.39 356.22Z" fill="#22955c"/>
<path d="M322.02 378.69L324.11 375.37L319.93 375.37Z" fill="#22955c"/>
<path d="M347.88 367.63L349.97 364.30L345.80 364.30Z" fill="#22955c"/>
<path d="M333.93 375.16L336.01 371.84L331.84 371.84Z" fill="#22955c"/>
<path d="M350.93 380.33L353.02 377.01L348.84 377.01Z" fill="#22955c"/>
<path d="M330.92 381.32L333.01 378.00L328.83 378.00Z" fill="#22955c"/>
<path d="M338.42 372.57L340.51 369.25L336.33 369.25Z" fill="#22955c"/>
<path d="M355.21 373.01L357.30 369.69L353.13 369.69Z" fill="#22955c"/>
<path d="M331.00 367.60L333.09 364.28L328.91 364.28Z" fill="#22955c"/>
<path d="M363.52 376.20L365.60 372.88L361.43 372.88Z" fill="#22955c"/>
<path d="M348.24 370.31L350.33 366.99L346.15 366.99Z" fill="#22955c"/>
<path d="M343.62 367.32L345.70 364.00L341.53 364.00Z" fill="#22955c"/>
<path d="M344.02 373.53L346.10 370.21L341.93 370.21Z" fill="#22955c"/>
<path d="M344.20 376.10L346.29 372.78L342.12 372.78Z" fill="#22955c"/>
<path d="M323.62 375.12L325.70 371.80L321.53 371.80Z" fill="#22955c"/>
<path d="M335.65 372.77L337.74 369.45L333.56 369.45Z" fill="#22955c"/>
<path d="M337.89 373.38L339.98 370.06L335.80 370.06Z" fill="#22955c"/>
<path d="M350.57 380.32L352.66 377.00L348.48 377.00Z" fill="#22955c"/>
<path d="M330.61 369.74L332.69 366.42L328.52 366.42Z" fill="#22955c"/>
<path d="M320.97 378.35L323.05 375.03L318.88 375.03Z" fill="#22955c"/>
<path d="M325.96 381.35L328.05 378.03L323.88 378.03Z" fill="#22955c"/>
<path d="M324.50 377.25L326.59 373.93L322.42 373.93Z" fill="#22955c"/>
<path d="M324.75 373.97L326.84 370.65L322.66 370.65Z" fill="#22955c"/>
<path d="M340.86 367.94L342.95 364.62L338.77 364.62Z" fill="#22955c"/>
<path d="M320.02 364.86L322.11 361.54L317.93 361.54Z" fill="#22955c"/>
<path d="M317.88 372.60L319.96 369.28L315.79 369.28Z" fill="#22955c"/>
<path d="M327.19 362.86L329.28 359.54L325.10 359.54Z" fill="#22955c"/>
<path d="M345.71 380.60L347.80 377.27L343.62 377.27Z" fill="#22955c"/>
<path d="M321.97 381.33L324.06 378.01L319.89 378.01Z" fill="#22955c"/>
<path d="M351.78 369.65L353.87 366.33L349.69 366.33Z" fill="#22955c"/>
<path d="M329.51 363.87L331.59 360.55L327.42 360.55Z" fill="#22955c"/>
<path d="M332.01 380.55L334.09 377.23L329.92 377.23Z" fill="#22955c"/>
<path d="M340.37 367.68L342.45 364.36L338.28 364.36Z" fill="#22955c"/>
<path d="M324.10 379.40L326.19 376.08L322.02 376.08Z" fill="#22955c"/>
<path d="M327.60 373.78L329.69 370.46L325.51 370.46Z" fill="#22955c"/>
<path d="M349.64 364.38L351.72 361.06L347.55 361.06Z" fill="#22955c"/>
<path d="M341.25 380.98L343.34 377.66L339.16 377.66Z" fill="#22955c"/>
<path d="M327.25 373.00L329.34 369.67L325.16 369.67Z" fill="#22955c"/>
<path d="M354.15 381.39L356.24 378.07L352.07 378.07Z" fill="#22955c"/>
<path d="M337.17 377.61L339.26 374.29L335.08 374.29Z" fill="#22955c"/>
<path d="M347.72 364.23L349.81 360.91L345.63 360.91Z" fill="#22955c"/>
<path d="M346.79 363.22L348.87 359.90L344.70 359.90Z" fill="#22955c"/>
<path d="M338.30 374.97L340.39 371.65L336.21 371.65Z" fill="#22955c"/>
<path d="M334.97 368.47L337.06 365.15L332.88 365.15Z" fill="#22955c"/>
<path d="M323.50 362.53L325.59 359.20L321.42 359.20Z" fill="#22955c"/>
<path d="M364.53 373.49L366.61 370.17L362.44 370.17Z" fill="#22955c"/>
<path d="M342.06 366.31L344.15 362.99L339.98 362.99Z" fill="#22955c"/>
<path d="M322.41 373.30L324.50 369.98L320.32 369.98Z" fill="#22955c"/>
<path d="M331.19 368.93L333.28 365.61L329.10 365.61Z" fill="#22955c"/>
<path d="M336.42 368.18L338.51 364.86L334.33 364.86Z" fill="#22955c"/>
<path d="M321.02 370.33L323.10 367.01L318.93 367.01Z" fill="#22955c"/>
<path d="M324.16 369.66L326.24 366.34L322.07 366.34Z" fill="#22955c"/>
<path d="M344.44 363.32L346.53 360.00L342.35 360.00Z" fill="#22955c"/>
<path d="M332.44 366.74L334.53 363.42L330.35 363.42Z" fill="#22955c"/>
<path d="M328.27 380.86L330.35 377.54L326.18 377.54Z" fill="#22955c"/>
<path d="M345.18 381.20L347.27 377.88L343.10 377.88Z" fill="#22955c"/>
<path d="M345.56 380.29L347.65 376.97L343.48 376.97Z" fill="#22955c"/>
<path d="M342.37 375.71L344.46 372.39L340.28 372.39Z" fill="#22955c"/>
<path d="M356.62 362.54L358.70 359.22L354.53 359.22Z" fill="#22955c"/>
<path d="M328.61 375.47L330.69 372.15L326.52 372.15Z" fill="#22955c"/>
<path d="M329.91 366.61L332.00 363.29L327.82 363.29Z" fill="#22955c"/>
<path d="M339.56 390.65L341.64 387.33L337.47 387.33Z" fill="#22955c"/>
<path d="M327.65 385.57L329.73 382.25L325.56 382.25Z" fill="#22955c"/>
<path d="M341.70 392.92L343.79 389.60L339.61 389.60Z" fill="#22955c"/>
<path d="M342.04 394.64L344.13 391.32L339.95 391.32Z" fill="#22955c"/>
<path d="M340.51 386.50L342.60 383.18L338.43 383.18Z" fill="#22955c"/>
<path d="M353.91 393.36L356.00 390.04L351.82 390.04Z" fill="#22955c"/>
<path d="M345.82 390.44L347.91 387.12L343.73 387.12Z" fill="#22955c"/>
<path d="M346.67 394.00L348.76 390.68L344.58 390.68Z" fill="#22955c"/>
<path d="M368.78 401.81L370.86 398.49L366.69 398.49Z" fill="#22955c"/>
<path d="M343.71 388.81L345.80 385.49L341.62 385.49Z" fill="#22955c"/>
<path d="M325.83 399.03L327.92 395.71L323.75 395.71Z" fill="#22955c"/>
<path d="M340.18 394.73L342.27 391.41L338.10 391.41Z" fill="#22955c"/>
<path d="M338.13 384.54L340.22 381.21L336.04 381.21Z" fill="#22955c"/>
<path d="M344.14 386.32L346.22 383.00L342.05 383.00Z" fill="#22955c"/>
<path d="M348.25 392.52L350.34 389.20L346.17 389.20Z" fill="#22955c"/>
<path d="M343.76 389.57L345.85 386.24L341.68 386.24Z" fill="#22955c"/>
<path d="M342.01 382.10L344.10 378.78L339.93 378.78Z" fill="#22955c"/>
<path d="M327.85 396.15L329.94 392.83L325.76 392.83Z" fill="#22955c"/>
<path d="M338.92 392.56L341.01 389.24L336.83 389.24Z" fill="#22955c"/>
<path d="M342.06 392.81L344.15 389.49L339.97 389.49Z" fill="#22955c"/>
<path d="M337.39 384.21L339.48 380.89L335.30 380.89Z" fill="#22955c"/>
<path d="M344.53 385.07L346.61 381.75L342.44 381.75Z" fill="#22955c"/>
<path d="M349.89 396.73L351.98 393.40L347.81 393.40Z" fill="#22955c"/>
<path d="M348.08 387.87L350.16 384.55L345.99 384.55Z" fill="#22955c"/>
<path d="M348.52 392.22L350.60 388.90L346.43 388.90Z" fill="#22955c"/>
<path d="M347.19 395.00L349.27 391.68L345.10 391.68Z" fill="#22955c"/>
<path d="M361.22 387.30L363.31 383.98L359.14 383.98Z" fill="#22955c"/>
<path d="M358.14 399.74L360.22 396.42L356.05 396.42Z" fill="#22955c"/>
<path d="M330.63 388.01L332.72 384.69L328.54 384.69Z" fill="#22955c"/>
<path d="M342.00 385.46L344.09 382.14L339.92 382.14Z" fill="#22955c"/>
<path d="M334.53 388.17L336.62 384.84L332.45 384.84Z" fill="#22955c"/>
<path d="M334.74 400.78L336.83 397.46L332.65 397.46Z" fill="#22955c"/>
<path d="M343.07 384.54L345.16 381.22L340.99 381.22Z" fill="#22955c"/>
<path d="M325.91 399.55L328.00 396.23L323.83 396.23Z" fill="#22955c"/>
<path d="M337.52 392.10L339.61 388.78L335.43 388.78Z" fill="#22955c"/>
<path d="M365.22 398.10L367.31 394.78L363.13 394.78Z" fill="#22955c"/>
<path d="M347.68 401.49L349.77 398.17L345.59 398.17Z" fill="#22955c"/>
<path d="M339.36 392.37L341.45 389.05L337.27 389.05Z" fill="#22955c"/>
<path d="M354.98 400.48L357.07 397.16L352.89 397.16Z" fill="#22955c"/>
<path d="M350.41 384.76L352.50 381.44L348.33 381.44Z" fill="#22955c"/>
<path d="M329.72 400.89L331.81 397.57L327.63 397.57Z" fill="#22955c"/>
<path d="M347.48 395.84L349.57 392.52L345.39 392.52Z" fill="#22955c"/>
<path d="M344.94 386.28L347.02 382.96L342.85 382.96Z" fill="#22955c"/>
<path d="M328.17 398.56L330.26 395.24L326.08 395.24Z" fill="#22955c"/>
<path d="M331.32 393.98L333.41 390.66L329.23 390.66Z" fill="#22955c"/>
<path d="M346.19 383.75L348.28 380.43L344.11 380.43Z" fill="#22955c"/>
<path d="M322.29 383.29L324.38 379.97L320.21 379.97Z" fill="#22955c"/>
<path d="M343.07 390.16L345.16 386.84L340.99 386.84Z" fill="#22955c"/>
<path d="M331.91 385.53L333.99 382.21L329.82 382.21Z" fill="#22955c"/>
<path d="M337.81 396.13L339.90 392.81L335.72 392.81Z" fill="#22955c"/>
<path d="M335.96 389.92L338.04 386.60L333.87 386.60Z" fill="#22955c"/>
<path d="M327.89 388.86L329.97 385.54L325.80 385.54Z" fill="#22955c"/>
<path d="M350.56 413.74L352.64 410.42L348.47 410.42Z" fill="#22955c"/>
<path d="M359.45 415.74L361.53 412.42L357.36 412.42Z" fill="#22955c"/>
<path d="M360.78 411.61L362.87 408.29L358.69 408.29Z" fill="#22955c"/>
<path d="M337.70 413.14L339.79 409.82L335.61 409.82Z" fill="#22955c"/>
<path d="M353.81 411.10L355.90 407.78L351.72 407.78Z" fill="#22955c"/>
<path d="M360.14 405.52L362.23 402.20L358.05 402.20Z" fill="#22955c"/>
<path d="M361.34 412.97L363.42 409.65L359.25 409.65Z" fill="#22955c"/>
<path d="M329.53 413.01L331.62 409.69L327.44 409.69Z" fill="#22955c"/>
<path d="M337.49 414.96L339.58 411.64L335.40 411.64Z" fill="#22955c"/>
<path d="M336.97 413.22L339.05 409.90L334.88 409.90Z" fill="#22955c"/>
<path d="M346.14 412.92L348.23 409.60L344.06 409.60Z" fill="#22955c"/>
<path d="M364.38 411.97L366.47 408.64L362.29 408.64Z" fill="#22955c"/>
<path d="M340.51 412.40L342.60 409.08L338.42 409.08Z" fill="#22955c"/>
<path d="M350.95 408.58L353.04 405.26L348.86 405.26Z" fill="#22955c"/>
<path d="M343.65 414.87L345.73 411.55L341.56 411.55Z" fill="#22955c"/>
<path d="M342.81 416.62L344.89 413.30L340.72 413.30Z" fill="#22955c"/>
<path d="M338.36 416.10L340.45 412.78L336.27 412.78Z" fill="#22955c"/>
<path d="M355.86 415.46L357.94 412.14L353.77 412.14Z" fill="#22955c"/>
<path d="M356.94 406.47L359.03 403.15L354.85 403.15Z" fill="#22955c"/>
<path d="M351.97 416.24L354.06 412.92L349.89 412.92Z" fill="#22955c"/>
<path d="M357.94 408.62L360.03 405.30L355.85 405.30Z" fill="#22955c"/>
<path d="M336.46 406.37L338.55 403.05L334.38 403.05Z" fill="#22955c"/>
<path d="M339.48 403.98L341.57 400.66L337.39 400.66Z" fill="#22955c"/>
<path d="M352.79 416.39L354.88 413.07L350.70 413.07Z" fill="#22955c"/>
<path d="M333.48 403.65L335.57 400.32L331.39 400.32Z" fill="#22955c"/>
<path d="M339.10 412.47L341.19 409.15L337.02 409.15Z" fill="#22955c"/>
<path d="M361.25 403.42L363.34 400.10L359.16 400.10Z" fill="#22955c"/>
<path d="M339.10 404.43L341.19 401.11L337.02 401.11Z" fill="#22955c"/>
<path d="M334.00 335.40L336.09 332.08L331.91 332.08Z" fill="#22955c"/>
<path d="M329.00 342.10L331.09 338.78L326.91 338.78Z" fill="#22955c"/>
<path d="M331.00 342.10L333.09 338.78L328.91 338.78Z" fill="#22955c"/>
<path d="M361.70 419.70L363.79 416.38L359.61 416.38Z" fill="#22955c"/>
<path d="M335.00 422.50L337.09 419.18L332.91 419.18Z" fill="#22955c"/>
<path d="M358.60 425.20L360.69 421.88L356.51 421.88Z" fill="#22955c"/>
<path d="M354.60 431.30L356.69 427.98L352.51 427.98Z" fill="#22955c"/>
<path d="M346.50 439.90L348.59 436.58L344.41 436.58Z" fill="#22955c"/>
<path d="M351.60 439.90L353.69 436.58L349.51 436.58Z" fill="#22955c"/>
<path d="M342.90 446.80L344.99 443.48L340.81 443.48Z" fill="#22955c"/>
<path d="M337.80 450.50L339.89 447.18L335.71 447.18Z" fill="#22955c"/>
<path d="M322.80 458.20L324.89 454.88L320.71 454.88Z" fill="#22955c"/>
<path d="M345.50 500.90L347.59 497.58L343.41 497.58Z" fill="#22955c"/>
<path d="M347.36 356.68L349.42 358.74L347.36 360.81L345.30 358.74Z" fill="#a868ec"/>
<path d="M341.20 354.44L343.26 356.50L341.20 358.56L339.14 356.50Z" fill="#a868ec"/>
<path d="M341.27 356.74L343.33 358.81L341.27 360.87L339.21 358.81Z" fill="#a868ec"/>
<path d="M338.54 346.01L340.60 348.07L338.54 350.14L336.48 348.07Z" fill="#a868ec"/>
<path d="M317.50 357.49L319.56 359.55L317.50 361.61L315.43 359.55Z" fill="#a868ec"/>
<path d="M345.72 355.36L347.78 357.42L345.72 359.48L343.66 357.42Z" fill="#a868ec"/>
<path d="M338.57 353.86L340.63 355.93L338.57 357.99L336.50 355.93Z" fill="#a868ec"/>
<path d="M341.28 346.98L343.34 349.05L341.28 351.11L339.21 349.05Z" fill="#a868ec"/>
<path d="M324.93 346.88L326.99 348.94L324.93 351.00L322.86 348.94Z" fill="#a868ec"/>
<path d="M325.62 341.59L327.68 343.65L325.62 345.71L323.56 343.65Z" fill="#a868ec"/>
<path d="M324.79 357.19L326.85 359.26L324.79 361.32L322.73 359.26Z" fill="#a868ec"/>
<path d="M320.31 349.60L322.37 351.66L320.31 353.73L318.25 351.66Z" fill="#a868ec"/>
<path d="M348.15 348.42L350.21 350.48L348.15 352.55L346.08 350.48Z" fill="#a868ec"/>
<path d="M321.74 350.67L323.81 352.74L321.74 354.80L319.68 352.74Z" fill="#a868ec"/>
<path d="M337.64 343.28L339.70 345.34L337.64 347.40L335.58 345.34Z" fill="#a868ec"/>
<path d="M332.78 351.25L334.84 353.31L332.78 355.37L330.72 353.31Z" fill="#a868ec"/>
<path d="M346.08 356.92L348.14 358.99L346.08 361.05L344.02 358.99Z" fill="#a868ec"/>
<path d="M351.02 346.24L353.08 348.30L351.02 350.36L348.95 348.30Z" fill="#a868ec"/>
<path d="M331.95 352.05L334.01 354.12L331.95 356.18L329.89 354.12Z" fill="#a868ec"/>
<path d="M326.48 346.79L328.54 348.86L326.48 350.92L324.42 348.86Z" fill="#a868ec"/>
<path d="M321.39 354.88L323.45 356.94L321.39 359.00L319.32 356.94Z" fill="#a868ec"/>
<path d="M343.95 347.05L346.01 349.11L343.95 351.17L341.88 349.11Z" fill="#a868ec"/>
<path d="M339.26 344.44L341.33 346.51L339.26 348.57L337.20 346.51Z" fill="#a868ec"/>
<path d="M345.48 356.41L347.54 358.47L345.48 360.53L343.41 358.47Z" fill="#a868ec"/>
<path d="M333.84 342.91L335.90 344.97L333.84 347.03L331.77 344.97Z" fill="#a868ec"/>
<path d="M335.99 355.18L338.05 357.24L335.99 359.30L333.92 357.24Z" fill="#a868ec"/>
<path d="M328.77 340.96L330.83 343.02L328.77 345.08L326.71 343.02Z" fill="#a868ec"/>
<path d="M319.03 347.87L321.09 349.94L319.03 352.00L316.97 349.94Z" fill="#a868ec"/>
<path d="M332.39 344.48L334.45 346.54L332.39 348.60L330.33 346.54Z" fill="#a868ec"/>
<path d="M326.42 347.02L328.48 349.08L326.42 351.14L324.36 349.08Z" fill="#a868ec"/>
<path d="M316.38 345.00L318.44 347.06L316.38 349.12L314.32 347.06Z" fill="#a868ec"/>
<path d="M353.24 348.96L355.30 351.02L353.24 353.08L351.18 351.02Z" fill="#a868ec"/>
<path d="M334.28 350.59L336.34 352.65L334.28 354.72L332.22 352.65Z" fill="#a868ec"/>
<path d="M318.13 344.98L320.19 347.04L318.13 349.10L316.07 347.04Z" fill="#a868ec"/>
<path d="M347.68 350.51L349.74 352.57L347.68 354.63L345.61 352.57Z" fill="#a868ec"/>
<path d="M344.12 353.14L346.18 355.20L344.12 357.26L342.05 355.20Z" fill="#a868ec"/>
<path d="M321.22 350.55L323.28 352.61L321.22 354.67L319.16 352.61Z" fill="#a868ec"/>
<path d="M328.46 347.18L330.53 349.24L328.46 351.30L326.40 349.24Z" fill="#a868ec"/>
<path d="M350.68 346.99L352.74 349.06L350.68 351.12L348.61 349.06Z" fill="#a868ec"/>
<path d="M341.34 346.56L343.40 348.62L341.34 350.68L339.28 348.62Z" fill="#a868ec"/>
<path d="M344.15 342.86L346.22 344.92L344.15 346.98L342.09 344.92Z" fill="#a868ec"/>
<path d="M348.97 341.13L351.03 343.19L348.97 345.25L346.90 343.19Z" fill="#a868ec"/>
<path d="M333.31 349.21L335.37 351.27L333.31 353.33L331.25 351.27Z" fill="#a868ec"/>
<path d="M329.66 342.26L331.72 344.32L329.66 346.38L327.59 344.32Z" fill="#a868ec"/>
<path d="M348.86 343.97L350.92 346.03L348.86 348.09L346.79 346.03Z" fill="#a868ec"/>
<path d="M329.10 356.61L331.16 358.67L329.10 360.73L327.04 358.67Z" fill="#a868ec"/>
<path d="M332.13 357.41L334.19 359.48L332.13 361.54L330.07 359.48Z" fill="#a868ec"/>
<path d="M333.56 347.82L335.62 349.89L333.56 351.95L331.50 349.89Z" fill="#a868ec"/>
<path d="M339.30 352.46L341.36 354.53L339.30 356.59L337.24 354.53Z" fill="#a868ec"/>
<path d="M329.28 356.77L331.34 358.83L329.28 360.90L327.21 358.83Z" fill="#a868ec"/>
<path d="M322.00 350.44L324.06 352.50L322.00 354.56L319.94 352.50Z" fill="#a868ec"/>
<path d="M351.72 349.93L353.78 351.99L351.72 354.05L349.65 351.99Z" fill="#a868ec"/>
<path d="M348.12 341.10L350.18 343.17L348.12 345.23L346.06 343.17Z" fill="#a868ec"/>
<path d="M334.48 351.75L336.54 353.81L334.48 355.87L332.42 353.81Z" fill="#a868ec"/>
<path d="M355.12 350.37L357.18 352.43L355.12 354.49L353.06 352.43Z" fill="#a868ec"/>
<path d="M338.12 341.78L340.18 343.84L338.12 345.90L336.05 343.84Z" fill="#a868ec"/>
<path d="M355.34 345.59L357.41 347.66L355.34 349.72L353.28 347.66Z" fill="#a868ec"/>
<path d="M354.60 342.03L356.67 344.09L354.60 346.15L352.54 344.09Z" fill="#a868ec"/>
<path d="M330.87 367.04L332.93 369.10L330.87 371.16L328.80 369.10Z" fill="#a868ec"/>
<path d="M335.00 377.39L337.06 379.45L335.00 381.51L332.93 379.45Z" fill="#a868ec"/>
<path d="M361.83 368.89L363.89 370.95L361.83 373.01L359.76 370.95Z" fill="#a868ec"/>
<path d="M340.14 371.22L342.20 373.28L340.14 375.34L338.08 373.28Z" fill="#a868ec"/>
<path d="M347.55 366.56L349.62 368.62L347.55 370.69L345.49 368.62Z" fill="#a868ec"/>
<path d="M335.66 372.48L337.73 374.55L335.66 376.61L333.60 374.55Z" fill="#a868ec"/>
<path d="M333.95 362.42L336.01 364.48L333.95 366.54L331.88 364.48Z" fill="#a868ec"/>
<path d="M342.29 373.01L344.35 375.07L342.29 377.14L340.23 375.07Z" fill="#a868ec"/>
<path d="M336.84 373.13L338.90 375.19L336.84 377.25L334.77 375.19Z" fill="#a868ec"/>
<path d="M332.92 365.75L334.98 367.82L332.92 369.88L330.85 367.82Z" fill="#a868ec"/>
<path d="M337.12 374.35L339.18 376.41L337.12 378.47L335.06 376.41Z" fill="#a868ec"/>
<path d="M341.56 361.65L343.63 363.72L341.56 365.78L339.50 363.72Z" fill="#a868ec"/>
<path d="M338.34 365.69L340.40 367.75L338.34 369.81L336.28 367.75Z" fill="#a868ec"/>
<path d="M341.97 370.98L344.04 373.04L341.97 375.10L339.91 373.04Z" fill="#a868ec"/>
<path d="M336.51 375.32L338.57 377.38L336.51 379.44L334.44 377.38Z" fill="#a868ec"/>
<path d="M328.77 368.97L330.83 371.03L328.77 373.09L326.71 371.03Z" fill="#a868ec"/>
<path d="M334.14 364.51L336.20 366.57L334.14 368.63L332.08 366.57Z" fill="#a868ec"/>
<path d="M342.84 360.20L344.90 362.27L342.84 364.33L340.77 362.27Z" fill="#a868ec"/>
<path d="M333.01 360.92L335.07 362.98L333.01 365.04L330.95 362.98Z" fill="#a868ec"/>
<path d="M345.10 373.54L347.16 375.60L345.10 377.66L343.03 375.60Z" fill="#a868ec"/>
<path d="M369.51 367.98L371.57 370.04L369.51 372.10L367.45 370.04Z" fill="#a868ec"/>
<path d="M333.92 370.97L335.98 373.03L333.92 375.09L331.86 373.03Z" fill="#a868ec"/>
<path d="M352.56 370.64L354.63 372.70L352.56 374.76L350.50 372.70Z" fill="#a868ec"/>
<path d="M361.12 359.88L363.19 361.94L361.12 364.01L359.06 361.94Z" fill="#a868ec"/>
<path d="M331.66 368.40L333.73 370.46L331.66 372.52L329.60 370.46Z" fill="#a868ec"/>
<path d="M331.09 367.99L333.15 370.05L331.09 372.11L329.03 370.05Z" fill="#a868ec"/>
<path d="M343.15 373.29L345.22 375.35L343.15 377.42L341.09 375.35Z" fill="#a868ec"/>
<path d="M332.06 371.36L334.13 373.43L332.06 375.49L330.00 373.43Z" fill="#a868ec"/>
<path d="M329.85 377.46L331.91 379.52L329.85 381.58L327.79 379.52Z" fill="#a868ec"/>
<path d="M349.97 366.03L352.03 368.10L349.97 370.16L347.91 368.10Z" fill="#a868ec"/>
<path d="M333.17 365.71L335.23 367.77L333.17 369.83L331.11 367.77Z" fill="#a868ec"/>
<path d="M336.45 366.39L338.52 368.46L336.45 370.52L334.39 368.46Z" fill="#a868ec"/>
<path d="M352.82 363.60L354.89 365.66L352.82 367.72L350.76 365.66Z" fill="#a868ec"/>
<path d="M346.98 365.79L349.05 367.86L346.98 369.92L344.92 367.86Z" fill="#a868ec"/>
<path d="M338.93 358.90L340.99 360.97L338.93 363.03L336.87 360.97Z" fill="#a868ec"/>
<path d="M328.25 363.63L330.31 365.69L328.25 367.75L326.19 365.69Z" fill="#a868ec"/>
<path d="M337.71 362.30L339.77 364.36L337.71 366.42L335.65 364.36Z" fill="#a868ec"/>
<path d="M321.70 365.87L323.77 367.93L321.70 369.99L319.64 367.93Z" fill="#a868ec"/>
<path d="M324.62 361.15L326.69 363.22L324.62 365.28L322.56 363.22Z" fill="#a868ec"/>
<path d="M327.22 377.91L329.28 379.97L327.22 382.03L325.15 379.97Z" fill="#a868ec"/>
<path d="M331.51 376.96L333.57 379.03L331.51 381.09L329.45 379.03Z" fill="#a868ec"/>
<path d="M328.77 369.20L330.84 371.26L328.77 373.33L326.71 371.26Z" fill="#a868ec"/>
<path d="M338.38 373.79L340.45 375.86L338.38 377.92L336.32 375.86Z" fill="#a868ec"/>
<path d="M343.90 357.99L345.96 360.05L343.90 362.11L341.84 360.05Z" fill="#a868ec"/>
<path d="M342.02 372.68L344.09 374.74L342.02 376.81L339.96 374.74Z" fill="#a868ec"/>
<path d="M339.19 362.57L341.25 364.63L339.19 366.70L337.13 364.63Z" fill="#a868ec"/>
<path d="M346.26 366.74L348.33 368.81L346.26 370.87L344.20 368.81Z" fill="#a868ec"/>
<path d="M322.87 377.93L324.94 379.99L322.87 382.05L320.81 379.99Z" fill="#a868ec"/>
<path d="M334.77 366.87L336.83 368.93L334.77 370.99L332.71 368.93Z" fill="#a868ec"/>
<path d="M354.04 369.41L356.11 371.47L354.04 373.53L351.98 371.47Z" fill="#a868ec"/>
<path d="M333.74 371.33L335.81 373.40L333.74 375.46L331.68 373.40Z" fill="#a868ec"/>
<path d="M340.80 360.57L342.86 362.64L340.80 364.70L338.74 362.64Z" fill="#a868ec"/>
<path d="M335.85 367.30L337.92 369.36L335.85 371.42L333.79 369.36Z" fill="#a868ec"/>
<path d="M350.66 375.85L352.72 377.91L350.66 379.97L348.60 377.91Z" fill="#a868ec"/>
<path d="M333.79 364.01L335.86 366.08L333.79 368.14L331.73 366.08Z" fill="#a868ec"/>
<path d="M336.70 359.19L338.76 361.25L336.70 363.31L334.63 361.25Z" fill="#a868ec"/>
<path d="M334.50 372.02L336.57 374.08L334.50 376.14L332.44 374.08Z" fill="#a868ec"/>
<path d="M337.62 372.03L339.68 374.09L337.62 376.15L335.55 374.09Z" fill="#a868ec"/>
<path d="M330.05 373.42L332.12 375.48L330.05 377.54L327.99 375.48Z" fill="#a868ec"/>
<path d="M339.95 358.46L342.02 360.52L339.95 362.58L337.89 360.52Z" fill="#a868ec"/>
<path d="M321.28 372.88L323.34 374.95L321.28 377.01L319.21 374.95Z" fill="#a868ec"/>
<path d="M325.59 396.91L327.65 398.97L325.59 401.03L323.52 398.97Z" fill="#a868ec"/>
<path d="M320.64 387.10L322.71 389.16L320.64 391.22L318.58 389.16Z" fill="#a868ec"/>
<path d="M330.82 381.95L332.88 384.02L330.82 386.08L328.76 384.02Z" fill="#a868ec"/>
<path d="M330.84 385.51L332.90 387.57L330.84 389.63L328.78 387.57Z" fill="#a868ec"/>
<path d="M318.25 379.11L320.31 381.17L318.25 383.23L316.18 381.17Z" fill="#a868ec"/>
<path d="M329.92 392.91L331.98 394.98L329.92 397.04L327.86 394.98Z" fill="#a868ec"/>
<path d="M323.45 379.05L325.51 381.11L323.45 383.17L321.39 381.11Z" fill="#a868ec"/>
<path d="M343.69 386.63L345.76 388.69L343.69 390.75L341.63 388.69Z" fill="#a868ec"/>
<path d="M342.66 378.22L344.72 380.28L342.66 382.35L340.60 380.28Z" fill="#a868ec"/>
<path d="M342.93 391.26L344.99 393.32L342.93 395.38L340.87 393.32Z" fill="#a868ec"/>
<path d="M341.64 393.82L343.70 395.88L341.64 397.94L339.58 395.88Z" fill="#a868ec"/>
<path d="M354.82 384.85L356.88 386.91L354.82 388.97L352.76 386.91Z" fill="#a868ec"/>
<path d="M334.74 385.61L336.80 387.67L334.74 389.73L332.67 387.67Z" fill="#a868ec"/>
<path d="M342.75 380.34L344.81 382.40L342.75 384.46L340.69 382.40Z" fill="#a868ec"/>
<path d="M338.06 384.27L340.12 386.33L338.06 388.39L336.00 386.33Z" fill="#a868ec"/>
<path d="M324.37 395.40L326.43 397.46L324.37 399.52L322.31 397.46Z" fill="#a868ec"/>
<path d="M355.03 390.22L357.09 392.28L355.03 394.35L352.96 392.28Z" fill="#a868ec"/>
<path d="M334.90 388.00L336.96 390.07L334.90 392.13L332.84 390.07Z" fill="#a868ec"/>
<path d="M360.99 396.38L363.05 398.44L360.99 400.50L358.93 398.44Z" fill="#a868ec"/>
<path d="M339.09 378.06L341.15 380.12L339.09 382.18L337.02 380.12Z" fill="#a868ec"/>
<path d="M345.48 393.68L347.55 395.74L345.48 397.80L343.42 395.74Z" fill="#a868ec"/>
<path d="M355.55 384.95L357.61 387.01L355.55 389.07L353.49 387.01Z" fill="#a868ec"/>
<path d="M355.30 394.52L357.37 396.58L355.30 398.64L353.24 396.58Z" fill="#a868ec"/>
<path d="M335.16 389.70L337.22 391.77L335.16 393.83L333.10 391.77Z" fill="#a868ec"/>
<path d="M344.63 389.94L346.69 392.01L344.63 394.07L342.57 392.01Z" fill="#a868ec"/>
<path d="M317.86 397.45L319.93 399.52L317.86 401.58L315.80 399.52Z" fill="#a868ec"/>
<path d="M329.40 379.15L331.46 381.21L329.40 383.28L327.34 381.21Z" fill="#a868ec"/>
<path d="M320.63 390.11L322.69 392.17L320.63 394.24L318.57 392.17Z" fill="#a868ec"/>
<path d="M348.92 388.51L350.98 390.57L348.92 392.63L346.86 390.57Z" fill="#a868ec"/>
<path d="M336.83 392.08L338.89 394.14L336.83 396.21L334.76 394.14Z" fill="#a868ec"/>
<path d="M343.66 394.31L345.73 396.37L343.66 398.43L341.60 396.37Z" fill="#a868ec"/>
<path d="M341.86 385.17L343.93 387.23L341.86 389.29L339.80 387.23Z" fill="#a868ec"/>
<path d="M329.81 378.67L331.87 380.73L329.81 382.80L327.75 380.73Z" fill="#a868ec"/>
<path d="M330.14 379.62L332.20 381.68L330.14 383.75L328.08 381.68Z" fill="#a868ec"/>
<path d="M320.13 378.78L322.19 380.85L320.13 382.91L318.07 380.85Z" fill="#a868ec"/>
<path d="M327.32 390.68L329.38 392.74L327.32 394.80L325.26 392.74Z" fill="#a868ec"/>
<path d="M335.89 389.18L337.95 391.25L335.89 393.31L333.83 391.25Z" fill="#a868ec"/>
<path d="M331.67 387.06L333.74 389.12L331.67 391.19L329.61 389.12Z" fill="#a868ec"/>
<path d="M331.23 387.95L333.29 390.02L331.23 392.08L329.17 390.02Z" fill="#a868ec"/>
<path d="M319.68 387.18L321.75 389.24L319.68 391.30L317.62 389.24Z" fill="#a868ec"/>
<path d="M356.04 379.78L358.10 381.84L356.04 383.90L353.97 381.84Z" fill="#a868ec"/>
<path d="M331.03 385.94L333.09 388.01L331.03 390.07L328.97 388.01Z" fill="#a868ec"/>
<path d="M341.38 378.83L343.45 380.89L341.38 382.95L339.32 380.89Z" fill="#a868ec"/>
<path d="M359.61 395.75L361.67 397.81L359.61 399.87L357.55 397.81Z" fill="#a868ec"/>
<path d="M323.19 383.52L325.25 385.58L323.19 387.65L321.12 385.58Z" fill="#a868ec"/>
<path d="M338.75 385.50L340.81 387.56L338.75 389.62L336.69 387.56Z" fill="#a868ec"/>
<path d="M323.93 381.60L325.99 383.67L323.93 385.73L321.87 383.67Z" fill="#a868ec"/>
<path d="M355.35 384.53L357.41 386.60L355.35 388.66L353.28 386.60Z" fill="#a868ec"/>
<path d="M360.80 392.80L362.86 394.87L360.80 396.93L358.74 394.87Z" fill="#a868ec"/>
<path d="M332.22 395.51L334.28 397.58L332.22 399.64L330.15 397.58Z" fill="#a868ec"/>
<path d="M332.41 397.57L334.47 399.63L332.41 401.69L330.35 399.63Z" fill="#a868ec"/>
<path d="M347.66 392.20L349.72 394.26L347.66 396.33L345.60 394.26Z" fill="#a868ec"/>
<path d="M349.68 396.18L351.74 398.25L349.68 400.31L347.62 398.25Z" fill="#a868ec"/>
<path d="M342.80 389.89L344.86 391.95L342.80 394.01L340.74 391.95Z" fill="#a868ec"/>
<path d="M339.07 393.90L341.13 395.97L339.07 398.03L337.01 395.97Z" fill="#a868ec"/>
<path d="M330.46 388.03L332.53 390.09L330.46 392.16L328.40 390.09Z" fill="#a868ec"/>
<path d="M350.39 394.91L352.45 396.97L350.39 399.03L348.33 396.97Z" fill="#a868ec"/>
<path d="M326.89 394.18L328.95 396.25L326.89 398.31L324.82 396.25Z" fill="#a868ec"/>
<path d="M348.82 385.58L350.88 387.64L348.82 389.71L346.75 387.64Z" fill="#a868ec"/>
<path d="M325.89 390.90L327.95 392.96L325.89 395.03L323.83 392.96Z" fill="#a868ec"/>
<path d="M354.20 393.31L356.26 395.37L354.20 397.43L352.14 395.37Z" fill="#a868ec"/>
<path d="M325.60 386.92L327.66 388.98L325.60 391.05L323.54 388.98Z" fill="#a868ec"/>
<path d="M322.83 392.71L324.89 394.78L322.83 396.84L320.76 394.78Z" fill="#a868ec"/>
<path d="M343.30 390.84L345.36 392.91L343.30 394.97L341.23 392.91Z" fill="#a868ec"/>
<path d="M350.53 384.35L352.59 386.42L350.53 388.48L348.46 386.42Z" fill="#a868ec"/>
<path d="M333.55 382.14L335.61 384.20L333.55 386.26L331.49 384.20Z" fill="#a868ec"/>
<path d="M359.86 403.72L361.92 405.78L359.86 407.84L357.80 405.78Z" fill="#a868ec"/>
<path d="M357.12 398.01L359.19 400.07L357.12 402.13L355.06 400.07Z" fill="#a868ec"/>
<path d="M349.11 408.06L351.18 410.12L349.11 412.18L347.05 410.12Z" fill="#a868ec"/>
<path d="M358.09 403.61L360.15 405.68L358.09 407.74L356.02 405.68Z" fill="#a868ec"/>
<path d="M347.66 399.89L349.72 401.95L347.66 404.01L345.60 401.95Z" fill="#a868ec"/>
<path d="M356.11 402.64L358.17 404.70L356.11 406.76L354.04 404.70Z" fill="#a868ec"/>
<path d="M347.82 409.60L349.89 411.66L347.82 413.72L345.76 411.66Z" fill="#a868ec"/>
<path d="M346.66 406.41L348.72 408.48L346.66 410.54L344.60 408.48Z" fill="#a868ec"/>
<path d="M351.06 413.22L353.12 415.28L351.06 417.35L349.00 415.28Z" fill="#a868ec"/>
<path d="M347.63 406.90L349.69 408.97L347.63 411.03L345.57 408.97Z" fill="#a868ec"/>
<path d="M326.81 413.61L328.88 415.67L326.81 417.74L324.75 415.67Z" fill="#a868ec"/>
<path d="M326.95 398.16L329.01 400.22L326.95 402.28L324.88 400.22Z" fill="#a868ec"/>
<path d="M346.02 409.27L348.08 411.33L346.02 413.40L343.96 411.33Z" fill="#a868ec"/>
<path d="M346.23 399.82L348.30 401.89L346.23 403.95L344.17 401.89Z" fill="#a868ec"/>
<path d="M340.20 411.29L342.26 413.35L340.20 415.41L338.14 413.35Z" fill="#a868ec"/>
<path d="M356.34 405.50L358.40 407.56L356.34 409.63L354.28 407.56Z" fill="#a868ec"/>
<path d="M343.98 402.91L346.04 404.97L343.98 407.03L341.92 404.97Z" fill="#a868ec"/>
<path d="M345.00 410.68L347.06 412.75L345.00 414.81L342.94 412.75Z" fill="#a868ec"/>
<path d="M341.97 398.46L344.03 400.52L341.97 402.58L339.91 400.52Z" fill="#a868ec"/>
<path d="M337.91 402.90L339.98 404.96L337.91 407.03L335.85 404.96Z" fill="#a868ec"/>
<path d="M346.19 410.49L348.25 412.56L346.19 414.62L344.13 412.56Z" fill="#a868ec"/>
<path d="M336.94 413.72L339.00 415.78L336.94 417.84L334.88 415.78Z" fill="#a868ec"/>
<path d="M349.62 411.02L351.68 413.08L349.62 415.14L347.56 413.08Z" fill="#a868ec"/>
<path d="M330.68 403.96L332.74 406.02L330.68 408.08L328.61 406.02Z" fill="#a868ec"/>
<path d="M325.93 399.35L327.99 401.41L325.93 403.47L323.87 401.41Z" fill="#a868ec"/>
<path d="M336.32 399.72L338.38 401.79L336.32 403.85L334.25 401.79Z" fill="#a868ec"/>
<path d="M340.00 331.44L342.06 333.50L340.00 335.56L337.94 333.50Z" fill="#a868ec"/>
<path d="M343.00 331.44L345.06 333.50L343.00 335.56L340.94 333.50Z" fill="#a868ec"/>
<path d="M366.00 360.34L368.06 362.40L366.00 364.46L363.94 362.40Z" fill="#a868ec"/>
<path d="M328.30 415.74L330.36 417.80L328.30 419.86L326.24 417.80Z" fill="#a868ec"/>
<path d="M324.60 418.54L326.66 420.60L324.60 422.66L322.54 420.60Z" fill="#a868ec"/>
<path d="M355.60 418.54L357.66 420.60L355.60 422.66L353.54 420.60Z" fill="#a868ec"/>
<path d="M330.90 424.64L332.96 426.70L330.90 428.76L328.84 426.70Z" fill="#a868ec"/>
<path d="M332.30 424.64L334.36 426.70L332.30 428.76L330.24 426.70Z" fill="#a868ec"/>
<path d="M343.50 424.64L345.56 426.70L343.50 428.76L341.44 426.70Z" fill="#a868ec"/>
<path d="M348.50 424.64L350.56 426.70L348.50 428.76L346.44 426.70Z" fill="#a868ec"/>
<path d="M344.50 427.34L346.56 429.40L344.50 431.46L342.44 429.40Z" fill="#a868ec"/>
<path d="M349.10 427.34L351.16 429.40L349.10 431.46L347.04 429.40Z" fill="#a868ec"/>
<path d="M331.70 435.94L333.76 438.00L331.70 440.06L329.64 438.00Z" fill="#a868ec"/>
<path d="M342.40 435.94L344.46 438.00L342.40 440.06L340.34 438.00Z" fill="#a868ec"/>
<path d="M344.50 435.94L346.56 438.00L344.50 440.06L342.44 438.00Z" fill="#a868ec"/>
<path d="M353.60 435.94L355.66 438.00L353.60 440.06L351.54 438.00Z" fill="#a868ec"/>
<path d="M323.60 442.84L325.66 444.90L323.60 446.96L321.54 444.90Z" fill="#a868ec"/>
<path d="M331.90 446.54L333.96 448.60L331.90 450.66L329.84 448.60Z" fill="#a868ec"/>
<path d="M341.40 454.24L343.46 456.30L341.40 458.36L339.34 456.30Z" fill="#a868ec"/>
<path d="M370.00 496.94L372.06 499.00L370.00 501.06L367.94 499.00Z" fill="#a868ec"/>
<line x1="316.15" y1="380.08" x2="446.22" y2="383.05" stroke="#242424" stroke-width="1.0"/>
<line x1="316.15" y1="369.44" x2="376.23" y2="393.17" stroke="#ec2a2c" stroke-width="1.0"/>
<line x1="316.15" y1="371.53" x2="396.64" y2="396.52" stroke="#2356cc" stroke-width="1.0"/>
<line x1="316.15" y1="368.32" x2="370.39" y2="398.09" stroke="#22955c" stroke-width="1.0"/>
<line x1="316.15" y1="369.62" x2="370.39" y2="396.68" stroke="#a868ec" stroke-width="1.0"/>
<text x="-0.6" y="21.6" class="pp">（</text><text x="9.3" y="21.6" class="pl">a</text><text x="16.9" y="21.6" class="pp">）</text>
<text x="259.4" y="19.8" class="pp">（</text><text x="269.6" y="19.8" class="pl">b</text><text x="276.9" y="19.8" class="pp">）</text>
<text x="1.6" y="299.6" class="pp">（</text><text x="11.3" y="299.6" class="pl">c</text><text x="18.3" y="299.6" class="pp">）</text>
<text x="265.6" y="301.3" class="pp">（</text><text x="275.4" y="301.3" class="pl">d</text><text x="283.2" y="301.3" class="pp">）</text>
<text x="76.6" y="261.7" class="xl">EE−GRSP（<tspan dx="1" style="letter-spacing:0.5px">g·kg</tspan><tspan dy="-3.8" class="sup">-1</tspan><tspan dy="3.8">）</tspan></text>
<text x="334.1" y="261.5" class="xl">EE−GRSP（<tspan dx="1" style="letter-spacing:0.5px">g·kg</tspan><tspan dy="-3.8" class="sup">-1</tspan><tspan dy="3.8">）</tspan></text>
<text x="76.5" y="541.6" class="xl">EE−GRSP（<tspan dx="1" style="letter-spacing:0.5px">g·kg</tspan><tspan dy="-3.8" class="sup">-1</tspan><tspan dy="3.8">）</tspan></text>
<text x="335.4" y="543.4" class="xl">EE−GRSP（<tspan dx="1" style="letter-spacing:0.5px">g·kg</tspan><tspan dy="-3.8" class="sup">-1</tspan><tspan dy="3.8">）</tspan></text>
<text transform="translate(24.9 168.2) rotate(-90)" class="yl">MWD（<tspan dx="1.4">mm）</tspan></text>
<text transform="translate(282.9 167.4) rotate(-90)" class="yl">GMD（<tspan dx="1.4">mm）</tspan></text>
<text transform="translate(13.2 421.0) rotate(-90)" class="yl">D</text>
<text transform="translate(282.8 426.6) rotate(-90)" class="yl">UAI</text>
<rect x="89.82" y="10.52" width="2.75" height="2.75" fill="#242424"/>
<text x="101.20" y="14.40" class="lg" style="font-size:7.3px">&gt;2mm: y=0.03x+0.64 r=0.049</text>
<circle cx="91.20" cy="20.80" r="1.45" fill="#ec2a2c"/>
<text x="101.20" y="23.30" class="lg" style="font-size:7.3px">1−2mm: y=0.18x+0.56 r=0.204**</text>
<path d="M91.20 28.23L93.03 31.15L89.37 31.15Z" fill="#2356cc"/>
<text x="101.20" y="32.40" class="lg" style="font-size:7.3px">0.25−1mm: y=0.13x+0.59 r=0.156*</text>
<path d="M91.20 40.57L93.03 37.65L89.37 37.65Z" fill="#22955c"/>
<text x="101.20" y="41.40" class="lg" style="font-size:7.3px">0.053−0.25mm: y=0.20x+0.57 r=0.202**</text>
<path d="M91.20 46.29L93.01 48.10L91.20 49.91L89.39 48.10Z" fill="#a868ec"/>
<text x="101.20" y="50.60" class="lg" style="font-size:7.3px">&lt;0.053mm: y=0.21x+0.57 r=0.213**</text>
<rect x="352.82" y="7.52" width="2.75" height="2.75" fill="#242424"/>
<text x="361.20" y="11.40" class="lg" style="font-size:7.3px">&gt;2mm: y=0.05x+0.36 r=0.121</text>
<circle cx="354.20" cy="17.80" r="1.45" fill="#ec2a2c"/>
<text x="361.20" y="20.30" class="lg" style="font-size:7.3px">1−2mm: y=0.15x+0.31 r=0.233**</text>
<path d="M354.20 25.13L356.03 28.05L352.37 28.05Z" fill="#2356cc"/>
<text x="361.20" y="29.30" class="lg" style="font-size:7.3px">0.25−1mm: y=0.11x+0.33 r=0.182*</text>
<path d="M354.20 37.67L356.03 34.75L352.37 34.75Z" fill="#22955c"/>
<text x="361.20" y="38.50" class="lg" style="font-size:7.3px">0.053−0.25mm: y=0.14x+0.33 r=0.180*</text>
<path d="M354.20 43.49L356.01 45.30L354.20 47.11L352.39 45.30Z" fill="#a868ec"/>
<text x="361.20" y="47.80" class="lg" style="font-size:7.3px">&lt;0.053mm: y=0.19x+0.31 r=0.252**</text>
<rect x="84.72" y="289.62" width="2.75" height="2.75" fill="#242424"/>
<text x="96.10" y="293.50" class="lg" style="font-size:7.3px">&gt;2mm: y=−0.10x+2.39 r=−0.159*</text>
<circle cx="86.10" cy="300.20" r="1.45" fill="#ec2a2c"/>
<text x="96.10" y="302.70" class="lg" style="font-size:7.3px">1−2mm: y=−0.17x+2.43 r=−0.177*</text>
<path d="M86.10 307.53L87.93 310.45L84.27 310.45Z" fill="#2356cc"/>
<text x="96.10" y="311.70" class="lg" style="font-size:7.3px">0.25−1mm: y=−0.12x+2.40 r=−0.126</text>
<path d="M86.10 320.07L87.93 317.15L84.27 317.15Z" fill="#22955c"/>
<text x="96.10" y="320.90" class="lg" style="font-size:7.3px">0.053−0.25mm: y=−0.07x+2.37 r=−0.064</text>
<path d="M86.10 325.59L87.91 327.40L86.10 329.21L84.29 327.40Z" fill="#a868ec"/>
<text x="96.10" y="329.90" class="lg" style="font-size:7.3px">&lt;0.053mm: y=−0.18x+2.41 r=−0.154*</text>
<rect x="343.02" y="289.12" width="2.75" height="2.75" fill="#242424"/>
<text x="354.10" y="293.00" class="lg" style="font-size:7.25px">&gt;2mm: y=−0.53x+80.01 r=−0.156</text>
<circle cx="344.40" cy="300.80" r="1.45" fill="#ec2a2c"/>
<text x="354.10" y="303.30" class="lg" style="font-size:7.25px">1−2mm: y=−9.16x+84.41 r=−0.172*</text>
<path d="M344.40 309.93L346.23 312.85L342.57 312.85Z" fill="#2356cc"/>
<text x="354.10" y="314.10" class="lg" style="font-size:7.25px">0.25−1mm: y=−7.20x+83.54 r=−0.144</text>
<path d="M344.40 324.07L346.23 321.15L342.57 321.15Z" fill="#22955c"/>
<text x="354.10" y="324.90" class="lg" style="font-size:7.25px">0.053−0.25mm: y=−12.73x+84.93 r=−0.209**</text>
<path d="M344.40 331.29L346.21 333.10L344.40 334.91L342.59 333.10Z" fill="#a868ec"/>
<text x="354.10" y="335.60" class="lg" style="font-size:7.25px">&lt;0.053mm: y=−11.57x+84.39 r=−0.188*</text>
</svg></body></html>
